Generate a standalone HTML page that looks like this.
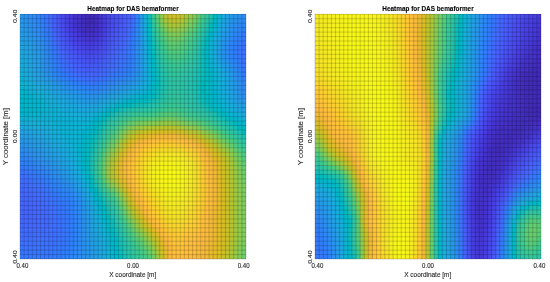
<!DOCTYPE html>
<html><head><meta charset="utf-8"><style>
html,body{margin:0;padding:0;background:#fff;width:550px;height:282px;overflow:hidden}
svg{display:block}
text{font-family:"Liberation Sans",Arial,sans-serif}
</style></head><body>
<svg width="550" height="282" viewBox="0 0 550 282">
<defs><filter id="b" x="-2%" y="-2%" width="104%" height="104%"><feGaussianBlur stdDeviation="0.40"/></filter><filter id="t"><feGaussianBlur stdDeviation="0.30"/></filter></defs>
<rect width="550" height="282" fill="#fff"/>
<g filter="url(#b)"><g shape-rendering="crispEdges">
<path fill="#2895ec" d="M20.00 14.30h4.11v4.45h-4.11zM233.67 14.30h4.11v4.45h-4.11zM24.11 23.20h4.11v4.45h-4.11zM225.45 32.10h4.11v4.45h-4.11zM32.33 36.55h4.11v4.45h-4.11zM36.44 45.44h4.11v4.45h-4.11zM221.35 45.44h4.11v4.45h-4.11zM221.35 54.34h4.11v4.45h-4.11zM40.55 63.24h4.11v4.45h-4.11zM229.56 67.69h4.11v4.45h-4.11zM52.87 81.04h4.11v4.45h-4.11zM69.31 89.93h4.11v4.45h-4.11zM81.64 94.38h4.11v4.45h-4.11zM32.33 147.77h4.11v4.45h-4.11zM48.76 161.12h4.11v4.45h-4.11zM52.87 165.57h4.11v4.45h-4.11zM56.98 170.02h4.11v4.45h-4.11zM61.09 174.47h4.11v4.45h-4.11zM65.20 178.92h4.11v4.45h-4.11zM77.53 192.26h4.11v4.45h-4.11zM81.64 205.61h4.11v4.45h-4.11zM85.75 245.65h4.11v4.45h-4.11zM85.75 250.10h4.11v4.45h-4.11zM85.75 254.55h4.11v4.45h-4.11z"/>
<path fill="#2b91ef" d="M24.11 14.30h4.11v4.45h-4.11zM233.67 18.75h4.11v4.45h-4.11zM28.22 23.20h4.11v4.45h-4.11zM229.56 27.65h4.11v4.45h-4.11zM32.33 32.10h4.11v4.45h-4.11zM225.45 36.55h4.11v4.45h-4.11zM36.44 40.99h4.11v4.45h-4.11zM225.45 58.79h4.11v4.45h-4.11zM135.05 67.69h4.11v4.45h-4.11zM233.67 72.14h4.11v4.45h-4.11zM130.95 76.59h4.11v4.45h-4.11zM20.00 143.32h4.11v4.45h-4.11zM32.33 152.22h4.11v4.45h-4.11zM44.65 161.12h4.11v4.45h-4.11zM48.76 165.57h4.11v4.45h-4.11zM52.87 170.02h4.11v4.45h-4.11zM56.98 174.47h4.11v4.45h-4.11zM81.64 218.96h4.11v4.45h-4.11zM81.64 223.41h4.11v4.45h-4.11zM81.64 227.86h4.11v4.45h-4.11zM81.64 254.55h4.11v4.45h-4.11z"/>
<path fill="#2d8ef2" d="M28.22 14.30h4.11v4.45h-4.11zM32.33 23.20h4.11v4.45h-4.11zM233.67 23.20h4.11v4.45h-4.11zM229.56 32.10h4.11v4.45h-4.11zM225.45 40.99h4.11v4.45h-4.11zM40.55 45.44h4.11v4.45h-4.11zM135.05 45.44h4.11v4.45h-4.11zM135.05 49.89h4.11v4.45h-4.11zM135.05 54.34h4.11v4.45h-4.11zM44.65 63.24h4.11v4.45h-4.11zM48.76 72.14h4.11v4.45h-4.11zM52.87 76.59h4.11v4.45h-4.11zM118.62 81.04h4.11v4.45h-4.11zM237.78 81.04h4.11v4.45h-4.11zM69.31 85.49h4.11v4.45h-4.11zM20.00 147.77h4.11v4.45h-4.11zM28.22 152.22h4.11v4.45h-4.11zM40.55 161.12h4.11v4.45h-4.11zM44.65 165.57h4.11v4.45h-4.11zM69.31 187.81h4.11v4.45h-4.11zM73.42 192.26h4.11v4.45h-4.11zM77.53 201.16h4.11v4.45h-4.11zM77.53 254.55h4.11v4.45h-4.11z"/>
<path fill="#2d8af5" d="M32.33 14.30h4.11v4.45h-4.11zM36.44 27.65h4.11v4.45h-4.11zM135.05 32.10h4.11v4.45h-4.11zM229.56 36.55h4.11v4.45h-4.11zM229.56 58.79h4.11v4.45h-4.11zM48.76 67.69h4.11v4.45h-4.11zM114.51 81.04h4.11v4.45h-4.11zM73.42 85.49h4.11v4.45h-4.11zM89.85 89.93h4.11v4.45h-4.11zM65.20 187.81h4.11v4.45h-4.11zM73.42 196.71h4.11v4.45h-4.11zM77.53 218.96h4.11v4.45h-4.11zM77.53 223.41h4.11v4.45h-4.11zM77.53 227.86h4.11v4.45h-4.11zM77.53 232.31h4.11v4.45h-4.11zM77.53 236.75h4.11v4.45h-4.11zM77.53 241.20h4.11v4.45h-4.11zM73.42 254.55h4.11v4.45h-4.11z"/>
<path fill="#2e83f9" d="M36.44 14.30h4.11v4.45h-4.11zM233.67 36.55h4.11v4.45h-4.11zM44.65 40.99h4.11v4.45h-4.11zM229.56 49.89h4.11v4.45h-4.11zM48.76 54.34h4.11v4.45h-4.11zM52.87 67.69h4.11v4.45h-4.11zM237.78 67.69h4.11v4.45h-4.11zM81.64 85.49h4.11v4.45h-4.11zM98.07 85.49h4.11v4.45h-4.11zM20.00 156.67h4.11v4.45h-4.11zM28.22 161.12h4.11v4.45h-4.11zM44.65 174.47h4.11v4.45h-4.11zM48.76 178.92h4.11v4.45h-4.11zM52.87 183.37h4.11v4.45h-4.11zM73.42 214.51h4.11v4.45h-4.11zM73.42 218.96h4.11v4.45h-4.11zM73.42 223.41h4.11v4.45h-4.11zM73.42 227.86h4.11v4.45h-4.11zM73.42 232.31h4.11v4.45h-4.11zM73.42 236.75h4.11v4.45h-4.11zM65.20 254.55h4.11v4.45h-4.11z"/>
<path fill="#337afd" d="M40.55 14.30h4.11v4.45h-4.11zM130.95 32.10h4.11v4.45h-4.11zM237.78 40.99h4.11v4.45h-4.11zM237.78 58.79h4.11v4.45h-4.11zM241.89 67.69h4.11v4.45h-4.11zM114.51 72.14h4.11v4.45h-4.11zM69.31 76.59h4.11v4.45h-4.11zM98.07 81.04h4.11v4.45h-4.11zM36.44 174.47h4.11v4.45h-4.11zM40.55 178.92h4.11v4.45h-4.11zM44.65 183.37h4.11v4.45h-4.11zM48.76 187.81h4.11v4.45h-4.11zM52.87 192.26h4.11v4.45h-4.11zM56.98 196.71h4.11v4.45h-4.11zM61.09 201.16h4.11v4.45h-4.11zM65.20 210.06h4.11v4.45h-4.11zM65.20 236.75h4.11v4.45h-4.11zM61.09 245.65h4.11v4.45h-4.11zM56.98 250.10h4.11v4.45h-4.11zM48.76 254.55h4.11v4.45h-4.11z"/>
<path fill="#3c71ff" d="M44.65 14.30h4.11v4.45h-4.11zM130.95 18.75h4.11v4.45h-4.11zM48.76 32.10h4.11v4.45h-4.11zM126.84 36.55h4.11v4.45h-4.11zM122.73 49.89h4.11v4.45h-4.11zM241.89 49.89h4.11v4.45h-4.11zM56.98 54.34h4.11v4.45h-4.11zM241.89 54.34h4.11v4.45h-4.11zM118.62 58.79h4.11v4.45h-4.11zM61.09 63.24h4.11v4.45h-4.11zM65.20 67.69h4.11v4.45h-4.11zM110.40 67.69h4.11v4.45h-4.11zM106.29 72.14h4.11v4.45h-4.11zM98.07 76.59h4.11v4.45h-4.11zM24.11 174.47h4.11v4.45h-4.11zM36.44 183.37h4.11v4.45h-4.11zM48.76 201.16h4.11v4.45h-4.11zM52.87 205.61h4.11v4.45h-4.11zM52.87 210.06h4.11v4.45h-4.11zM56.98 227.86h4.11v4.45h-4.11zM52.87 236.75h4.11v4.45h-4.11zM20.00 241.20h4.11v4.45h-4.11zM24.11 241.20h4.11v4.45h-4.11zM28.22 241.20h4.11v4.45h-4.11zM32.33 241.20h4.11v4.45h-4.11zM36.44 241.20h4.11v4.45h-4.11zM40.55 241.20h4.11v4.45h-4.11zM44.65 241.20h4.11v4.45h-4.11zM48.76 241.20h4.11v4.45h-4.11z"/>
<path fill="#4367fd" d="M48.76 14.30h4.11v4.45h-4.11zM126.84 23.20h4.11v4.45h-4.11zM52.87 32.10h4.11v4.45h-4.11zM114.51 49.89h4.11v4.45h-4.11zM65.20 58.79h4.11v4.45h-4.11zM69.31 63.24h4.11v4.45h-4.11zM106.29 63.24h4.11v4.45h-4.11zM73.42 67.69h4.11v4.45h-4.11zM102.18 67.69h4.11v4.45h-4.11zM81.64 72.14h4.11v4.45h-4.11zM20.00 192.26h4.11v4.45h-4.11zM20.00 196.71h4.11v4.45h-4.11zM24.11 196.71h4.11v4.45h-4.11zM28.22 196.71h4.11v4.45h-4.11zM28.22 201.16h4.11v4.45h-4.11zM32.33 201.16h4.11v4.45h-4.11zM32.33 205.61h4.11v4.45h-4.11zM36.44 205.61h4.11v4.45h-4.11zM36.44 210.06h4.11v4.45h-4.11zM20.00 214.51h4.11v4.45h-4.11zM36.44 214.51h4.11v4.45h-4.11zM20.00 218.96h4.11v4.45h-4.11zM24.11 218.96h4.11v4.45h-4.11zM28.22 218.96h4.11v4.45h-4.11zM32.33 218.96h4.11v4.45h-4.11zM36.44 218.96h4.11v4.45h-4.11z"/>
<path fill="#475bfa" d="M52.87 14.30h4.11v4.45h-4.11zM122.73 14.30h4.11v4.45h-4.11zM118.62 27.65h4.11v4.45h-4.11zM56.98 32.10h4.11v4.45h-4.11zM114.51 36.55h4.11v4.45h-4.11zM61.09 40.99h4.11v4.45h-4.11z"/>
<path fill="#4852f4" d="M56.98 14.30h4.11v4.45h-4.11zM114.51 18.75h4.11v4.45h-4.11zM110.40 32.10h4.11v4.45h-4.11zM106.29 40.99h4.11v4.45h-4.11zM69.31 45.44h4.11v4.45h-4.11zM73.42 49.89h4.11v4.45h-4.11z"/>
<path fill="#4849ed" d="M61.09 14.30h4.11v4.45h-4.11zM65.20 32.10h4.11v4.45h-4.11zM106.29 32.10h4.11v4.45h-4.11zM102.18 40.99h4.11v4.45h-4.11zM81.64 49.89h4.11v4.45h-4.11zM93.96 49.89h4.11v4.45h-4.11z"/>
<path fill="#4741e5" d="M65.20 14.30h4.11v4.45h-4.11zM65.20 18.75h4.11v4.45h-4.11zM69.31 32.10h4.11v4.45h-4.11zM102.18 32.10h4.11v4.45h-4.11zM85.75 45.44h4.11v4.45h-4.11zM89.85 45.44h4.11v4.45h-4.11z"/>
<path fill="#4639d9" d="M69.31 14.30h4.11v4.45h-4.11zM98.07 32.10h4.11v4.45h-4.11z"/>
<path fill="#4433cd" d="M73.42 14.30h4.11v4.45h-4.11zM98.07 14.30h4.11v4.45h-4.11zM98.07 18.75h4.11v4.45h-4.11zM93.96 32.10h4.11v4.45h-4.11z"/>
<path fill="#4330c5" d="M77.53 14.30h4.11v4.45h-4.11zM77.53 18.75h4.11v4.45h-4.11zM77.53 23.20h4.11v4.45h-4.11z"/>
<path fill="#412dbd" d="M81.64 14.30h4.11v4.45h-4.11zM81.64 18.75h4.11v4.45h-4.11zM89.85 23.20h4.11v4.45h-4.11z"/>
<path fill="#402bb7" d="M85.75 14.30h4.11v4.45h-4.11zM89.85 14.30h4.11v4.45h-4.11zM85.75 18.75h4.11v4.45h-4.11z"/>
<path fill="#422ebf" d="M93.96 14.30h4.11v4.45h-4.11zM93.96 18.75h4.11v4.45h-4.11zM81.64 23.20h4.11v4.45h-4.11zM85.75 27.65h4.11v4.45h-4.11zM89.85 27.65h4.11v4.45h-4.11z"/>
<path fill="#463bde" d="M102.18 14.30h4.11v4.45h-4.11zM69.31 23.20h4.11v4.45h-4.11zM102.18 23.20h4.11v4.45h-4.11z"/>
<path fill="#4744e8" d="M106.29 14.30h4.11v4.45h-4.11zM106.29 18.75h4.11v4.45h-4.11zM65.20 23.20h4.11v4.45h-4.11zM106.29 23.20h4.11v4.45h-4.11zM93.96 45.44h4.11v4.45h-4.11z"/>
<path fill="#484ef1" d="M110.40 14.30h4.11v4.45h-4.11zM65.20 36.55h4.11v4.45h-4.11zM106.29 36.55h4.11v4.45h-4.11zM77.53 49.89h4.11v4.45h-4.11zM98.07 49.89h4.11v4.45h-4.11zM85.75 54.34h4.11v4.45h-4.11zM89.85 54.34h4.11v4.45h-4.11z"/>
<path fill="#4853f5" d="M114.51 14.30h4.11v4.45h-4.11zM114.51 23.20h4.11v4.45h-4.11zM61.09 32.10h4.11v4.45h-4.11zM65.20 40.99h4.11v4.45h-4.11zM102.18 49.89h4.11v4.45h-4.11zM77.53 54.34h4.11v4.45h-4.11zM98.07 54.34h4.11v4.45h-4.11zM85.75 58.79h4.11v4.45h-4.11zM89.85 58.79h4.11v4.45h-4.11z"/>
<path fill="#4757f7" d="M118.62 14.30h4.11v4.45h-4.11zM118.62 18.75h4.11v4.45h-4.11zM61.09 36.55h4.11v4.45h-4.11zM69.31 49.89h4.11v4.45h-4.11z"/>
<path fill="#4562fc" d="M126.84 14.30h4.11v4.45h-4.11zM52.87 27.65h4.11v4.45h-4.11zM114.51 45.44h4.11v4.45h-4.11zM65.20 54.34h4.11v4.45h-4.11zM106.29 58.79h4.11v4.45h-4.11zM98.07 67.69h4.11v4.45h-4.11z"/>
<path fill="#3f6eff" d="M130.95 14.30h4.11v4.45h-4.11zM48.76 27.65h4.11v4.45h-4.11zM52.87 40.99h4.11v4.45h-4.11zM122.73 45.44h4.11v4.45h-4.11zM118.62 54.34h4.11v4.45h-4.11zM73.42 72.14h4.11v4.45h-4.11zM85.75 76.59h4.11v4.45h-4.11zM93.96 76.59h4.11v4.45h-4.11zM24.11 178.92h4.11v4.45h-4.11zM36.44 187.81h4.11v4.45h-4.11zM40.55 192.26h4.11v4.45h-4.11zM44.65 201.16h4.11v4.45h-4.11zM48.76 205.61h4.11v4.45h-4.11zM48.76 210.06h4.11v4.45h-4.11zM48.76 227.86h4.11v4.45h-4.11zM48.76 232.31h4.11v4.45h-4.11zM20.00 236.75h4.11v4.45h-4.11zM24.11 236.75h4.11v4.45h-4.11zM28.22 236.75h4.11v4.45h-4.11zM32.33 236.75h4.11v4.45h-4.11zM36.44 236.75h4.11v4.45h-4.11zM40.55 236.75h4.11v4.45h-4.11z"/>
<path fill="#2e84f8" d="M135.05 14.30h4.11v4.45h-4.11zM36.44 18.75h4.11v4.45h-4.11zM241.89 23.20h4.11v4.45h-4.11zM40.55 32.10h4.11v4.45h-4.11zM229.56 45.44h4.11v4.45h-4.11zM229.56 54.34h4.11v4.45h-4.11zM48.76 58.79h4.11v4.45h-4.11zM130.95 58.79h4.11v4.45h-4.11zM126.84 72.14h4.11v4.45h-4.11zM61.09 76.59h4.11v4.45h-4.11zM118.62 76.59h4.11v4.45h-4.11zM69.31 81.04h4.11v4.45h-4.11zM241.89 81.04h4.11v4.45h-4.11zM40.55 170.02h4.11v4.45h-4.11zM65.20 192.26h4.11v4.45h-4.11zM69.31 196.71h4.11v4.45h-4.11zM73.42 210.06h4.11v4.45h-4.11zM73.42 241.20h4.11v4.45h-4.11zM69.31 250.10h4.11v4.45h-4.11z"/>
<path fill="#259be8" d="M139.16 14.30h4.11v4.45h-4.11zM229.56 14.30h4.11v4.45h-4.11zM139.16 23.20h4.11v4.45h-4.11zM225.45 23.20h4.11v4.45h-4.11zM20.00 27.65h4.11v4.45h-4.11zM139.16 27.65h4.11v4.45h-4.11zM139.16 32.10h4.11v4.45h-4.11zM139.16 36.55h4.11v4.45h-4.11zM139.16 40.99h4.11v4.45h-4.11zM139.16 45.44h4.11v4.45h-4.11zM139.16 49.89h4.11v4.45h-4.11zM139.16 54.34h4.11v4.45h-4.11zM139.16 58.79h4.11v4.45h-4.11zM36.44 63.24h4.11v4.45h-4.11zM139.16 63.24h4.11v4.45h-4.11zM233.67 89.93h4.11v4.45h-4.11zM73.42 94.38h4.11v4.45h-4.11zM89.85 98.83h4.11v4.45h-4.11zM28.22 138.87h4.11v4.45h-4.11zM40.55 147.77h4.11v4.45h-4.11zM44.65 152.22h4.11v4.45h-4.11zM77.53 187.81h4.11v4.45h-4.11zM85.75 214.51h4.11v4.45h-4.11zM89.85 245.65h4.11v4.45h-4.11z"/>
<path fill="#12b1d6" d="M143.27 14.30h4.11v4.45h-4.11zM209.02 49.89h4.11v4.45h-4.11zM213.13 67.69h4.11v4.45h-4.11zM217.24 76.59h4.11v4.45h-4.11zM24.11 81.04h4.11v4.45h-4.11zM217.24 81.04h4.11v4.45h-4.11zM28.22 85.49h4.11v4.45h-4.11zM217.24 85.49h4.11v4.45h-4.11zM40.55 94.38h4.11v4.45h-4.11zM44.65 98.83h4.11v4.45h-4.11zM221.35 98.83h4.11v4.45h-4.11zM48.76 103.28h4.11v4.45h-4.11zM52.87 107.73h4.11v4.45h-4.11zM56.98 112.18h4.11v4.45h-4.11zM65.20 116.63h4.11v4.45h-4.11zM69.31 116.63h4.11v4.45h-4.11zM73.42 116.63h4.11v4.45h-4.11zM81.64 116.63h4.11v4.45h-4.11zM85.75 116.63h4.11v4.45h-4.11zM44.65 121.08h4.11v4.45h-4.11zM48.76 121.08h4.11v4.45h-4.11zM52.87 125.53h4.11v4.45h-4.11zM56.98 129.98h4.11v4.45h-4.11zM61.09 134.43h4.11v4.45h-4.11zM65.20 138.87h4.11v4.45h-4.11zM69.31 143.32h4.11v4.45h-4.11zM73.42 152.22h4.11v4.45h-4.11zM77.53 165.57h4.11v4.45h-4.11zM85.75 183.37h4.11v4.45h-4.11zM89.85 192.26h4.11v4.45h-4.11zM106.29 245.65h4.11v4.45h-4.11z"/>
<path fill="#14beb8" d="M147.38 14.30h4.11v4.45h-4.11zM209.02 18.75h4.11v4.45h-4.11zM151.49 40.99h4.11v4.45h-4.11zM200.80 40.99h4.11v4.45h-4.11zM196.69 76.59h4.11v4.45h-4.11zM196.69 81.04h4.11v4.45h-4.11zM196.69 89.93h4.11v4.45h-4.11zM196.69 94.38h4.11v4.45h-4.11zM135.05 103.28h4.11v4.45h-4.11zM118.62 107.73h4.11v4.45h-4.11zM110.40 112.18h4.11v4.45h-4.11zM221.35 116.63h4.11v4.45h-4.11zM102.18 121.08h4.11v4.45h-4.11zM233.67 125.53h4.11v4.45h-4.11zM98.07 129.98h4.11v4.45h-4.11zM93.96 138.87h4.11v4.45h-4.11zM93.96 183.37h4.11v4.45h-4.11z"/>
<path fill="#38c896" d="M151.49 14.30h4.11v4.45h-4.11zM155.60 32.10h4.11v4.45h-4.11zM192.58 36.55h4.11v4.45h-4.11zM159.71 45.44h4.11v4.45h-4.11zM167.93 103.28h4.11v4.45h-4.11zM172.04 103.28h4.11v4.45h-4.11zM135.05 112.18h4.11v4.45h-4.11zM114.51 121.08h4.11v4.45h-4.11zM98.07 152.22h4.11v4.45h-4.11zM122.73 227.86h4.11v4.45h-4.11zM126.84 236.75h4.11v4.45h-4.11z"/>
<path fill="#64cd6f" d="M155.60 14.30h4.11v4.45h-4.11zM172.04 40.99h4.11v4.45h-4.11zM155.60 116.63h4.11v4.45h-4.11zM192.58 121.08h4.11v4.45h-4.11zM229.56 143.32h4.11v4.45h-4.11zM106.29 147.77h4.11v4.45h-4.11zM233.67 147.77h4.11v4.45h-4.11zM102.18 161.12h4.11v4.45h-4.11z"/>
<path fill="#8fcb4e" d="M159.71 14.30h4.11v4.45h-4.11zM163.82 23.20h4.11v4.45h-4.11zM167.93 27.65h4.11v4.45h-4.11zM176.15 121.08h4.11v4.45h-4.11zM221.35 143.32h4.11v4.45h-4.11zM229.56 152.22h4.11v4.45h-4.11zM233.67 161.12h4.11v4.45h-4.11zM237.78 192.26h4.11v4.45h-4.11zM237.78 196.71h4.11v4.45h-4.11zM237.78 201.16h4.11v4.45h-4.11zM237.78 205.61h4.11v4.45h-4.11zM237.78 210.06h4.11v4.45h-4.11zM237.78 214.51h4.11v4.45h-4.11zM130.95 218.96h4.11v4.45h-4.11zM237.78 218.96h4.11v4.45h-4.11zM237.78 236.75h4.11v4.45h-4.11z"/>
<path fill="#b5c533" d="M163.82 14.30h4.11v4.45h-4.11zM155.60 125.53h4.11v4.45h-4.11zM176.15 125.53h4.11v4.45h-4.11zM200.80 134.43h4.11v4.45h-4.11zM213.13 143.32h4.11v4.45h-4.11zM225.45 156.67h4.11v4.45h-4.11zM110.40 174.47h4.11v4.45h-4.11zM229.56 187.81h4.11v4.45h-4.11zM229.56 192.26h4.11v4.45h-4.11zM229.56 196.71h4.11v4.45h-4.11zM229.56 201.16h4.11v4.45h-4.11zM229.56 205.61h4.11v4.45h-4.11zM229.56 210.06h4.11v4.45h-4.11zM139.16 223.41h4.11v4.45h-4.11zM143.27 227.86h4.11v4.45h-4.11zM147.38 232.31h4.11v4.45h-4.11zM229.56 241.20h4.11v4.45h-4.11z"/>
<path fill="#c8c129" d="M167.93 14.30h4.11v4.45h-4.11zM143.27 129.98h4.11v4.45h-4.11zM184.36 129.98h4.11v4.45h-4.11zM209.02 143.32h4.11v4.45h-4.11zM114.51 156.67h4.11v4.45h-4.11zM118.62 183.37h4.11v4.45h-4.11zM225.45 192.26h4.11v4.45h-4.11zM225.45 196.71h4.11v4.45h-4.11zM225.45 201.16h4.11v4.45h-4.11zM130.95 205.61h4.11v4.45h-4.11zM225.45 205.61h4.11v4.45h-4.11zM225.45 210.06h4.11v4.45h-4.11zM225.45 214.51h4.11v4.45h-4.11zM139.16 218.96h4.11v4.45h-4.11zM225.45 218.96h4.11v4.45h-4.11zM225.45 223.41h4.11v4.45h-4.11zM225.45 227.86h4.11v4.45h-4.11zM225.45 232.31h4.11v4.45h-4.11zM225.45 236.75h4.11v4.45h-4.11zM221.35 254.55h4.11v4.45h-4.11z"/>
<path fill="#cec027" d="M172.04 14.30h4.11v4.45h-4.11zM147.38 129.98h4.11v4.45h-4.11zM126.84 138.87h4.11v4.45h-4.11zM221.35 161.12h4.11v4.45h-4.11zM126.84 196.71h4.11v4.45h-4.11zM151.49 232.31h4.11v4.45h-4.11zM221.35 250.10h4.11v4.45h-4.11z"/>
<path fill="#cbc128" d="M176.15 14.30h4.11v4.45h-4.11zM130.95 134.43h4.11v4.45h-4.11zM122.73 143.32h4.11v4.45h-4.11zM213.13 147.77h4.11v4.45h-4.11zM217.24 152.22h4.11v4.45h-4.11zM143.27 223.41h4.11v4.45h-4.11zM147.38 227.86h4.11v4.45h-4.11zM159.71 250.10h4.11v4.45h-4.11z"/>
<path fill="#bec32d" d="M180.25 14.30h4.11v4.45h-4.11zM172.04 18.75h4.11v4.45h-4.11zM225.45 165.57h4.11v4.45h-4.11zM225.45 250.10h4.11v4.45h-4.11z"/>
<path fill="#abc739" d="M184.36 14.30h4.11v4.45h-4.11zM172.04 23.20h4.11v4.45h-4.11zM176.15 23.20h4.11v4.45h-4.11zM147.38 125.53h4.11v4.45h-4.11zM180.25 125.53h4.11v4.45h-4.11zM229.56 165.57h4.11v4.45h-4.11zM114.51 183.37h4.11v4.45h-4.11z"/>
<path fill="#93ca4b" d="M188.47 14.30h4.11v4.45h-4.11zM176.15 27.65h4.11v4.45h-4.11zM159.71 121.08h4.11v4.45h-4.11zM172.04 121.08h4.11v4.45h-4.11zM200.80 129.98h4.11v4.45h-4.11zM209.02 134.43h4.11v4.45h-4.11zM114.51 143.32h4.11v4.45h-4.11zM225.45 147.77h4.11v4.45h-4.11zM106.29 165.57h4.11v4.45h-4.11zM106.29 170.02h4.11v4.45h-4.11zM122.73 201.16h4.11v4.45h-4.11zM237.78 223.41h4.11v4.45h-4.11zM237.78 227.86h4.11v4.45h-4.11zM237.78 232.31h4.11v4.45h-4.11z"/>
<path fill="#76cc61" d="M192.58 14.30h4.11v4.45h-4.11zM188.47 23.20h4.11v4.45h-4.11zM180.25 32.10h4.11v4.45h-4.11zM106.29 152.22h4.11v4.45h-4.11zM233.67 152.22h4.11v4.45h-4.11zM237.78 161.12h4.11v4.45h-4.11zM241.89 183.37h4.11v4.45h-4.11zM241.89 245.65h4.11v4.45h-4.11z"/>
<path fill="#5acc77" d="M196.69 14.30h4.11v4.45h-4.11zM192.58 23.20h4.11v4.45h-4.11zM163.82 36.55h4.11v4.45h-4.11zM180.25 40.99h4.11v4.45h-4.11zM172.04 45.44h4.11v4.45h-4.11zM147.38 116.63h4.11v4.45h-4.11zM196.69 121.08h4.11v4.45h-4.11zM118.62 205.61h4.11v4.45h-4.11zM126.84 223.41h4.11v4.45h-4.11zM135.05 236.75h4.11v4.45h-4.11z"/>
<path fill="#42ca8b" d="M200.80 14.30h4.11v4.45h-4.11zM196.69 23.20h4.11v4.45h-4.11zM167.93 54.34h4.11v4.45h-4.11zM180.25 54.34h4.11v4.45h-4.11zM167.93 107.73h4.11v4.45h-4.11zM172.04 107.73h4.11v4.45h-4.11zM126.84 116.63h4.11v4.45h-4.11zM118.62 121.08h4.11v4.45h-4.11zM98.07 161.12h4.11v4.45h-4.11zM98.07 165.57h4.11v4.45h-4.11z"/>
<path fill="#31c5a1" d="M204.91 14.30h4.11v4.45h-4.11zM192.58 45.44h4.11v4.45h-4.11zM159.71 54.34h4.11v4.45h-4.11zM188.47 58.79h4.11v4.45h-4.11zM163.82 63.24h4.11v4.45h-4.11zM172.04 94.38h4.11v4.45h-4.11zM176.15 94.38h4.11v4.45h-4.11zM180.25 98.83h4.11v4.45h-4.11zM159.71 103.28h4.11v4.45h-4.11zM184.36 103.28h4.11v4.45h-4.11zM118.62 223.41h4.11v4.45h-4.11zM130.95 254.55h4.11v4.45h-4.11z"/>
<path fill="#20c1b1" d="M209.02 14.30h4.11v4.45h-4.11zM196.69 54.34h4.11v4.45h-4.11zM159.71 72.14h4.11v4.45h-4.11zM192.58 72.14h4.11v4.45h-4.11zM192.58 94.38h4.11v4.45h-4.11zM147.38 103.28h4.11v4.45h-4.11zM114.51 112.18h4.11v4.45h-4.11zM217.24 116.63h4.11v4.45h-4.11zM114.51 223.41h4.11v4.45h-4.11zM122.73 250.10h4.11v4.45h-4.11z"/>
<path fill="#01bac4" d="M213.13 14.30h4.11v4.45h-4.11zM147.38 27.65h4.11v4.45h-4.11zM204.91 72.14h4.11v4.45h-4.11zM204.91 76.59h4.11v4.45h-4.11zM204.91 81.04h4.11v4.45h-4.11zM204.91 85.49h4.11v4.45h-4.11zM151.49 89.93h4.11v4.45h-4.11zM204.91 89.93h4.11v4.45h-4.11zM204.91 94.38h4.11v4.45h-4.11zM221.35 112.18h4.11v4.45h-4.11z"/>
<path fill="#0bb3d2" d="M217.24 14.30h4.11v4.45h-4.11zM213.13 72.14h4.11v4.45h-4.11zM28.22 89.93h4.11v4.45h-4.11zM143.27 89.93h4.11v4.45h-4.11zM36.44 94.38h4.11v4.45h-4.11zM135.05 94.38h4.11v4.45h-4.11zM40.55 98.83h4.11v4.45h-4.11zM110.40 103.28h4.11v4.45h-4.11zM221.35 103.28h4.11v4.45h-4.11zM44.65 107.73h4.11v4.45h-4.11zM225.45 107.73h4.11v4.45h-4.11zM40.55 112.18h4.11v4.45h-4.11zM44.65 112.18h4.11v4.45h-4.11zM237.78 116.63h4.11v4.45h-4.11zM85.75 121.08h4.11v4.45h-4.11zM77.53 125.53h4.11v4.45h-4.11zM81.64 125.53h4.11v4.45h-4.11zM73.42 129.98h4.11v4.45h-4.11zM73.42 134.43h4.11v4.45h-4.11zM73.42 138.87h4.11v4.45h-4.11zM77.53 156.67h4.11v4.45h-4.11zM98.07 210.06h4.11v4.45h-4.11zM102.18 223.41h4.11v4.45h-4.11z"/>
<path fill="#1caadf" d="M221.35 14.30h4.11v4.45h-4.11zM217.24 27.65h4.11v4.45h-4.11zM213.13 40.99h4.11v4.45h-4.11zM143.27 45.44h4.11v4.45h-4.11zM221.35 72.14h4.11v4.45h-4.11zM143.27 76.59h4.11v4.45h-4.11zM44.65 89.93h4.11v4.45h-4.11zM130.95 89.93h4.11v4.45h-4.11zM225.45 94.38h4.11v4.45h-4.11zM56.98 98.83h4.11v4.45h-4.11zM65.20 103.28h4.11v4.45h-4.11zM77.53 107.73h4.11v4.45h-4.11zM89.85 107.73h4.11v4.45h-4.11zM241.89 112.18h4.11v4.45h-4.11zM28.22 125.53h4.11v4.45h-4.11zM40.55 129.98h4.11v4.45h-4.11zM69.31 161.12h4.11v4.45h-4.11zM89.85 201.16h4.11v4.45h-4.11zM93.96 218.96h4.11v4.45h-4.11zM102.18 250.10h4.11v4.45h-4.11z"/>
<path fill="#22a2e4" d="M225.45 14.30h4.11v4.45h-4.11zM20.00 40.99h4.11v4.45h-4.11zM24.11 45.44h4.11v4.45h-4.11zM32.33 67.69h4.11v4.45h-4.11zM36.44 76.59h4.11v4.45h-4.11zM229.56 89.93h4.11v4.45h-4.11zM110.40 94.38h4.11v4.45h-4.11zM233.67 98.83h4.11v4.45h-4.11zM237.78 103.28h4.11v4.45h-4.11zM20.00 129.98h4.11v4.45h-4.11zM32.33 134.43h4.11v4.45h-4.11zM44.65 143.32h4.11v4.45h-4.11zM48.76 147.77h4.11v4.45h-4.11zM65.20 165.57h4.11v4.45h-4.11zM89.85 218.96h4.11v4.45h-4.11zM93.96 241.20h4.11v4.45h-4.11z"/>
<path fill="#2c90f0" d="M237.78 14.30h4.11v4.45h-4.11zM28.22 18.75h4.11v4.45h-4.11zM40.55 49.89h4.11v4.45h-4.11zM135.05 63.24h4.11v4.45h-4.11zM44.65 67.69h4.11v4.45h-4.11zM56.98 81.04h4.11v4.45h-4.11zM122.73 81.04h4.11v4.45h-4.11zM65.20 85.49h4.11v4.45h-4.11zM237.78 85.49h4.11v4.45h-4.11zM77.53 89.93h4.11v4.45h-4.11zM102.18 89.93h4.11v4.45h-4.11zM241.89 94.38h4.11v4.45h-4.11zM36.44 156.67h4.11v4.45h-4.11zM61.09 178.92h4.11v4.45h-4.11zM77.53 196.71h4.11v4.45h-4.11zM81.64 232.31h4.11v4.45h-4.11zM81.64 236.75h4.11v4.45h-4.11zM81.64 241.20h4.11v4.45h-4.11zM81.64 245.65h4.11v4.45h-4.11zM81.64 250.10h4.11v4.45h-4.11z"/>
<path fill="#2d8cf3" d="M241.89 14.30h4.11v4.45h-4.11zM237.78 18.75h4.11v4.45h-4.11zM36.44 32.10h4.11v4.45h-4.11zM135.05 40.99h4.11v4.45h-4.11zM225.45 54.34h4.11v4.45h-4.11zM44.65 58.79h4.11v4.45h-4.11zM233.67 67.69h4.11v4.45h-4.11zM61.09 81.04h4.11v4.45h-4.11zM81.64 89.93h4.11v4.45h-4.11zM98.07 89.93h4.11v4.45h-4.11zM241.89 89.93h4.11v4.45h-4.11zM32.33 156.67h4.11v4.45h-4.11zM48.76 170.02h4.11v4.45h-4.11zM52.87 174.47h4.11v4.45h-4.11zM56.98 178.92h4.11v4.45h-4.11zM77.53 205.61h4.11v4.45h-4.11zM77.53 250.10h4.11v4.45h-4.11z"/>
<path fill="#2797eb" d="M20.00 18.75h4.11v4.45h-4.11zM28.22 32.10h4.11v4.45h-4.11zM221.35 40.99h4.11v4.45h-4.11zM40.55 67.69h4.11v4.45h-4.11zM233.67 81.04h4.11v4.45h-4.11zM118.62 85.49h4.11v4.45h-4.11zM98.07 94.38h4.11v4.45h-4.11zM241.89 98.83h4.11v4.45h-4.11zM20.00 138.87h4.11v4.45h-4.11zM28.22 143.32h4.11v4.45h-4.11zM44.65 156.67h4.11v4.45h-4.11zM81.64 201.16h4.11v4.45h-4.11zM85.75 236.75h4.11v4.45h-4.11zM85.75 241.20h4.11v4.45h-4.11z"/>
<path fill="#2994ed" d="M24.11 18.75h4.11v4.45h-4.11zM229.56 23.20h4.11v4.45h-4.11zM28.22 27.65h4.11v4.45h-4.11zM221.35 49.89h4.11v4.45h-4.11zM40.55 58.79h4.11v4.45h-4.11zM44.65 72.14h4.11v4.45h-4.11zM135.05 72.14h4.11v4.45h-4.11zM48.76 76.59h4.11v4.45h-4.11zM233.67 76.59h4.11v4.45h-4.11zM126.84 81.04h4.11v4.45h-4.11zM61.09 85.49h4.11v4.45h-4.11zM106.29 89.93h4.11v4.45h-4.11zM237.78 89.93h4.11v4.45h-4.11zM85.75 94.38h4.11v4.45h-4.11zM93.96 94.38h4.11v4.45h-4.11zM24.11 143.32h4.11v4.45h-4.11zM36.44 152.22h4.11v4.45h-4.11zM69.31 183.37h4.11v4.45h-4.11zM73.42 187.81h4.11v4.45h-4.11zM81.64 210.06h4.11v4.45h-4.11z"/>
<path fill="#2d8bf4" d="M32.33 18.75h4.11v4.45h-4.11zM233.67 27.65h4.11v4.45h-4.11zM135.05 36.55h4.11v4.45h-4.11zM40.55 40.99h4.11v4.45h-4.11zM225.45 45.44h4.11v4.45h-4.11zM225.45 49.89h4.11v4.45h-4.11zM44.65 54.34h4.11v4.45h-4.11zM130.95 72.14h4.11v4.45h-4.11zM126.84 76.59h4.11v4.45h-4.11zM237.78 76.59h4.11v4.45h-4.11zM106.29 85.49h4.11v4.45h-4.11zM85.75 89.93h4.11v4.45h-4.11zM93.96 89.93h4.11v4.45h-4.11zM24.11 152.22h4.11v4.45h-4.11zM36.44 161.12h4.11v4.45h-4.11zM61.09 183.37h4.11v4.45h-4.11zM77.53 210.06h4.11v4.45h-4.11zM77.53 214.51h4.11v4.45h-4.11zM77.53 245.65h4.11v4.45h-4.11z"/>
<path fill="#317dfc" d="M40.55 18.75h4.11v4.45h-4.11zM130.95 36.55h4.11v4.45h-4.11zM237.78 36.55h4.11v4.45h-4.11zM233.67 45.44h4.11v4.45h-4.11zM52.87 58.79h4.11v4.45h-4.11zM126.84 63.24h4.11v4.45h-4.11zM56.98 67.69h4.11v4.45h-4.11zM118.62 72.14h4.11v4.45h-4.11zM241.89 72.14h4.11v4.45h-4.11zM110.40 76.59h4.11v4.45h-4.11zM102.18 81.04h4.11v4.45h-4.11zM56.98 192.26h4.11v4.45h-4.11zM61.09 196.71h4.11v4.45h-4.11zM65.20 201.16h4.11v4.45h-4.11zM69.31 214.51h4.11v4.45h-4.11zM69.31 218.96h4.11v4.45h-4.11zM69.31 223.41h4.11v4.45h-4.11zM69.31 227.86h4.11v4.45h-4.11zM69.31 232.31h4.11v4.45h-4.11zM65.20 245.65h4.11v4.45h-4.11zM61.09 250.10h4.11v4.45h-4.11zM56.98 254.55h4.11v4.45h-4.11z"/>
<path fill="#3b73ff" d="M44.65 18.75h4.11v4.45h-4.11zM52.87 45.44h4.11v4.45h-4.11zM241.89 45.44h4.11v4.45h-4.11zM122.73 54.34h4.11v4.45h-4.11zM241.89 58.79h4.11v4.45h-4.11zM69.31 72.14h4.11v4.45h-4.11zM77.53 76.59h4.11v4.45h-4.11zM32.33 178.92h4.11v4.45h-4.11zM40.55 187.81h4.11v4.45h-4.11zM44.65 192.26h4.11v4.45h-4.11zM48.76 196.71h4.11v4.45h-4.11zM56.98 214.51h4.11v4.45h-4.11zM56.98 218.96h4.11v4.45h-4.11zM56.98 223.41h4.11v4.45h-4.11zM56.98 232.31h4.11v4.45h-4.11zM56.98 236.75h4.11v4.45h-4.11zM52.87 241.20h4.11v4.45h-4.11zM24.11 245.65h4.11v4.45h-4.11zM28.22 245.65h4.11v4.45h-4.11zM32.33 245.65h4.11v4.45h-4.11zM36.44 245.65h4.11v4.45h-4.11zM40.55 245.65h4.11v4.45h-4.11z"/>
<path fill="#4368fe" d="M48.76 18.75h4.11v4.45h-4.11zM122.73 36.55h4.11v4.45h-4.11zM56.98 45.44h4.11v4.45h-4.11zM118.62 45.44h4.11v4.45h-4.11zM110.40 58.79h4.11v4.45h-4.11zM98.07 72.14h4.11v4.45h-4.11zM20.00 187.81h4.11v4.45h-4.11zM24.11 192.26h4.11v4.45h-4.11zM28.22 192.26h4.11v4.45h-4.11zM32.33 196.71h4.11v4.45h-4.11zM36.44 201.16h4.11v4.45h-4.11zM40.55 210.06h4.11v4.45h-4.11zM40.55 214.51h4.11v4.45h-4.11zM40.55 218.96h4.11v4.45h-4.11zM20.00 223.41h4.11v4.45h-4.11zM24.11 223.41h4.11v4.45h-4.11zM28.22 223.41h4.11v4.45h-4.11zM32.33 223.41h4.11v4.45h-4.11zM36.44 223.41h4.11v4.45h-4.11z"/>
<path fill="#465efb" d="M52.87 18.75h4.11v4.45h-4.11zM122.73 23.20h4.11v4.45h-4.11zM118.62 32.10h4.11v4.45h-4.11zM114.51 40.99h4.11v4.45h-4.11zM65.20 49.89h4.11v4.45h-4.11zM77.53 63.24h4.11v4.45h-4.11zM85.75 67.69h4.11v4.45h-4.11zM89.85 67.69h4.11v4.45h-4.11z"/>
<path fill="#4854f6" d="M56.98 18.75h4.11v4.45h-4.11zM110.40 36.55h4.11v4.45h-4.11zM81.64 58.79h4.11v4.45h-4.11zM93.96 58.79h4.11v4.45h-4.11z"/>
<path fill="#484bee" d="M61.09 18.75h4.11v4.45h-4.11z"/>
<path fill="#463adc" d="M69.31 18.75h4.11v4.45h-4.11zM102.18 18.75h4.11v4.45h-4.11zM73.42 32.10h4.11v4.45h-4.11zM77.53 36.55h4.11v4.45h-4.11zM85.75 40.99h4.11v4.45h-4.11zM89.85 40.99h4.11v4.45h-4.11z"/>
<path fill="#4434d0" d="M73.42 18.75h4.11v4.45h-4.11zM73.42 23.20h4.11v4.45h-4.11zM98.07 23.20h4.11v4.45h-4.11z"/>
<path fill="#412cba" d="M89.85 18.75h4.11v4.45h-4.11zM85.75 23.20h4.11v4.45h-4.11z"/>
<path fill="#484cf0" d="M110.40 18.75h4.11v4.45h-4.11zM61.09 23.20h4.11v4.45h-4.11zM110.40 23.20h4.11v4.45h-4.11zM69.31 40.99h4.11v4.45h-4.11zM73.42 45.44h4.11v4.45h-4.11z"/>
<path fill="#475dfa" d="M122.73 18.75h4.11v4.45h-4.11zM110.40 45.44h4.11v4.45h-4.11zM69.31 54.34h4.11v4.45h-4.11zM73.42 58.79h4.11v4.45h-4.11zM102.18 58.79h4.11v4.45h-4.11zM98.07 63.24h4.11v4.45h-4.11z"/>
<path fill="#4564fd" d="M126.84 18.75h4.11v4.45h-4.11zM122.73 32.10h4.11v4.45h-4.11zM56.98 40.99h4.11v4.45h-4.11zM118.62 40.99h4.11v4.45h-4.11zM77.53 67.69h4.11v4.45h-4.11z"/>
<path fill="#2e86f8" d="M135.05 18.75h4.11v4.45h-4.11zM237.78 27.65h4.11v4.45h-4.11zM44.65 45.44h4.11v4.45h-4.11zM130.95 63.24h4.11v4.45h-4.11zM110.40 81.04h4.11v4.45h-4.11zM77.53 85.49h4.11v4.45h-4.11zM24.11 156.67h4.11v4.45h-4.11zM36.44 165.57h4.11v4.45h-4.11zM61.09 187.81h4.11v4.45h-4.11zM73.42 205.61h4.11v4.45h-4.11zM73.42 245.65h4.11v4.45h-4.11zM69.31 254.55h4.11v4.45h-4.11z"/>
<path fill="#269ae8" d="M139.16 18.75h4.11v4.45h-4.11zM24.11 32.10h4.11v4.45h-4.11zM221.35 36.55h4.11v4.45h-4.11zM32.33 45.44h4.11v4.45h-4.11zM36.44 54.34h4.11v4.45h-4.11zM36.44 58.79h4.11v4.45h-4.11zM221.35 58.79h4.11v4.45h-4.11zM229.56 72.14h4.11v4.45h-4.11zM48.76 81.04h4.11v4.45h-4.11zM122.73 85.49h4.11v4.45h-4.11zM102.18 94.38h4.11v4.45h-4.11zM48.76 156.67h4.11v4.45h-4.11zM52.87 161.12h4.11v4.45h-4.11zM56.98 165.57h4.11v4.45h-4.11zM61.09 170.02h4.11v4.45h-4.11zM65.20 174.47h4.11v4.45h-4.11zM69.31 178.92h4.11v4.45h-4.11zM73.42 183.37h4.11v4.45h-4.11zM81.64 196.71h4.11v4.45h-4.11zM85.75 218.96h4.11v4.45h-4.11zM89.85 250.10h4.11v4.45h-4.11z"/>
<path fill="#16afd9" d="M143.27 18.75h4.11v4.45h-4.11zM213.13 32.10h4.11v4.45h-4.11zM217.24 72.14h4.11v4.45h-4.11zM24.11 76.59h4.11v4.45h-4.11zM32.33 85.49h4.11v4.45h-4.11zM126.84 94.38h4.11v4.45h-4.11zM221.35 94.38h4.11v4.45h-4.11zM48.76 98.83h4.11v4.45h-4.11zM114.51 98.83h4.11v4.45h-4.11zM52.87 103.28h4.11v4.45h-4.11zM98.07 107.73h4.11v4.45h-4.11zM69.31 112.18h4.11v4.45h-4.11zM89.85 112.18h4.11v4.45h-4.11zM28.22 121.08h4.11v4.45h-4.11zM32.33 121.08h4.11v4.45h-4.11zM44.65 125.53h4.11v4.45h-4.11zM61.09 138.87h4.11v4.45h-4.11zM65.20 143.32h4.11v4.45h-4.11zM93.96 205.61h4.11v4.45h-4.11zM106.29 254.55h4.11v4.45h-4.11z"/>
<path fill="#0dbdbc" d="M147.38 18.75h4.11v4.45h-4.11zM155.60 72.14h4.11v4.45h-4.11zM155.60 89.93h4.11v4.45h-4.11zM147.38 98.83h4.11v4.45h-4.11zM130.95 103.28h4.11v4.45h-4.11zM204.91 103.28h4.11v4.45h-4.11zM229.56 121.08h4.11v4.45h-4.11zM89.85 174.47h4.11v4.45h-4.11zM106.29 210.06h4.11v4.45h-4.11zM114.51 232.31h4.11v4.45h-4.11zM118.62 250.10h4.11v4.45h-4.11z"/>
<path fill="#33c79d" d="M151.49 18.75h4.11v4.45h-4.11zM196.69 32.10h4.11v4.45h-4.11zM159.71 49.89h4.11v4.45h-4.11zM188.47 54.34h4.11v4.45h-4.11zM172.04 98.83h4.11v4.45h-4.11zM176.15 98.83h4.11v4.45h-4.11zM204.91 116.63h4.11v4.45h-4.11zM102.18 138.87h4.11v4.45h-4.11zM237.78 138.87h4.11v4.45h-4.11zM241.89 143.32h4.11v4.45h-4.11zM98.07 147.77h4.11v4.45h-4.11zM102.18 187.81h4.11v4.45h-4.11zM114.51 210.06h4.11v4.45h-4.11zM130.95 250.10h4.11v4.45h-4.11z"/>
<path fill="#57cc7a" d="M155.60 18.75h4.11v4.45h-4.11zM184.36 36.55h4.11v4.45h-4.11zM176.15 45.44h4.11v4.45h-4.11zM167.93 112.18h4.11v4.45h-4.11zM143.27 116.63h4.11v4.45h-4.11zM184.36 116.63h4.11v4.45h-4.11zM118.62 125.53h4.11v4.45h-4.11zM221.35 134.43h4.11v4.45h-4.11zM241.89 156.67h4.11v4.45h-4.11zM114.51 196.71h4.11v4.45h-4.11zM147.38 254.55h4.11v4.45h-4.11z"/>
<path fill="#84cc56" d="M159.71 18.75h4.11v4.45h-4.11zM188.47 18.75h4.11v4.45h-4.11zM180.25 121.08h4.11v4.45h-4.11zM204.91 129.98h4.11v4.45h-4.11zM118.62 134.43h4.11v4.45h-4.11zM106.29 156.67h4.11v4.45h-4.11zM233.67 156.67h4.11v4.45h-4.11zM237.78 174.47h4.11v4.45h-4.11zM139.16 232.31h4.11v4.45h-4.11zM151.49 250.10h4.11v4.45h-4.11zM237.78 250.10h4.11v4.45h-4.11z"/>
<path fill="#a4c83e" d="M163.82 18.75h4.11v4.45h-4.11zM167.93 23.20h4.11v4.45h-4.11zM143.27 125.53h4.11v4.45h-4.11zM196.69 129.98h4.11v4.45h-4.11zM204.91 134.43h4.11v4.45h-4.11zM217.24 143.32h4.11v4.45h-4.11zM233.67 192.26h4.11v4.45h-4.11zM233.67 196.71h4.11v4.45h-4.11zM233.67 201.16h4.11v4.45h-4.11zM233.67 205.61h4.11v4.45h-4.11zM233.67 210.06h4.11v4.45h-4.11zM130.95 214.51h4.11v4.45h-4.11zM233.67 214.51h4.11v4.45h-4.11zM233.67 218.96h4.11v4.45h-4.11zM233.67 223.41h4.11v4.45h-4.11zM233.67 227.86h4.11v4.45h-4.11zM233.67 232.31h4.11v4.45h-4.11zM233.67 236.75h4.11v4.45h-4.11z"/>
<path fill="#b8c431" d="M167.93 18.75h4.11v4.45h-4.11zM159.71 125.53h4.11v4.45h-4.11zM172.04 125.53h4.11v4.45h-4.11zM135.05 129.98h4.11v4.45h-4.11zM126.84 134.43h4.11v4.45h-4.11zM122.73 138.87h4.11v4.45h-4.11zM217.24 147.77h4.11v4.45h-4.11zM114.51 152.22h4.11v4.45h-4.11zM221.35 152.22h4.11v4.45h-4.11zM110.40 165.57h4.11v4.45h-4.11zM110.40 170.02h4.11v4.45h-4.11zM130.95 210.06h4.11v4.45h-4.11zM229.56 214.51h4.11v4.45h-4.11zM229.56 218.96h4.11v4.45h-4.11zM229.56 223.41h4.11v4.45h-4.11zM229.56 227.86h4.11v4.45h-4.11zM229.56 232.31h4.11v4.45h-4.11zM229.56 236.75h4.11v4.45h-4.11zM155.60 245.65h4.11v4.45h-4.11zM225.45 254.55h4.11v4.45h-4.11z"/>
<path fill="#bbc42f" d="M176.15 18.75h4.11v4.45h-4.11zM163.82 125.53h4.11v4.45h-4.11zM167.93 125.53h4.11v4.45h-4.11zM188.47 129.98h4.11v4.45h-4.11zM225.45 161.12h4.11v4.45h-4.11zM122.73 192.26h4.11v4.45h-4.11zM126.84 201.16h4.11v4.45h-4.11zM151.49 236.75h4.11v4.45h-4.11z"/>
<path fill="#b2c635" d="M180.25 18.75h4.11v4.45h-4.11zM192.58 129.98h4.11v4.45h-4.11zM209.02 138.87h4.11v4.45h-4.11zM118.62 143.32h4.11v4.45h-4.11zM110.40 161.12h4.11v4.45h-4.11zM229.56 174.47h4.11v4.45h-4.11zM229.56 178.92h4.11v4.45h-4.11zM229.56 183.37h4.11v4.45h-4.11zM118.62 187.81h4.11v4.45h-4.11zM229.56 245.65h4.11v4.45h-4.11z"/>
<path fill="#9dc943" d="M184.36 18.75h4.11v4.45h-4.11zM180.25 23.20h4.11v4.45h-4.11zM139.16 125.53h4.11v4.45h-4.11zM126.84 129.98h4.11v4.45h-4.11zM118.62 138.87h4.11v4.45h-4.11zM213.13 138.87h4.11v4.45h-4.11zM229.56 156.67h4.11v4.45h-4.11zM233.67 174.47h4.11v4.45h-4.11zM233.67 178.92h4.11v4.45h-4.11zM139.16 227.86h4.11v4.45h-4.11zM143.27 232.31h4.11v4.45h-4.11zM233.67 245.65h4.11v4.45h-4.11z"/>
<path fill="#6bcd69" d="M192.58 18.75h4.11v4.45h-4.11zM159.71 116.63h4.11v4.45h-4.11zM176.15 116.63h4.11v4.45h-4.11zM130.95 121.08h4.11v4.45h-4.11zM122.73 125.53h4.11v4.45h-4.11zM217.24 134.43h4.11v4.45h-4.11zM241.89 170.02h4.11v4.45h-4.11zM118.62 201.16h4.11v4.45h-4.11zM241.89 254.55h4.11v4.45h-4.11z"/>
<path fill="#4ecc81" d="M196.69 18.75h4.11v4.45h-4.11zM163.82 40.99h4.11v4.45h-4.11zM184.36 40.99h4.11v4.45h-4.11zM159.71 112.18h4.11v4.45h-4.11zM188.47 116.63h4.11v4.45h-4.11zM110.40 134.43h4.11v4.45h-4.11zM229.56 138.87h4.11v4.45h-4.11zM110.40 192.26h4.11v4.45h-4.11zM122.73 218.96h4.11v4.45h-4.11z"/>
<path fill="#39c994" d="M200.80 18.75h4.11v4.45h-4.11zM196.69 27.65h4.11v4.45h-4.11zM163.82 54.34h4.11v4.45h-4.11zM172.04 63.24h4.11v4.45h-4.11zM176.15 63.24h4.11v4.45h-4.11zM159.71 107.73h4.11v4.45h-4.11zM139.16 112.18h4.11v4.45h-4.11zM188.47 112.18h4.11v4.45h-4.11zM200.80 116.63h4.11v4.45h-4.11zM217.24 125.53h4.11v4.45h-4.11zM106.29 134.43h4.11v4.45h-4.11zM229.56 134.43h4.11v4.45h-4.11zM110.40 196.71h4.11v4.45h-4.11zM135.05 250.10h4.11v4.45h-4.11z"/>
<path fill="#2bc3a8" d="M204.91 18.75h4.11v4.45h-4.11zM155.60 45.44h4.11v4.45h-4.11zM188.47 67.69h4.11v4.45h-4.11zM163.82 72.14h4.11v4.45h-4.11zM163.82 94.38h4.11v4.45h-4.11zM184.36 94.38h4.11v4.45h-4.11zM159.71 98.83h4.11v4.45h-4.11zM135.05 107.73h4.11v4.45h-4.11zM196.69 107.73h4.11v4.45h-4.11zM241.89 138.87h4.11v4.45h-4.11zM93.96 152.22h4.11v4.45h-4.11zM118.62 227.86h4.11v4.45h-4.11z"/>
<path fill="#00b8c9" d="M213.13 18.75h4.11v4.45h-4.11zM204.91 45.44h4.11v4.45h-4.11zM204.91 49.89h4.11v4.45h-4.11zM204.91 58.79h4.11v4.45h-4.11zM151.49 72.14h4.11v4.45h-4.11zM151.49 76.59h4.11v4.45h-4.11zM151.49 81.04h4.11v4.45h-4.11zM209.02 94.38h4.11v4.45h-4.11zM130.95 98.83h4.11v4.45h-4.11zM102.18 112.18h4.11v4.45h-4.11zM98.07 116.63h4.11v4.45h-4.11zM93.96 121.08h4.11v4.45h-4.11zM237.78 121.08h4.11v4.45h-4.11zM89.85 129.98h4.11v4.45h-4.11zM89.85 183.37h4.11v4.45h-4.11zM93.96 192.26h4.11v4.45h-4.11zM98.07 201.16h4.11v4.45h-4.11zM106.29 223.41h4.11v4.45h-4.11z"/>
<path fill="#14b0d8" d="M217.24 18.75h4.11v4.45h-4.11zM20.00 72.14h4.11v4.45h-4.11zM143.27 85.49h4.11v4.45h-4.11zM36.44 89.93h4.11v4.45h-4.11zM139.16 89.93h4.11v4.45h-4.11zM106.29 103.28h4.11v4.45h-4.11zM225.45 103.28h4.11v4.45h-4.11zM56.98 107.73h4.11v4.45h-4.11zM229.56 107.73h4.11v4.45h-4.11zM61.09 112.18h4.11v4.45h-4.11zM65.20 112.18h4.11v4.45h-4.11zM77.53 116.63h4.11v4.45h-4.11zM241.89 116.63h4.11v4.45h-4.11zM36.44 121.08h4.11v4.45h-4.11zM40.55 121.08h4.11v4.45h-4.11zM48.76 125.53h4.11v4.45h-4.11zM52.87 129.98h4.11v4.45h-4.11zM56.98 134.43h4.11v4.45h-4.11zM69.31 147.77h4.11v4.45h-4.11zM73.42 156.67h4.11v4.45h-4.11zM98.07 218.96h4.11v4.45h-4.11zM102.18 232.31h4.11v4.45h-4.11zM106.29 250.10h4.11v4.45h-4.11z"/>
<path fill="#1ea7e1" d="M221.35 18.75h4.11v4.45h-4.11zM217.24 32.10h4.11v4.45h-4.11zM24.11 54.34h4.11v4.45h-4.11zM28.22 67.69h4.11v4.45h-4.11zM32.33 76.59h4.11v4.45h-4.11zM36.44 81.04h4.11v4.45h-4.11zM225.45 81.04h4.11v4.45h-4.11zM225.45 85.49h4.11v4.45h-4.11zM48.76 89.93h4.11v4.45h-4.11zM126.84 89.93h4.11v4.45h-4.11zM106.29 98.83h4.11v4.45h-4.11zM73.42 103.28h4.11v4.45h-4.11zM233.67 103.28h4.11v4.45h-4.11zM32.33 129.98h4.11v4.45h-4.11zM40.55 134.43h4.11v4.45h-4.11zM69.31 165.57h4.11v4.45h-4.11zM77.53 178.92h4.11v4.45h-4.11zM89.85 205.61h4.11v4.45h-4.11zM93.96 227.86h4.11v4.45h-4.11z"/>
<path fill="#249fe5" d="M225.45 18.75h4.11v4.45h-4.11zM28.22 45.44h4.11v4.45h-4.11zM217.24 45.44h4.11v4.45h-4.11zM32.33 54.34h4.11v4.45h-4.11zM36.44 72.14h4.11v4.45h-4.11zM44.65 81.04h4.11v4.45h-4.11zM135.05 81.04h4.11v4.45h-4.11zM229.56 81.04h4.11v4.45h-4.11zM77.53 98.83h4.11v4.45h-4.11zM44.65 147.77h4.11v4.45h-4.11zM65.20 170.02h4.11v4.45h-4.11zM69.31 174.47h4.11v4.45h-4.11zM81.64 192.26h4.11v4.45h-4.11zM89.85 232.31h4.11v4.45h-4.11zM93.96 250.10h4.11v4.45h-4.11z"/>
<path fill="#2798ea" d="M229.56 18.75h4.11v4.45h-4.11zM24.11 27.65h4.11v4.45h-4.11zM32.33 40.99h4.11v4.45h-4.11zM36.44 49.89h4.11v4.45h-4.11zM225.45 63.24h4.11v4.45h-4.11zM77.53 94.38h4.11v4.45h-4.11zM237.78 94.38h4.11v4.45h-4.11zM40.55 152.22h4.11v4.45h-4.11zM85.75 232.31h4.11v4.45h-4.11z"/>
<path fill="#2d88f6" d="M241.89 18.75h4.11v4.45h-4.11zM237.78 23.20h4.11v4.45h-4.11zM135.05 27.65h4.11v4.45h-4.11zM40.55 36.55h4.11v4.45h-4.11zM44.65 49.89h4.11v4.45h-4.11zM130.95 67.69h4.11v4.45h-4.11zM52.87 72.14h4.11v4.45h-4.11zM56.98 76.59h4.11v4.45h-4.11zM122.73 76.59h4.11v4.45h-4.11zM65.20 81.04h4.11v4.45h-4.11zM241.89 85.49h4.11v4.45h-4.11zM20.00 152.22h4.11v4.45h-4.11zM28.22 156.67h4.11v4.45h-4.11zM40.55 165.57h4.11v4.45h-4.11zM44.65 170.02h4.11v4.45h-4.11zM48.76 174.47h4.11v4.45h-4.11zM69.31 192.26h4.11v4.45h-4.11zM73.42 250.10h4.11v4.45h-4.11z"/>
<path fill="#2699e9" d="M20.00 23.20h4.11v4.45h-4.11zM225.45 27.65h4.11v4.45h-4.11zM28.22 36.55h4.11v4.45h-4.11zM40.55 72.14h4.11v4.45h-4.11zM44.65 76.59h4.11v4.45h-4.11zM135.05 76.59h4.11v4.45h-4.11zM130.95 81.04h4.11v4.45h-4.11zM56.98 85.49h4.11v4.45h-4.11zM233.67 85.49h4.11v4.45h-4.11zM65.20 89.93h4.11v4.45h-4.11zM110.40 89.93h4.11v4.45h-4.11zM24.11 138.87h4.11v4.45h-4.11zM32.33 143.32h4.11v4.45h-4.11zM36.44 147.77h4.11v4.45h-4.11zM85.75 223.41h4.11v4.45h-4.11zM85.75 227.86h4.11v4.45h-4.11zM89.85 254.55h4.11v4.45h-4.11z"/>
<path fill="#2e87f7" d="M36.44 23.20h4.11v4.45h-4.11zM135.05 23.20h4.11v4.45h-4.11zM233.67 32.10h4.11v4.45h-4.11zM229.56 40.99h4.11v4.45h-4.11zM48.76 63.24h4.11v4.45h-4.11zM233.67 63.24h4.11v4.45h-4.11zM237.78 72.14h4.11v4.45h-4.11zM102.18 85.49h4.11v4.45h-4.11zM32.33 161.12h4.11v4.45h-4.11zM52.87 178.92h4.11v4.45h-4.11zM56.98 183.37h4.11v4.45h-4.11zM73.42 201.16h4.11v4.45h-4.11z"/>
<path fill="#307ffb" d="M40.55 23.20h4.11v4.45h-4.11zM44.65 36.55h4.11v4.45h-4.11zM130.95 40.99h4.11v4.45h-4.11zM233.67 54.34h4.11v4.45h-4.11zM237.78 63.24h4.11v4.45h-4.11zM65.20 76.59h4.11v4.45h-4.11zM20.00 161.12h4.11v4.45h-4.11zM28.22 165.57h4.11v4.45h-4.11zM40.55 174.47h4.11v4.45h-4.11zM44.65 178.92h4.11v4.45h-4.11zM48.76 183.37h4.11v4.45h-4.11zM52.87 187.81h4.11v4.45h-4.11zM69.31 210.06h4.11v4.45h-4.11zM69.31 236.75h4.11v4.45h-4.11z"/>
<path fill="#3876fe" d="M44.65 23.20h4.11v4.45h-4.11zM126.84 45.44h4.11v4.45h-4.11zM52.87 49.89h4.11v4.45h-4.11zM122.73 58.79h4.11v4.45h-4.11zM241.89 63.24h4.11v4.45h-4.11zM61.09 67.69h4.11v4.45h-4.11zM73.42 76.59h4.11v4.45h-4.11zM89.85 81.04h4.11v4.45h-4.11zM24.11 170.02h4.11v4.45h-4.11zM36.44 178.92h4.11v4.45h-4.11zM40.55 183.37h4.11v4.45h-4.11zM44.65 187.81h4.11v4.45h-4.11zM48.76 192.26h4.11v4.45h-4.11zM61.09 214.51h4.11v4.45h-4.11zM61.09 218.96h4.11v4.45h-4.11zM61.09 223.41h4.11v4.45h-4.11zM61.09 232.31h4.11v4.45h-4.11zM61.09 236.75h4.11v4.45h-4.11zM56.98 241.20h4.11v4.45h-4.11zM52.87 245.65h4.11v4.45h-4.11zM20.00 250.10h4.11v4.45h-4.11zM24.11 250.10h4.11v4.45h-4.11zM28.22 250.10h4.11v4.45h-4.11zM32.33 250.10h4.11v4.45h-4.11zM36.44 250.10h4.11v4.45h-4.11zM40.55 250.10h4.11v4.45h-4.11zM44.65 250.10h4.11v4.45h-4.11z"/>
<path fill="#416bfe" d="M48.76 23.20h4.11v4.45h-4.11zM122.73 40.99h4.11v4.45h-4.11zM118.62 49.89h4.11v4.45h-4.11zM114.51 54.34h4.11v4.45h-4.11zM65.20 63.24h4.11v4.45h-4.11zM110.40 63.24h4.11v4.45h-4.11zM69.31 67.69h4.11v4.45h-4.11zM106.29 67.69h4.11v4.45h-4.11zM24.11 183.37h4.11v4.45h-4.11zM40.55 201.16h4.11v4.45h-4.11zM44.65 205.61h4.11v4.45h-4.11zM44.65 210.06h4.11v4.45h-4.11zM44.65 214.51h4.11v4.45h-4.11zM44.65 218.96h4.11v4.45h-4.11zM44.65 223.41h4.11v4.45h-4.11zM40.55 227.86h4.11v4.45h-4.11zM24.11 232.31h4.11v4.45h-4.11zM28.22 232.31h4.11v4.45h-4.11z"/>
<path fill="#4660fb" d="M52.87 23.20h4.11v4.45h-4.11zM56.98 36.55h4.11v4.45h-4.11zM61.09 45.44h4.11v4.45h-4.11zM106.29 54.34h4.11v4.45h-4.11zM93.96 67.69h4.11v4.45h-4.11z"/>
<path fill="#4756f7" d="M56.98 23.20h4.11v4.45h-4.11zM114.51 27.65h4.11v4.45h-4.11zM106.29 45.44h4.11v4.45h-4.11z"/>
<path fill="#422fc2" d="M93.96 23.20h4.11v4.45h-4.11zM81.64 27.65h4.11v4.45h-4.11z"/>
<path fill="#4759f8" d="M118.62 23.20h4.11v4.45h-4.11zM56.98 27.65h4.11v4.45h-4.11zM114.51 32.10h4.11v4.45h-4.11zM110.40 40.99h4.11v4.45h-4.11zM65.20 45.44h4.11v4.45h-4.11zM73.42 54.34h4.11v4.45h-4.11zM102.18 54.34h4.11v4.45h-4.11zM77.53 58.79h4.11v4.45h-4.11zM98.07 58.79h4.11v4.45h-4.11zM85.75 63.24h4.11v4.45h-4.11zM89.85 63.24h4.11v4.45h-4.11z"/>
<path fill="#3974ff" d="M130.95 23.20h4.11v4.45h-4.11zM48.76 36.55h4.11v4.45h-4.11zM126.84 40.99h4.11v4.45h-4.11zM241.89 40.99h4.11v4.45h-4.11zM56.98 58.79h4.11v4.45h-4.11zM118.62 63.24h4.11v4.45h-4.11zM114.51 67.69h4.11v4.45h-4.11zM102.18 76.59h4.11v4.45h-4.11zM20.00 170.02h4.11v4.45h-4.11zM28.22 174.47h4.11v4.45h-4.11zM52.87 201.16h4.11v4.45h-4.11zM56.98 205.61h4.11v4.45h-4.11zM56.98 210.06h4.11v4.45h-4.11zM61.09 227.86h4.11v4.45h-4.11zM20.00 245.65h4.11v4.45h-4.11zM44.65 245.65h4.11v4.45h-4.11zM48.76 245.65h4.11v4.45h-4.11z"/>
<path fill="#17aeda" d="M143.27 23.20h4.11v4.45h-4.11zM213.13 63.24h4.11v4.45h-4.11zM20.00 67.69h4.11v4.45h-4.11zM28.22 81.04h4.11v4.45h-4.11zM44.65 94.38h4.11v4.45h-4.11zM56.98 103.28h4.11v4.45h-4.11zM61.09 107.73h4.11v4.45h-4.11zM73.42 112.18h4.11v4.45h-4.11zM77.53 112.18h4.11v4.45h-4.11zM85.75 112.18h4.11v4.45h-4.11zM237.78 112.18h4.11v4.45h-4.11zM24.11 121.08h4.11v4.45h-4.11zM40.55 125.53h4.11v4.45h-4.11zM48.76 129.98h4.11v4.45h-4.11zM52.87 134.43h4.11v4.45h-4.11zM69.31 152.22h4.11v4.45h-4.11zM73.42 161.12h4.11v4.45h-4.11zM77.53 170.02h4.11v4.45h-4.11zM81.64 178.92h4.11v4.45h-4.11zM98.07 223.41h4.11v4.45h-4.11zM102.18 236.75h4.11v4.45h-4.11z"/>
<path fill="#04bbc1" d="M147.38 23.20h4.11v4.45h-4.11zM143.27 98.83h4.11v4.45h-4.11zM204.91 98.83h4.11v4.45h-4.11zM209.02 103.28h4.11v4.45h-4.11zM106.29 112.18h4.11v4.45h-4.11zM102.18 116.63h4.11v4.45h-4.11zM225.45 116.63h4.11v4.45h-4.11zM89.85 138.87h4.11v4.45h-4.11zM85.75 152.22h4.11v4.45h-4.11zM85.75 156.67h4.11v4.45h-4.11zM85.75 161.12h4.11v4.45h-4.11zM93.96 187.81h4.11v4.45h-4.11zM106.29 214.51h4.11v4.45h-4.11z"/>
<path fill="#2fc5a3" d="M151.49 23.20h4.11v4.45h-4.11zM192.58 49.89h4.11v4.45h-4.11zM184.36 67.69h4.11v4.45h-4.11zM167.93 72.14h4.11v4.45h-4.11zM180.25 72.14h4.11v4.45h-4.11zM172.04 76.59h4.11v4.45h-4.11zM176.15 76.59h4.11v4.45h-4.11zM172.04 89.93h4.11v4.45h-4.11zM176.15 89.93h4.11v4.45h-4.11zM167.93 94.38h4.11v4.45h-4.11zM163.82 98.83h4.11v4.45h-4.11zM147.38 107.73h4.11v4.45h-4.11zM114.51 116.63h4.11v4.45h-4.11zM209.02 116.63h4.11v4.45h-4.11zM110.40 121.08h4.11v4.45h-4.11zM229.56 129.98h4.11v4.45h-4.11zM93.96 161.12h4.11v4.45h-4.11zM93.96 165.57h4.11v4.45h-4.11z"/>
<path fill="#4bcb84" d="M155.60 23.20h4.11v4.45h-4.11zM192.58 27.65h4.11v4.45h-4.11zM167.93 49.89h4.11v4.45h-4.11zM180.25 49.89h4.11v4.45h-4.11zM130.95 116.63h4.11v4.45h-4.11zM241.89 152.22h4.11v4.45h-4.11zM118.62 210.06h4.11v4.45h-4.11zM126.84 227.86h4.11v4.45h-4.11zM135.05 241.20h4.11v4.45h-4.11z"/>
<path fill="#72cd64" d="M159.71 23.20h4.11v4.45h-4.11zM163.82 116.63h4.11v4.45h-4.11zM167.93 116.63h4.11v4.45h-4.11zM172.04 116.63h4.11v4.45h-4.11zM135.05 121.08h4.11v4.45h-4.11zM209.02 129.98h4.11v4.45h-4.11zM221.35 138.87h4.11v4.45h-4.11zM110.40 143.32h4.11v4.45h-4.11zM241.89 178.92h4.11v4.45h-4.11zM143.27 241.20h4.11v4.45h-4.11zM151.49 254.55h4.11v4.45h-4.11z"/>
<path fill="#8bcb51" d="M184.36 23.20h4.11v4.45h-4.11zM155.60 121.08h4.11v4.45h-4.11zM130.95 125.53h4.11v4.45h-4.11zM192.58 125.53h4.11v4.45h-4.11zM106.29 161.12h4.11v4.45h-4.11zM106.29 174.47h4.11v4.45h-4.11zM237.78 183.37h4.11v4.45h-4.11zM114.51 187.81h4.11v4.45h-4.11zM237.78 187.81h4.11v4.45h-4.11zM147.38 241.20h4.11v4.45h-4.11zM237.78 241.20h4.11v4.45h-4.11z"/>
<path fill="#32c69f" d="M200.80 23.20h4.11v4.45h-4.11zM155.60 36.55h4.11v4.45h-4.11zM184.36 63.24h4.11v4.45h-4.11zM167.93 67.69h4.11v4.45h-4.11zM180.25 67.69h4.11v4.45h-4.11zM172.04 72.14h4.11v4.45h-4.11zM176.15 72.14h4.11v4.45h-4.11zM167.93 98.83h4.11v4.45h-4.11zM151.49 107.73h4.11v4.45h-4.11zM188.47 107.73h4.11v4.45h-4.11zM126.84 112.18h4.11v4.45h-4.11zM196.69 112.18h4.11v4.45h-4.11zM221.35 125.53h4.11v4.45h-4.11zM106.29 129.98h4.11v4.45h-4.11zM233.67 134.43h4.11v4.45h-4.11zM110.40 201.16h4.11v4.45h-4.11zM122.73 232.31h4.11v4.45h-4.11zM126.84 241.20h4.11v4.45h-4.11z"/>
<path fill="#23c1af" d="M204.91 23.20h4.11v4.45h-4.11zM151.49 32.10h4.11v4.45h-4.11zM196.69 49.89h4.11v4.45h-4.11zM155.60 54.34h4.11v4.45h-4.11zM192.58 67.69h4.11v4.45h-4.11zM188.47 81.04h4.11v4.45h-4.11zM188.47 85.49h4.11v4.45h-4.11zM159.71 94.38h4.11v4.45h-4.11zM155.60 98.83h4.11v4.45h-4.11zM192.58 98.83h4.11v4.45h-4.11zM196.69 103.28h4.11v4.45h-4.11zM126.84 107.73h4.11v4.45h-4.11zM209.02 112.18h4.11v4.45h-4.11zM229.56 125.53h4.11v4.45h-4.11zM93.96 178.92h4.11v4.45h-4.11zM98.07 187.81h4.11v4.45h-4.11zM106.29 201.16h4.11v4.45h-4.11zM122.73 245.65h4.11v4.45h-4.11z"/>
<path fill="#06bcbf" d="M209.02 23.20h4.11v4.45h-4.11zM151.49 54.34h4.11v4.45h-4.11zM155.60 81.04h4.11v4.45h-4.11zM200.80 81.04h4.11v4.45h-4.11zM200.80 85.49h4.11v4.45h-4.11zM200.80 89.93h4.11v4.45h-4.11zM151.49 94.38h4.11v4.45h-4.11zM126.84 103.28h4.11v4.45h-4.11zM114.51 107.73h4.11v4.45h-4.11zM213.13 107.73h4.11v4.45h-4.11zM237.78 125.53h4.11v4.45h-4.11zM241.89 129.98h4.11v4.45h-4.11zM114.51 236.75h4.11v4.45h-4.11zM118.62 254.55h4.11v4.45h-4.11z"/>
<path fill="#06b5cf" d="M213.13 23.20h4.11v4.45h-4.11zM147.38 49.89h4.11v4.45h-4.11zM24.11 89.93h4.11v4.45h-4.11zM213.13 89.93h4.11v4.45h-4.11zM28.22 94.38h4.11v4.45h-4.11zM36.44 98.83h4.11v4.45h-4.11zM36.44 103.28h4.11v4.45h-4.11zM36.44 107.73h4.11v4.45h-4.11zM20.00 112.18h4.11v4.45h-4.11zM24.11 112.18h4.11v4.45h-4.11zM93.96 116.63h4.11v4.45h-4.11zM89.85 121.08h4.11v4.45h-4.11zM85.75 125.53h4.11v4.45h-4.11zM81.64 129.98h4.11v4.45h-4.11zM77.53 143.32h4.11v4.45h-4.11zM77.53 147.77h4.11v4.45h-4.11zM89.85 187.81h4.11v4.45h-4.11zM93.96 196.71h4.11v4.45h-4.11zM98.07 205.61h4.11v4.45h-4.11zM102.18 218.96h4.11v4.45h-4.11zM110.40 245.65h4.11v4.45h-4.11z"/>
<path fill="#19addc" d="M217.24 23.20h4.11v4.45h-4.11zM143.27 27.65h4.11v4.45h-4.11zM20.00 63.24h4.11v4.45h-4.11zM24.11 72.14h4.11v4.45h-4.11zM221.35 85.49h4.11v4.45h-4.11zM40.55 89.93h4.11v4.45h-4.11zM135.05 89.93h4.11v4.45h-4.11zM221.35 89.93h4.11v4.45h-4.11zM52.87 98.83h4.11v4.45h-4.11zM65.20 107.73h4.11v4.45h-4.11zM81.64 112.18h4.11v4.45h-4.11zM20.00 121.08h4.11v4.45h-4.11zM56.98 138.87h4.11v4.45h-4.11zM61.09 143.32h4.11v4.45h-4.11zM65.20 147.77h4.11v4.45h-4.11zM89.85 196.71h4.11v4.45h-4.11zM93.96 210.06h4.11v4.45h-4.11zM102.18 241.20h4.11v4.45h-4.11z"/>
<path fill="#20a5e3" d="M221.35 23.20h4.11v4.45h-4.11zM24.11 49.89h4.11v4.45h-4.11zM28.22 58.79h4.11v4.45h-4.11zM44.65 85.49h4.11v4.45h-4.11zM229.56 94.38h4.11v4.45h-4.11zM77.53 103.28h4.11v4.45h-4.11zM28.22 129.98h4.11v4.45h-4.11zM36.44 134.43h4.11v4.45h-4.11zM52.87 147.77h4.11v4.45h-4.11zM56.98 152.22h4.11v4.45h-4.11zM61.09 156.67h4.11v4.45h-4.11zM73.42 174.47h4.11v4.45h-4.11zM93.96 232.31h4.11v4.45h-4.11zM98.07 250.10h4.11v4.45h-4.11z"/>
<path fill="#2c8ff1" d="M32.33 27.65h4.11v4.45h-4.11zM36.44 36.55h4.11v4.45h-4.11zM135.05 58.79h4.11v4.45h-4.11zM229.56 63.24h4.11v4.45h-4.11zM110.40 85.49h4.11v4.45h-4.11zM24.11 147.77h4.11v4.45h-4.11zM65.20 183.37h4.11v4.45h-4.11z"/>
<path fill="#2f82fa" d="M40.55 27.65h4.11v4.45h-4.11zM237.78 32.10h4.11v4.45h-4.11zM130.95 49.89h4.11v4.45h-4.11zM130.95 54.34h4.11v4.45h-4.11zM233.67 58.79h4.11v4.45h-4.11zM56.98 72.14h4.11v4.45h-4.11zM122.73 72.14h4.11v4.45h-4.11zM114.51 76.59h4.11v4.45h-4.11zM241.89 76.59h4.11v4.45h-4.11zM106.29 81.04h4.11v4.45h-4.11zM85.75 85.49h4.11v4.45h-4.11zM93.96 85.49h4.11v4.45h-4.11zM32.33 165.57h4.11v4.45h-4.11zM56.98 187.81h4.11v4.45h-4.11zM61.09 192.26h4.11v4.45h-4.11zM69.31 201.16h4.11v4.45h-4.11zM69.31 245.65h4.11v4.45h-4.11z"/>
<path fill="#3579fd" d="M44.65 27.65h4.11v4.45h-4.11zM241.89 36.55h4.11v4.45h-4.11zM48.76 40.99h4.11v4.45h-4.11zM52.87 54.34h4.11v4.45h-4.11zM126.84 54.34h4.11v4.45h-4.11zM56.98 63.24h4.11v4.45h-4.11zM122.73 63.24h4.11v4.45h-4.11zM118.62 67.69h4.11v4.45h-4.11zM106.29 76.59h4.11v4.45h-4.11zM81.64 81.04h4.11v4.45h-4.11zM20.00 165.57h4.11v4.45h-4.11zM28.22 170.02h4.11v4.45h-4.11zM65.20 214.51h4.11v4.45h-4.11zM65.20 218.96h4.11v4.45h-4.11zM65.20 223.41h4.11v4.45h-4.11zM65.20 227.86h4.11v4.45h-4.11zM65.20 232.31h4.11v4.45h-4.11zM52.87 250.10h4.11v4.45h-4.11zM20.00 254.55h4.11v4.45h-4.11zM24.11 254.55h4.11v4.45h-4.11zM28.22 254.55h4.11v4.45h-4.11zM32.33 254.55h4.11v4.45h-4.11zM36.44 254.55h4.11v4.45h-4.11zM40.55 254.55h4.11v4.45h-4.11zM44.65 254.55h4.11v4.45h-4.11z"/>
<path fill="#484ff2" d="M61.09 27.65h4.11v4.45h-4.11zM110.40 27.65h4.11v4.45h-4.11zM102.18 45.44h4.11v4.45h-4.11zM93.96 54.34h4.11v4.45h-4.11z"/>
<path fill="#4745e9" d="M65.20 27.65h4.11v4.45h-4.11zM102.18 36.55h4.11v4.45h-4.11zM73.42 40.99h4.11v4.45h-4.11z"/>
<path fill="#463de0" d="M69.31 27.65h4.11v4.45h-4.11zM102.18 27.65h4.11v4.45h-4.11zM98.07 36.55h4.11v4.45h-4.11zM81.64 40.99h4.11v4.45h-4.11zM93.96 40.99h4.11v4.45h-4.11z"/>
<path fill="#4537d5" d="M73.42 27.65h4.11v4.45h-4.11zM81.64 36.55h4.11v4.45h-4.11z"/>
<path fill="#4332ca" d="M77.53 27.65h4.11v4.45h-4.11zM81.64 32.10h4.11v4.45h-4.11z"/>
<path fill="#4331c8" d="M93.96 27.65h4.11v4.45h-4.11zM85.75 32.10h4.11v4.45h-4.11zM89.85 32.10h4.11v4.45h-4.11z"/>
<path fill="#4535d2" d="M98.07 27.65h4.11v4.45h-4.11zM77.53 32.10h4.11v4.45h-4.11zM85.75 36.55h4.11v4.45h-4.11zM89.85 36.55h4.11v4.45h-4.11z"/>
<path fill="#4746eb" d="M106.29 27.65h4.11v4.45h-4.11zM69.31 36.55h4.11v4.45h-4.11zM77.53 45.44h4.11v4.45h-4.11zM85.75 49.89h4.11v4.45h-4.11zM89.85 49.89h4.11v4.45h-4.11z"/>
<path fill="#4661fc" d="M122.73 27.65h4.11v4.45h-4.11zM118.62 36.55h4.11v4.45h-4.11zM110.40 49.89h4.11v4.45h-4.11zM69.31 58.79h4.11v4.45h-4.11zM73.42 63.24h4.11v4.45h-4.11zM102.18 63.24h4.11v4.45h-4.11zM81.64 67.69h4.11v4.45h-4.11z"/>
<path fill="#426afe" d="M126.84 27.65h4.11v4.45h-4.11zM52.87 36.55h4.11v4.45h-4.11zM61.09 54.34h4.11v4.45h-4.11zM77.53 72.14h4.11v4.45h-4.11zM20.00 183.37h4.11v4.45h-4.11zM24.11 187.81h4.11v4.45h-4.11zM28.22 187.81h4.11v4.45h-4.11zM32.33 192.26h4.11v4.45h-4.11zM36.44 196.71h4.11v4.45h-4.11zM40.55 205.61h4.11v4.45h-4.11zM40.55 223.41h4.11v4.45h-4.11zM20.00 227.86h4.11v4.45h-4.11zM24.11 227.86h4.11v4.45h-4.11zM28.22 227.86h4.11v4.45h-4.11zM32.33 227.86h4.11v4.45h-4.11zM36.44 227.86h4.11v4.45h-4.11z"/>
<path fill="#3677fe" d="M130.95 27.65h4.11v4.45h-4.11zM237.78 45.44h4.11v4.45h-4.11zM126.84 49.89h4.11v4.45h-4.11zM237.78 49.89h4.11v4.45h-4.11zM237.78 54.34h4.11v4.45h-4.11zM65.20 72.14h4.11v4.45h-4.11zM110.40 72.14h4.11v4.45h-4.11zM85.75 81.04h4.11v4.45h-4.11zM93.96 81.04h4.11v4.45h-4.11zM32.33 174.47h4.11v4.45h-4.11zM52.87 196.71h4.11v4.45h-4.11zM56.98 201.16h4.11v4.45h-4.11zM61.09 205.61h4.11v4.45h-4.11zM61.09 210.06h4.11v4.45h-4.11zM61.09 241.20h4.11v4.45h-4.11zM56.98 245.65h4.11v4.45h-4.11zM48.76 250.10h4.11v4.45h-4.11z"/>
<path fill="#29c3aa" d="M151.49 27.65h4.11v4.45h-4.11zM196.69 40.99h4.11v4.45h-4.11zM192.58 58.79h4.11v4.45h-4.11zM159.71 63.24h4.11v4.45h-4.11zM184.36 76.59h4.11v4.45h-4.11zM184.36 81.04h4.11v4.45h-4.11zM184.36 85.49h4.11v4.45h-4.11zM163.82 89.93h4.11v4.45h-4.11zM184.36 89.93h4.11v4.45h-4.11zM188.47 98.83h4.11v4.45h-4.11zM118.62 112.18h4.11v4.45h-4.11zM204.91 112.18h4.11v4.45h-4.11zM213.13 116.63h4.11v4.45h-4.11zM237.78 134.43h4.11v4.45h-4.11zM93.96 174.47h4.11v4.45h-4.11zM102.18 192.26h4.11v4.45h-4.11zM114.51 218.96h4.11v4.45h-4.11zM126.84 254.55h4.11v4.45h-4.11z"/>
<path fill="#40ca8d" d="M155.60 27.65h4.11v4.45h-4.11zM192.58 32.10h4.11v4.45h-4.11zM188.47 40.99h4.11v4.45h-4.11zM163.82 49.89h4.11v4.45h-4.11zM184.36 49.89h4.11v4.45h-4.11zM172.04 58.79h4.11v4.45h-4.11zM176.15 58.79h4.11v4.45h-4.11zM163.82 107.73h4.11v4.45h-4.11zM176.15 107.73h4.11v4.45h-4.11zM151.49 112.18h4.11v4.45h-4.11zM184.36 112.18h4.11v4.45h-4.11zM196.69 116.63h4.11v4.45h-4.11zM110.40 129.98h4.11v4.45h-4.11zM221.35 129.98h4.11v4.45h-4.11zM98.07 170.02h4.11v4.45h-4.11zM102.18 183.37h4.11v4.45h-4.11zM122.73 223.41h4.11v4.45h-4.11zM126.84 232.31h4.11v4.45h-4.11zM135.05 245.65h4.11v4.45h-4.11z"/>
<path fill="#5ecd74" d="M159.71 27.65h4.11v4.45h-4.11zM167.93 40.99h4.11v4.45h-4.11zM151.49 116.63h4.11v4.45h-4.11zM126.84 121.08h4.11v4.45h-4.11zM110.40 138.87h4.11v4.45h-4.11zM102.18 156.67h4.11v4.45h-4.11zM102.18 174.47h4.11v4.45h-4.11zM122.73 214.51h4.11v4.45h-4.11zM139.16 241.20h4.11v4.45h-4.11z"/>
<path fill="#79cc5e" d="M163.82 27.65h4.11v4.45h-4.11zM184.36 27.65h4.11v4.45h-4.11zM167.93 32.10h4.11v4.45h-4.11zM139.16 121.08h4.11v4.45h-4.11zM184.36 121.08h4.11v4.45h-4.11zM225.45 143.32h4.11v4.45h-4.11zM106.29 178.92h4.11v4.45h-4.11zM241.89 187.81h4.11v4.45h-4.11zM241.89 192.26h4.11v4.45h-4.11zM130.95 223.41h4.11v4.45h-4.11zM241.89 241.20h4.11v4.45h-4.11zM147.38 245.65h4.11v4.45h-4.11z"/>
<path fill="#96ca48" d="M172.04 27.65h4.11v4.45h-4.11zM163.82 121.08h4.11v4.45h-4.11zM167.93 121.08h4.11v4.45h-4.11zM135.05 125.53h4.11v4.45h-4.11zM188.47 125.53h4.11v4.45h-4.11zM233.67 165.57h4.11v4.45h-4.11zM118.62 192.26h4.11v4.45h-4.11zM126.84 210.06h4.11v4.45h-4.11zM151.49 245.65h4.11v4.45h-4.11zM233.67 254.55h4.11v4.45h-4.11z"/>
<path fill="#88cb53" d="M180.25 27.65h4.11v4.45h-4.11zM151.49 121.08h4.11v4.45h-4.11zM122.73 129.98h4.11v4.45h-4.11zM217.24 138.87h4.11v4.45h-4.11zM110.40 147.77h4.11v4.45h-4.11zM237.78 178.92h4.11v4.45h-4.11zM110.40 183.37h4.11v4.45h-4.11zM143.27 236.75h4.11v4.45h-4.11zM237.78 245.65h4.11v4.45h-4.11z"/>
<path fill="#61cd72" d="M188.47 27.65h4.11v4.45h-4.11zM176.15 40.99h4.11v4.45h-4.11zM180.25 116.63h4.11v4.45h-4.11zM204.91 125.53h4.11v4.45h-4.11zM213.13 129.98h4.11v4.45h-4.11zM225.45 138.87h4.11v4.45h-4.11zM237.78 152.22h4.11v4.45h-4.11zM241.89 161.12h4.11v4.45h-4.11zM106.29 183.37h4.11v4.45h-4.11zM143.27 245.65h4.11v4.45h-4.11z"/>
<path fill="#2cc4a6" d="M200.80 27.65h4.11v4.45h-4.11zM192.58 54.34h4.11v4.45h-4.11zM159.71 58.79h4.11v4.45h-4.11zM184.36 72.14h4.11v4.45h-4.11zM167.93 81.04h4.11v4.45h-4.11zM180.25 81.04h4.11v4.45h-4.11zM167.93 85.49h4.11v4.45h-4.11zM180.25 85.49h4.11v4.45h-4.11zM180.25 89.93h4.11v4.45h-4.11zM155.60 103.28h4.11v4.45h-4.11zM188.47 103.28h4.11v4.45h-4.11zM139.16 107.73h4.11v4.45h-4.11zM106.29 125.53h4.11v4.45h-4.11zM225.45 125.53h4.11v4.45h-4.11zM110.40 205.61h4.11v4.45h-4.11zM122.73 236.75h4.11v4.45h-4.11zM126.84 250.10h4.11v4.45h-4.11z"/>
<path fill="#17bfb6" d="M204.91 27.65h4.11v4.45h-4.11zM155.60 63.24h4.11v4.45h-4.11zM196.69 67.69h4.11v4.45h-4.11zM196.69 72.14h4.11v4.45h-4.11zM155.60 94.38h4.11v4.45h-4.11zM151.49 98.83h4.11v4.45h-4.11zM139.16 103.28h4.11v4.45h-4.11zM200.80 103.28h4.11v4.45h-4.11zM213.13 112.18h4.11v4.45h-4.11zM106.29 116.63h4.11v4.45h-4.11zM89.85 152.22h4.11v4.45h-4.11zM89.85 170.02h4.11v4.45h-4.11zM106.29 205.61h4.11v4.45h-4.11zM114.51 227.86h4.11v4.45h-4.11zM118.62 241.20h4.11v4.45h-4.11z"/>
<path fill="#00bac6" d="M209.02 27.65h4.11v4.45h-4.11zM204.91 40.99h4.11v4.45h-4.11zM151.49 63.24h4.11v4.45h-4.11zM204.91 67.69h4.11v4.45h-4.11zM147.38 94.38h4.11v4.45h-4.11zM135.05 98.83h4.11v4.45h-4.11zM209.02 98.83h4.11v4.45h-4.11zM213.13 103.28h4.11v4.45h-4.11zM110.40 107.73h4.11v4.45h-4.11zM217.24 107.73h4.11v4.45h-4.11zM93.96 125.53h4.11v4.45h-4.11zM89.85 134.43h4.11v4.45h-4.11zM85.75 143.32h4.11v4.45h-4.11zM85.75 170.02h4.11v4.45h-4.11zM106.29 218.96h4.11v4.45h-4.11zM114.51 245.65h4.11v4.45h-4.11z"/>
<path fill="#0eb3d4" d="M213.13 27.65h4.11v4.45h-4.11zM209.02 40.99h4.11v4.45h-4.11zM147.38 58.79h4.11v4.45h-4.11zM209.02 58.79h4.11v4.45h-4.11zM20.00 81.04h4.11v4.45h-4.11zM147.38 81.04h4.11v4.45h-4.11zM24.11 85.49h4.11v4.45h-4.11zM217.24 94.38h4.11v4.45h-4.11zM44.65 103.28h4.11v4.45h-4.11zM48.76 107.73h4.11v4.45h-4.11zM102.18 107.73h4.11v4.45h-4.11zM48.76 112.18h4.11v4.45h-4.11zM28.22 116.63h4.11v4.45h-4.11zM32.33 116.63h4.11v4.45h-4.11zM36.44 116.63h4.11v4.45h-4.11zM40.55 116.63h4.11v4.45h-4.11zM44.65 116.63h4.11v4.45h-4.11zM89.85 116.63h4.11v4.45h-4.11zM81.64 121.08h4.11v4.45h-4.11zM65.20 125.53h4.11v4.45h-4.11zM69.31 125.53h4.11v4.45h-4.11zM73.42 125.53h4.11v4.45h-4.11zM69.31 129.98h4.11v4.45h-4.11zM69.31 134.43h4.11v4.45h-4.11zM73.42 143.32h4.11v4.45h-4.11zM77.53 161.12h4.11v4.45h-4.11zM106.29 236.75h4.11v4.45h-4.11z"/>
<path fill="#23a1e4" d="M221.35 27.65h4.11v4.45h-4.11zM28.22 49.89h4.11v4.45h-4.11zM32.33 63.24h4.11v4.45h-4.11zM139.16 76.59h4.11v4.45h-4.11zM48.76 85.49h4.11v4.45h-4.11zM130.95 85.49h4.11v4.45h-4.11zM73.42 98.83h4.11v4.45h-4.11zM52.87 152.22h4.11v4.45h-4.11zM56.98 156.67h4.11v4.45h-4.11zM61.09 161.12h4.11v4.45h-4.11zM77.53 183.37h4.11v4.45h-4.11zM89.85 223.41h4.11v4.45h-4.11z"/>
<path fill="#2f80fa" d="M241.89 27.65h4.11v4.45h-4.11zM233.67 40.99h4.11v4.45h-4.11zM130.95 45.44h4.11v4.45h-4.11zM48.76 49.89h4.11v4.45h-4.11zM52.87 63.24h4.11v4.45h-4.11zM126.84 67.69h4.11v4.45h-4.11zM73.42 81.04h4.11v4.45h-4.11zM89.85 85.49h4.11v4.45h-4.11zM24.11 161.12h4.11v4.45h-4.11zM36.44 170.02h4.11v4.45h-4.11zM65.20 196.71h4.11v4.45h-4.11zM69.31 205.61h4.11v4.45h-4.11zM69.31 241.20h4.11v4.45h-4.11zM65.20 250.10h4.11v4.45h-4.11zM61.09 254.55h4.11v4.45h-4.11z"/>
<path fill="#249ee6" d="M20.00 32.10h4.11v4.45h-4.11zM221.35 32.10h4.11v4.45h-4.11zM217.24 49.89h4.11v4.45h-4.11zM225.45 67.69h4.11v4.45h-4.11zM139.16 72.14h4.11v4.45h-4.11zM40.55 76.59h4.11v4.45h-4.11zM229.56 76.59h4.11v4.45h-4.11zM126.84 85.49h4.11v4.45h-4.11zM69.31 94.38h4.11v4.45h-4.11zM106.29 94.38h4.11v4.45h-4.11zM233.67 94.38h4.11v4.45h-4.11zM81.64 98.83h4.11v4.45h-4.11zM24.11 134.43h4.11v4.45h-4.11zM32.33 138.87h4.11v4.45h-4.11zM48.76 152.22h4.11v4.45h-4.11zM52.87 156.67h4.11v4.45h-4.11zM56.98 161.12h4.11v4.45h-4.11zM61.09 165.57h4.11v4.45h-4.11zM85.75 205.61h4.11v4.45h-4.11zM89.85 236.75h4.11v4.45h-4.11zM93.96 254.55h4.11v4.45h-4.11z"/>
<path fill="#327cfc" d="M44.65 32.10h4.11v4.45h-4.11zM241.89 32.10h4.11v4.45h-4.11zM48.76 45.44h4.11v4.45h-4.11zM233.67 49.89h4.11v4.45h-4.11zM126.84 58.79h4.11v4.45h-4.11zM122.73 67.69h4.11v4.45h-4.11zM61.09 72.14h4.11v4.45h-4.11zM77.53 81.04h4.11v4.45h-4.11zM24.11 165.57h4.11v4.45h-4.11zM32.33 170.02h4.11v4.45h-4.11zM65.20 205.61h4.11v4.45h-4.11zM65.20 241.20h4.11v4.45h-4.11zM52.87 254.55h4.11v4.45h-4.11z"/>
<path fill="#406dfe" d="M126.84 32.10h4.11v4.45h-4.11zM56.98 49.89h4.11v4.45h-4.11zM61.09 58.79h4.11v4.45h-4.11zM114.51 58.79h4.11v4.45h-4.11zM102.18 72.14h4.11v4.45h-4.11zM89.85 76.59h4.11v4.45h-4.11zM20.00 178.92h4.11v4.45h-4.11zM28.22 183.37h4.11v4.45h-4.11zM32.33 187.81h4.11v4.45h-4.11zM36.44 192.26h4.11v4.45h-4.11zM40.55 196.71h4.11v4.45h-4.11zM48.76 214.51h4.11v4.45h-4.11zM48.76 218.96h4.11v4.45h-4.11zM48.76 223.41h4.11v4.45h-4.11zM44.65 227.86h4.11v4.45h-4.11zM20.00 232.31h4.11v4.45h-4.11zM32.33 232.31h4.11v4.45h-4.11zM36.44 232.31h4.11v4.45h-4.11zM40.55 232.31h4.11v4.45h-4.11zM44.65 232.31h4.11v4.45h-4.11z"/>
<path fill="#1aacdd" d="M143.27 32.10h4.11v4.45h-4.11zM213.13 36.55h4.11v4.45h-4.11zM217.24 67.69h4.11v4.45h-4.11zM221.35 76.59h4.11v4.45h-4.11zM143.27 81.04h4.11v4.45h-4.11zM221.35 81.04h4.11v4.45h-4.11zM36.44 85.49h4.11v4.45h-4.11zM48.76 94.38h4.11v4.45h-4.11zM122.73 94.38h4.11v4.45h-4.11zM225.45 98.83h4.11v4.45h-4.11zM61.09 103.28h4.11v4.45h-4.11zM102.18 103.28h4.11v4.45h-4.11zM229.56 103.28h4.11v4.45h-4.11zM69.31 107.73h4.11v4.45h-4.11zM93.96 107.73h4.11v4.45h-4.11zM233.67 107.73h4.11v4.45h-4.11zM36.44 125.53h4.11v4.45h-4.11zM44.65 129.98h4.11v4.45h-4.11zM48.76 134.43h4.11v4.45h-4.11zM69.31 156.67h4.11v4.45h-4.11zM73.42 165.57h4.11v4.45h-4.11zM85.75 187.81h4.11v4.45h-4.11zM93.96 214.51h4.11v4.45h-4.11zM98.07 227.86h4.11v4.45h-4.11z"/>
<path fill="#00b9c7" d="M147.38 32.10h4.11v4.45h-4.11zM204.91 63.24h4.11v4.45h-4.11zM151.49 67.69h4.11v4.45h-4.11zM151.49 85.49h4.11v4.45h-4.11zM118.62 103.28h4.11v4.45h-4.11zM229.56 116.63h4.11v4.45h-4.11zM241.89 125.53h4.11v4.45h-4.11zM85.75 138.87h4.11v4.45h-4.11zM102.18 210.06h4.11v4.45h-4.11zM110.40 232.31h4.11v4.45h-4.11zM114.51 250.10h4.11v4.45h-4.11zM114.51 254.55h4.11v4.45h-4.11z"/>
<path fill="#51cc7f" d="M159.71 32.10h4.11v4.45h-4.11zM180.25 45.44h4.11v4.45h-4.11zM172.04 49.89h4.11v4.45h-4.11zM176.15 49.89h4.11v4.45h-4.11zM176.15 112.18h4.11v4.45h-4.11zM135.05 116.63h4.11v4.45h-4.11zM122.73 121.08h4.11v4.45h-4.11zM200.80 121.08h4.11v4.45h-4.11zM217.24 129.98h4.11v4.45h-4.11zM233.67 143.32h4.11v4.45h-4.11zM237.78 147.77h4.11v4.45h-4.11zM102.18 152.22h4.11v4.45h-4.11zM102.18 178.92h4.11v4.45h-4.11zM139.16 245.65h4.11v4.45h-4.11zM143.27 250.10h4.11v4.45h-4.11z"/>
<path fill="#67cd6c" d="M163.82 32.10h4.11v4.45h-4.11zM184.36 32.10h4.11v4.45h-4.11zM167.93 36.55h4.11v4.45h-4.11zM180.25 36.55h4.11v4.45h-4.11zM114.51 134.43h4.11v4.45h-4.11zM102.18 165.57h4.11v4.45h-4.11zM241.89 165.57h4.11v4.45h-4.11zM102.18 170.02h4.11v4.45h-4.11zM110.40 187.81h4.11v4.45h-4.11zM130.95 227.86h4.11v4.45h-4.11zM147.38 250.10h4.11v4.45h-4.11z"/>
<path fill="#81cc59" d="M172.04 32.10h4.11v4.45h-4.11zM176.15 32.10h4.11v4.45h-4.11zM147.38 121.08h4.11v4.45h-4.11zM213.13 134.43h4.11v4.45h-4.11zM237.78 170.02h4.11v4.45h-4.11zM122.73 205.61h4.11v4.45h-4.11zM126.84 214.51h4.11v4.45h-4.11zM135.05 227.86h4.11v4.45h-4.11zM237.78 254.55h4.11v4.45h-4.11z"/>
<path fill="#54cc7c" d="M188.47 32.10h4.11v4.45h-4.11zM167.93 45.44h4.11v4.45h-4.11zM163.82 112.18h4.11v4.45h-4.11zM172.04 112.18h4.11v4.45h-4.11zM139.16 116.63h4.11v4.45h-4.11zM209.02 125.53h4.11v4.45h-4.11zM114.51 129.98h4.11v4.45h-4.11zM106.29 143.32h4.11v4.45h-4.11zM130.95 232.31h4.11v4.45h-4.11z"/>
<path fill="#25c2ae" d="M200.80 32.10h4.11v4.45h-4.11zM196.69 45.44h4.11v4.45h-4.11zM159.71 67.69h4.11v4.45h-4.11zM188.47 76.59h4.11v4.45h-4.11zM163.82 81.04h4.11v4.45h-4.11zM163.82 85.49h4.11v4.45h-4.11zM188.47 89.93h4.11v4.45h-4.11zM200.80 107.73h4.11v4.45h-4.11zM110.40 116.63h4.11v4.45h-4.11zM106.29 121.08h4.11v4.45h-4.11zM93.96 147.77h4.11v4.45h-4.11zM110.40 210.06h4.11v4.45h-4.11zM118.62 232.31h4.11v4.45h-4.11z"/>
<path fill="#09bdbd" d="M204.91 32.10h4.11v4.45h-4.11zM151.49 49.89h4.11v4.45h-4.11zM200.80 49.89h4.11v4.45h-4.11zM200.80 54.34h4.11v4.45h-4.11zM200.80 58.79h4.11v4.45h-4.11zM200.80 63.24h4.11v4.45h-4.11zM200.80 67.69h4.11v4.45h-4.11zM200.80 72.14h4.11v4.45h-4.11zM155.60 76.59h4.11v4.45h-4.11zM200.80 76.59h4.11v4.45h-4.11zM155.60 85.49h4.11v4.45h-4.11zM200.80 94.38h4.11v4.45h-4.11zM217.24 112.18h4.11v4.45h-4.11zM98.07 125.53h4.11v4.45h-4.11zM93.96 134.43h4.11v4.45h-4.11zM89.85 143.32h4.11v4.45h-4.11zM102.18 201.16h4.11v4.45h-4.11zM110.40 223.41h4.11v4.45h-4.11z"/>
<path fill="#02b7cc" d="M209.02 32.10h4.11v4.45h-4.11zM147.38 40.99h4.11v4.45h-4.11zM147.38 89.93h4.11v4.45h-4.11zM20.00 94.38h4.11v4.45h-4.11zM24.11 98.83h4.11v4.45h-4.11zM28.22 98.83h4.11v4.45h-4.11zM126.84 98.83h4.11v4.45h-4.11zM213.13 98.83h4.11v4.45h-4.11zM24.11 103.28h4.11v4.45h-4.11zM28.22 103.28h4.11v4.45h-4.11zM217.24 103.28h4.11v4.45h-4.11zM20.00 107.73h4.11v4.45h-4.11zM24.11 107.73h4.11v4.45h-4.11zM221.35 107.73h4.11v4.45h-4.11zM233.67 116.63h4.11v4.45h-4.11zM89.85 125.53h4.11v4.45h-4.11zM81.64 138.87h4.11v4.45h-4.11zM102.18 214.51h4.11v4.45h-4.11zM110.40 241.20h4.11v4.45h-4.11z"/>
<path fill="#23a0e5" d="M20.00 36.55h4.11v4.45h-4.11zM24.11 40.99h4.11v4.45h-4.11zM217.24 40.99h4.11v4.45h-4.11zM217.24 54.34h4.11v4.45h-4.11zM32.33 58.79h4.11v4.45h-4.11zM221.35 63.24h4.11v4.45h-4.11zM229.56 85.49h4.11v4.45h-4.11zM56.98 89.93h4.11v4.45h-4.11zM118.62 89.93h4.11v4.45h-4.11zM65.20 94.38h4.11v4.45h-4.11zM98.07 98.83h4.11v4.45h-4.11zM28.22 134.43h4.11v4.45h-4.11zM36.44 138.87h4.11v4.45h-4.11zM40.55 143.32h4.11v4.45h-4.11zM73.42 178.92h4.11v4.45h-4.11zM85.75 201.16h4.11v4.45h-4.11zM89.85 227.86h4.11v4.45h-4.11zM93.96 245.65h4.11v4.45h-4.11z"/>
<path fill="#259ce7" d="M24.11 36.55h4.11v4.45h-4.11zM28.22 40.99h4.11v4.45h-4.11zM32.33 49.89h4.11v4.45h-4.11zM36.44 67.69h4.11v4.45h-4.11zM139.16 67.69h4.11v4.45h-4.11zM52.87 85.49h4.11v4.45h-4.11zM61.09 89.93h4.11v4.45h-4.11zM114.51 89.93h4.11v4.45h-4.11zM85.75 98.83h4.11v4.45h-4.11zM93.96 98.83h4.11v4.45h-4.11zM237.78 98.83h4.11v4.45h-4.11zM241.89 103.28h4.11v4.45h-4.11zM20.00 134.43h4.11v4.45h-4.11zM36.44 143.32h4.11v4.45h-4.11zM85.75 210.06h4.11v4.45h-4.11zM89.85 241.20h4.11v4.45h-4.11z"/>
<path fill="#473fe3" d="M73.42 36.55h4.11v4.45h-4.11zM77.53 40.99h4.11v4.45h-4.11z"/>
<path fill="#4538d7" d="M93.96 36.55h4.11v4.45h-4.11z"/>
<path fill="#1babde" d="M143.27 36.55h4.11v4.45h-4.11zM143.27 40.99h4.11v4.45h-4.11zM20.00 58.79h4.11v4.45h-4.11zM213.13 58.79h4.11v4.45h-4.11zM24.11 67.69h4.11v4.45h-4.11zM28.22 76.59h4.11v4.45h-4.11zM32.33 81.04h4.11v4.45h-4.11zM139.16 85.49h4.11v4.45h-4.11zM110.40 98.83h4.11v4.45h-4.11zM73.42 107.73h4.11v4.45h-4.11zM32.33 125.53h4.11v4.45h-4.11zM52.87 138.87h4.11v4.45h-4.11zM56.98 143.32h4.11v4.45h-4.11zM61.09 147.77h4.11v4.45h-4.11zM65.20 152.22h4.11v4.45h-4.11zM77.53 174.47h4.11v4.45h-4.11zM98.07 232.31h4.11v4.45h-4.11zM102.18 245.65h4.11v4.45h-4.11z"/>
<path fill="#01b7ca" d="M147.38 36.55h4.11v4.45h-4.11zM204.91 54.34h4.11v4.45h-4.11zM209.02 72.14h4.11v4.45h-4.11zM209.02 76.59h4.11v4.45h-4.11zM209.02 81.04h4.11v4.45h-4.11zM209.02 85.49h4.11v4.45h-4.11zM209.02 89.93h4.11v4.45h-4.11zM143.27 94.38h4.11v4.45h-4.11zM20.00 98.83h4.11v4.45h-4.11zM20.00 103.28h4.11v4.45h-4.11zM225.45 112.18h4.11v4.45h-4.11zM85.75 134.43h4.11v4.45h-4.11zM81.64 143.32h4.11v4.45h-4.11zM81.64 147.77h4.11v4.45h-4.11zM81.64 152.22h4.11v4.45h-4.11zM81.64 156.67h4.11v4.45h-4.11zM81.64 161.12h4.11v4.45h-4.11zM85.75 174.47h4.11v4.45h-4.11zM110.40 236.75h4.11v4.45h-4.11z"/>
<path fill="#1dc0b3" d="M151.49 36.55h4.11v4.45h-4.11zM200.80 36.55h4.11v4.45h-4.11zM155.60 58.79h4.11v4.45h-4.11zM196.69 58.79h4.11v4.45h-4.11zM159.71 76.59h4.11v4.45h-4.11zM192.58 76.59h4.11v4.45h-4.11zM192.58 81.04h4.11v4.45h-4.11zM159.71 89.93h4.11v4.45h-4.11zM192.58 89.93h4.11v4.45h-4.11zM143.27 103.28h4.11v4.45h-4.11zM122.73 107.73h4.11v4.45h-4.11zM204.91 107.73h4.11v4.45h-4.11zM102.18 125.53h4.11v4.45h-4.11zM98.07 134.43h4.11v4.45h-4.11zM241.89 134.43h4.11v4.45h-4.11zM93.96 143.32h4.11v4.45h-4.11zM89.85 161.12h4.11v4.45h-4.11zM89.85 165.57h4.11v4.45h-4.11zM118.62 236.75h4.11v4.45h-4.11z"/>
<path fill="#45cb89" d="M159.71 36.55h4.11v4.45h-4.11zM163.82 45.44h4.11v4.45h-4.11zM192.58 116.63h4.11v4.45h-4.11zM204.91 121.08h4.11v4.45h-4.11zM114.51 125.53h4.11v4.45h-4.11zM213.13 125.53h4.11v4.45h-4.11zM106.29 138.87h4.11v4.45h-4.11zM102.18 147.77h4.11v4.45h-4.11zM114.51 201.16h4.11v4.45h-4.11zM139.16 250.10h4.11v4.45h-4.11z"/>
<path fill="#6ecd66" d="M172.04 36.55h4.11v4.45h-4.11zM176.15 36.55h4.11v4.45h-4.11zM188.47 121.08h4.11v4.45h-4.11zM200.80 125.53h4.11v4.45h-4.11zM118.62 129.98h4.11v4.45h-4.11zM237.78 156.67h4.11v4.45h-4.11zM241.89 174.47h4.11v4.45h-4.11zM114.51 192.26h4.11v4.45h-4.11zM122.73 210.06h4.11v4.45h-4.11zM126.84 218.96h4.11v4.45h-4.11zM135.05 232.31h4.11v4.45h-4.11zM139.16 236.75h4.11v4.45h-4.11zM241.89 250.10h4.11v4.45h-4.11z"/>
<path fill="#48cb86" d="M188.47 36.55h4.11v4.45h-4.11zM184.36 45.44h4.11v4.45h-4.11zM172.04 54.34h4.11v4.45h-4.11zM176.15 54.34h4.11v4.45h-4.11zM155.60 112.18h4.11v4.45h-4.11zM180.25 112.18h4.11v4.45h-4.11zM225.45 134.43h4.11v4.45h-4.11zM106.29 187.81h4.11v4.45h-4.11zM130.95 236.75h4.11v4.45h-4.11zM143.27 254.55h4.11v4.45h-4.11z"/>
<path fill="#2ec4a5" d="M196.69 36.55h4.11v4.45h-4.11zM155.60 40.99h4.11v4.45h-4.11zM188.47 63.24h4.11v4.45h-4.11zM163.82 67.69h4.11v4.45h-4.11zM167.93 76.59h4.11v4.45h-4.11zM180.25 76.59h4.11v4.45h-4.11zM172.04 81.04h4.11v4.45h-4.11zM176.15 81.04h4.11v4.45h-4.11zM172.04 85.49h4.11v4.45h-4.11zM176.15 85.49h4.11v4.45h-4.11zM167.93 89.93h4.11v4.45h-4.11zM180.25 94.38h4.11v4.45h-4.11zM184.36 98.83h4.11v4.45h-4.11zM143.27 107.73h4.11v4.45h-4.11zM192.58 107.73h4.11v4.45h-4.11zM122.73 112.18h4.11v4.45h-4.11zM200.80 112.18h4.11v4.45h-4.11zM217.24 121.08h4.11v4.45h-4.11zM102.18 134.43h4.11v4.45h-4.11zM98.07 143.32h4.11v4.45h-4.11zM93.96 156.67h4.11v4.45h-4.11zM93.96 170.02h4.11v4.45h-4.11zM98.07 183.37h4.11v4.45h-4.11zM106.29 196.71h4.11v4.45h-4.11zM114.51 214.51h4.11v4.45h-4.11zM126.84 245.65h4.11v4.45h-4.11z"/>
<path fill="#02bbc2" d="M204.91 36.55h4.11v4.45h-4.11zM151.49 58.79h4.11v4.45h-4.11zM139.16 98.83h4.11v4.45h-4.11zM122.73 103.28h4.11v4.45h-4.11zM98.07 121.08h4.11v4.45h-4.11zM233.67 121.08h4.11v4.45h-4.11zM93.96 129.98h4.11v4.45h-4.11zM85.75 147.77h4.11v4.45h-4.11zM85.75 165.57h4.11v4.45h-4.11zM89.85 178.92h4.11v4.45h-4.11zM98.07 196.71h4.11v4.45h-4.11zM102.18 205.61h4.11v4.45h-4.11zM110.40 227.86h4.11v4.45h-4.11zM114.51 241.20h4.11v4.45h-4.11z"/>
<path fill="#08b4d1" d="M209.02 36.55h4.11v4.45h-4.11zM147.38 54.34h4.11v4.45h-4.11zM209.02 63.24h4.11v4.45h-4.11zM213.13 76.59h4.11v4.45h-4.11zM213.13 81.04h4.11v4.45h-4.11zM20.00 85.49h4.11v4.45h-4.11zM147.38 85.49h4.11v4.45h-4.11zM213.13 85.49h4.11v4.45h-4.11zM32.33 94.38h4.11v4.45h-4.11zM122.73 98.83h4.11v4.45h-4.11zM217.24 98.83h4.11v4.45h-4.11zM40.55 103.28h4.11v4.45h-4.11zM40.55 107.73h4.11v4.45h-4.11zM28.22 112.18h4.11v4.45h-4.11zM32.33 112.18h4.11v4.45h-4.11zM36.44 112.18h4.11v4.45h-4.11zM98.07 112.18h4.11v4.45h-4.11zM229.56 112.18h4.11v4.45h-4.11zM241.89 121.08h4.11v4.45h-4.11zM77.53 129.98h4.11v4.45h-4.11zM77.53 134.43h4.11v4.45h-4.11zM77.53 138.87h4.11v4.45h-4.11zM77.53 152.22h4.11v4.45h-4.11zM81.64 170.02h4.11v4.45h-4.11zM85.75 178.92h4.11v4.45h-4.11zM106.29 232.31h4.11v4.45h-4.11zM110.40 250.10h4.11v4.45h-4.11zM110.40 254.55h4.11v4.45h-4.11z"/>
<path fill="#21a3e3" d="M217.24 36.55h4.11v4.45h-4.11zM28.22 54.34h4.11v4.45h-4.11zM217.24 58.79h4.11v4.45h-4.11zM32.33 72.14h4.11v4.45h-4.11zM225.45 72.14h4.11v4.45h-4.11zM40.55 81.04h4.11v4.45h-4.11zM52.87 89.93h4.11v4.45h-4.11zM122.73 89.93h4.11v4.45h-4.11zM61.09 94.38h4.11v4.45h-4.11zM69.31 98.83h4.11v4.45h-4.11zM102.18 98.83h4.11v4.45h-4.11zM81.64 103.28h4.11v4.45h-4.11zM85.75 103.28h4.11v4.45h-4.11zM89.85 103.28h4.11v4.45h-4.11zM241.89 107.73h4.11v4.45h-4.11zM24.11 129.98h4.11v4.45h-4.11zM40.55 138.87h4.11v4.45h-4.11zM69.31 170.02h4.11v4.45h-4.11zM81.64 187.81h4.11v4.45h-4.11zM85.75 196.71h4.11v4.45h-4.11zM89.85 214.51h4.11v4.45h-4.11zM93.96 236.75h4.11v4.45h-4.11zM98.07 254.55h4.11v4.45h-4.11z"/>
<path fill="#4742e6" d="M98.07 40.99h4.11v4.45h-4.11zM81.64 45.44h4.11v4.45h-4.11z"/>
<path fill="#3bc992" d="M159.71 40.99h4.11v4.45h-4.11zM188.47 45.44h4.11v4.45h-4.11zM184.36 54.34h4.11v4.45h-4.11zM167.93 58.79h4.11v4.45h-4.11zM180.25 58.79h4.11v4.45h-4.11zM180.25 107.73h4.11v4.45h-4.11zM143.27 112.18h4.11v4.45h-4.11zM122.73 116.63h4.11v4.45h-4.11zM209.02 121.08h4.11v4.45h-4.11zM102.18 143.32h4.11v4.45h-4.11zM98.07 174.47h4.11v4.45h-4.11zM114.51 205.61h4.11v4.45h-4.11zM130.95 241.20h4.11v4.45h-4.11z"/>
<path fill="#35c79b" d="M192.58 40.99h4.11v4.45h-4.11zM163.82 58.79h4.11v4.45h-4.11zM172.04 67.69h4.11v4.45h-4.11zM176.15 67.69h4.11v4.45h-4.11zM163.82 103.28h4.11v4.45h-4.11zM180.25 103.28h4.11v4.45h-4.11zM130.95 112.18h4.11v4.45h-4.11zM118.62 116.63h4.11v4.45h-4.11zM213.13 121.08h4.11v4.45h-4.11zM98.07 178.92h4.11v4.45h-4.11z"/>
<path fill="#1fa6e2" d="M20.00 45.44h4.11v4.45h-4.11zM28.22 63.24h4.11v4.45h-4.11zM221.35 67.69h4.11v4.45h-4.11zM225.45 76.59h4.11v4.45h-4.11zM139.16 81.04h4.11v4.45h-4.11zM135.05 85.49h4.11v4.45h-4.11zM56.98 94.38h4.11v4.45h-4.11zM114.51 94.38h4.11v4.45h-4.11zM65.20 98.83h4.11v4.45h-4.11zM93.96 103.28h4.11v4.45h-4.11zM44.65 138.87h4.11v4.45h-4.11zM48.76 143.32h4.11v4.45h-4.11zM65.20 161.12h4.11v4.45h-4.11zM89.85 210.06h4.11v4.45h-4.11zM98.07 245.65h4.11v4.45h-4.11z"/>
<path fill="#4848ec" d="M98.07 45.44h4.11v4.45h-4.11z"/>
<path fill="#04b6ce" d="M147.38 45.44h4.11v4.45h-4.11zM209.02 67.69h4.11v4.45h-4.11zM20.00 89.93h4.11v4.45h-4.11zM24.11 94.38h4.11v4.45h-4.11zM139.16 94.38h4.11v4.45h-4.11zM213.13 94.38h4.11v4.45h-4.11zM32.33 98.83h4.11v4.45h-4.11zM32.33 103.28h4.11v4.45h-4.11zM114.51 103.28h4.11v4.45h-4.11zM28.22 107.73h4.11v4.45h-4.11zM32.33 107.73h4.11v4.45h-4.11zM106.29 107.73h4.11v4.45h-4.11zM85.75 129.98h4.11v4.45h-4.11zM81.64 134.43h4.11v4.45h-4.11zM81.64 165.57h4.11v4.45h-4.11zM106.29 227.86h4.11v4.45h-4.11z"/>
<path fill="#10beba" d="M151.49 45.44h4.11v4.45h-4.11zM200.80 45.44h4.11v4.45h-4.11zM155.60 67.69h4.11v4.45h-4.11zM196.69 85.49h4.11v4.45h-4.11zM200.80 98.83h4.11v4.45h-4.11zM209.02 107.73h4.11v4.45h-4.11zM89.85 147.77h4.11v4.45h-4.11zM98.07 192.26h4.11v4.45h-4.11zM110.40 218.96h4.11v4.45h-4.11zM118.62 245.65h4.11v4.45h-4.11z"/>
<path fill="#10b2d5" d="M209.02 45.44h4.11v4.45h-4.11zM209.02 54.34h4.11v4.45h-4.11zM147.38 63.24h4.11v4.45h-4.11zM147.38 67.69h4.11v4.45h-4.11zM147.38 72.14h4.11v4.45h-4.11zM20.00 76.59h4.11v4.45h-4.11zM147.38 76.59h4.11v4.45h-4.11zM32.33 89.93h4.11v4.45h-4.11zM217.24 89.93h4.11v4.45h-4.11zM130.95 94.38h4.11v4.45h-4.11zM118.62 98.83h4.11v4.45h-4.11zM52.87 112.18h4.11v4.45h-4.11zM93.96 112.18h4.11v4.45h-4.11zM233.67 112.18h4.11v4.45h-4.11zM20.00 116.63h4.11v4.45h-4.11zM24.11 116.63h4.11v4.45h-4.11zM48.76 116.63h4.11v4.45h-4.11zM52.87 116.63h4.11v4.45h-4.11zM56.98 116.63h4.11v4.45h-4.11zM61.09 116.63h4.11v4.45h-4.11zM52.87 121.08h4.11v4.45h-4.11zM56.98 121.08h4.11v4.45h-4.11zM61.09 121.08h4.11v4.45h-4.11zM65.20 121.08h4.11v4.45h-4.11zM69.31 121.08h4.11v4.45h-4.11zM73.42 121.08h4.11v4.45h-4.11zM77.53 121.08h4.11v4.45h-4.11zM56.98 125.53h4.11v4.45h-4.11zM61.09 125.53h4.11v4.45h-4.11zM61.09 129.98h4.11v4.45h-4.11zM65.20 129.98h4.11v4.45h-4.11zM65.20 134.43h4.11v4.45h-4.11zM69.31 138.87h4.11v4.45h-4.11zM73.42 147.77h4.11v4.45h-4.11zM81.64 174.47h4.11v4.45h-4.11zM93.96 201.16h4.11v4.45h-4.11zM98.07 214.51h4.11v4.45h-4.11zM102.18 227.86h4.11v4.45h-4.11zM106.29 241.20h4.11v4.45h-4.11z"/>
<path fill="#1da9e0" d="M213.13 45.44h4.11v4.45h-4.11zM143.27 49.89h4.11v4.45h-4.11zM20.00 54.34h4.11v4.45h-4.11zM143.27 54.34h4.11v4.45h-4.11zM213.13 54.34h4.11v4.45h-4.11zM24.11 63.24h4.11v4.45h-4.11zM28.22 72.14h4.11v4.45h-4.11zM40.55 85.49h4.11v4.45h-4.11zM52.87 94.38h4.11v4.45h-4.11zM118.62 94.38h4.11v4.45h-4.11zM81.64 107.73h4.11v4.45h-4.11zM85.75 107.73h4.11v4.45h-4.11zM24.11 125.53h4.11v4.45h-4.11zM44.65 134.43h4.11v4.45h-4.11zM48.76 138.87h4.11v4.45h-4.11zM65.20 156.67h4.11v4.45h-4.11zM73.42 170.02h4.11v4.45h-4.11zM81.64 183.37h4.11v4.45h-4.11zM98.07 236.75h4.11v4.45h-4.11zM102.18 254.55h4.11v4.45h-4.11z"/>
<path fill="#1da8e1" d="M20.00 49.89h4.11v4.45h-4.11zM213.13 49.89h4.11v4.45h-4.11zM24.11 58.79h4.11v4.45h-4.11zM143.27 58.79h4.11v4.45h-4.11zM143.27 63.24h4.11v4.45h-4.11zM217.24 63.24h4.11v4.45h-4.11zM143.27 67.69h4.11v4.45h-4.11zM143.27 72.14h4.11v4.45h-4.11zM225.45 89.93h4.11v4.45h-4.11zM61.09 98.83h4.11v4.45h-4.11zM229.56 98.83h4.11v4.45h-4.11zM69.31 103.28h4.11v4.45h-4.11zM98.07 103.28h4.11v4.45h-4.11zM237.78 107.73h4.11v4.45h-4.11zM20.00 125.53h4.11v4.45h-4.11zM36.44 129.98h4.11v4.45h-4.11zM52.87 143.32h4.11v4.45h-4.11zM56.98 147.77h4.11v4.45h-4.11zM61.09 152.22h4.11v4.45h-4.11zM85.75 192.26h4.11v4.45h-4.11zM93.96 223.41h4.11v4.45h-4.11zM98.07 241.20h4.11v4.45h-4.11z"/>
<path fill="#4465fd" d="M61.09 49.89h4.11v4.45h-4.11zM110.40 54.34h4.11v4.45h-4.11zM85.75 72.14h4.11v4.45h-4.11zM89.85 72.14h4.11v4.45h-4.11zM93.96 72.14h4.11v4.45h-4.11zM20.00 201.16h4.11v4.45h-4.11zM24.11 201.16h4.11v4.45h-4.11zM20.00 205.61h4.11v4.45h-4.11zM24.11 205.61h4.11v4.45h-4.11zM28.22 205.61h4.11v4.45h-4.11zM20.00 210.06h4.11v4.45h-4.11zM24.11 210.06h4.11v4.45h-4.11zM28.22 210.06h4.11v4.45h-4.11zM32.33 210.06h4.11v4.45h-4.11zM24.11 214.51h4.11v4.45h-4.11zM28.22 214.51h4.11v4.45h-4.11zM32.33 214.51h4.11v4.45h-4.11z"/>
<path fill="#475af9" d="M106.29 49.89h4.11v4.45h-4.11zM81.64 63.24h4.11v4.45h-4.11zM93.96 63.24h4.11v4.45h-4.11z"/>
<path fill="#27c2ac" d="M155.60 49.89h4.11v4.45h-4.11zM192.58 63.24h4.11v4.45h-4.11zM188.47 72.14h4.11v4.45h-4.11zM163.82 76.59h4.11v4.45h-4.11zM188.47 94.38h4.11v4.45h-4.11zM151.49 103.28h4.11v4.45h-4.11zM192.58 103.28h4.11v4.45h-4.11zM130.95 107.73h4.11v4.45h-4.11zM221.35 121.08h4.11v4.45h-4.11zM102.18 129.98h4.11v4.45h-4.11zM233.67 129.98h4.11v4.45h-4.11zM98.07 138.87h4.11v4.45h-4.11zM122.73 241.20h4.11v4.45h-4.11z"/>
<path fill="#36c899" d="M188.47 49.89h4.11v4.45h-4.11zM184.36 58.79h4.11v4.45h-4.11zM167.93 63.24h4.11v4.45h-4.11zM180.25 63.24h4.11v4.45h-4.11zM176.15 103.28h4.11v4.45h-4.11zM155.60 107.73h4.11v4.45h-4.11zM184.36 107.73h4.11v4.45h-4.11zM192.58 112.18h4.11v4.45h-4.11zM110.40 125.53h4.11v4.45h-4.11zM225.45 129.98h4.11v4.45h-4.11zM106.29 192.26h4.11v4.45h-4.11zM118.62 218.96h4.11v4.45h-4.11zM130.95 245.65h4.11v4.45h-4.11zM135.05 254.55h4.11v4.45h-4.11z"/>
<path fill="#2a93ee" d="M40.55 54.34h4.11v4.45h-4.11zM114.51 85.49h4.11v4.45h-4.11zM73.42 89.93h4.11v4.45h-4.11zM89.85 94.38h4.11v4.45h-4.11zM28.22 147.77h4.11v4.45h-4.11zM40.55 156.67h4.11v4.45h-4.11zM81.64 214.51h4.11v4.45h-4.11z"/>
<path fill="#4850f3" d="M81.64 54.34h4.11v4.45h-4.11z"/>
<path fill="#3e70ff" d="M114.51 63.24h4.11v4.45h-4.11zM81.64 76.59h4.11v4.45h-4.11zM20.00 174.47h4.11v4.45h-4.11zM28.22 178.92h4.11v4.45h-4.11zM32.33 183.37h4.11v4.45h-4.11zM44.65 196.71h4.11v4.45h-4.11zM52.87 214.51h4.11v4.45h-4.11zM52.87 218.96h4.11v4.45h-4.11zM52.87 223.41h4.11v4.45h-4.11zM52.87 227.86h4.11v4.45h-4.11zM52.87 232.31h4.11v4.45h-4.11zM44.65 236.75h4.11v4.45h-4.11zM48.76 236.75h4.11v4.45h-4.11z"/>
<path fill="#1ac0b5" d="M196.69 63.24h4.11v4.45h-4.11zM159.71 81.04h4.11v4.45h-4.11zM159.71 85.49h4.11v4.45h-4.11zM192.58 85.49h4.11v4.45h-4.11zM196.69 98.83h4.11v4.45h-4.11zM225.45 121.08h4.11v4.45h-4.11zM237.78 129.98h4.11v4.45h-4.11zM89.85 156.67h4.11v4.45h-4.11zM102.18 196.71h4.11v4.45h-4.11zM110.40 214.51h4.11v4.45h-4.11zM122.73 254.55h4.11v4.45h-4.11z"/>
<path fill="#3dca90" d="M147.38 112.18h4.11v4.45h-4.11zM233.67 138.87h4.11v4.45h-4.11zM237.78 143.32h4.11v4.45h-4.11zM241.89 147.77h4.11v4.45h-4.11zM98.07 156.67h4.11v4.45h-4.11zM118.62 214.51h4.11v4.45h-4.11zM139.16 254.55h4.11v4.45h-4.11z"/>
<path fill="#7dcc5b" d="M143.27 121.08h4.11v4.45h-4.11zM126.84 125.53h4.11v4.45h-4.11zM196.69 125.53h4.11v4.45h-4.11zM114.51 138.87h4.11v4.45h-4.11zM229.56 147.77h4.11v4.45h-4.11zM237.78 165.57h4.11v4.45h-4.11zM118.62 196.71h4.11v4.45h-4.11zM241.89 196.71h4.11v4.45h-4.11zM241.89 201.16h4.11v4.45h-4.11zM241.89 205.61h4.11v4.45h-4.11zM241.89 210.06h4.11v4.45h-4.11zM241.89 214.51h4.11v4.45h-4.11zM241.89 218.96h4.11v4.45h-4.11zM241.89 223.41h4.11v4.45h-4.11zM241.89 227.86h4.11v4.45h-4.11zM241.89 232.31h4.11v4.45h-4.11zM241.89 236.75h4.11v4.45h-4.11z"/>
<path fill="#aec637" d="M151.49 125.53h4.11v4.45h-4.11zM130.95 129.98h4.11v4.45h-4.11zM229.56 170.02h4.11v4.45h-4.11zM135.05 218.96h4.11v4.45h-4.11zM229.56 250.10h4.11v4.45h-4.11z"/>
<path fill="#a1c840" d="M184.36 125.53h4.11v4.45h-4.11zM122.73 134.43h4.11v4.45h-4.11zM110.40 178.92h4.11v4.45h-4.11zM233.67 183.37h4.11v4.45h-4.11zM233.67 187.81h4.11v4.45h-4.11zM147.38 236.75h4.11v4.45h-4.11zM233.67 241.20h4.11v4.45h-4.11z"/>
<path fill="#c2c32c" d="M139.16 129.98h4.11v4.45h-4.11zM204.91 138.87h4.11v4.45h-4.11zM225.45 170.02h4.11v4.45h-4.11zM225.45 174.47h4.11v4.45h-4.11zM114.51 178.92h4.11v4.45h-4.11zM135.05 214.51h4.11v4.45h-4.11zM225.45 245.65h4.11v4.45h-4.11zM159.71 254.55h4.11v4.45h-4.11z"/>
<path fill="#d0bf27" d="M151.49 129.98h4.11v4.45h-4.11zM180.25 129.98h4.11v4.45h-4.11zM192.58 134.43h4.11v4.45h-4.11zM200.80 138.87h4.11v4.45h-4.11zM114.51 161.12h4.11v4.45h-4.11zM221.35 165.57h4.11v4.45h-4.11zM114.51 174.47h4.11v4.45h-4.11zM122.73 187.81h4.11v4.45h-4.11zM221.35 245.65h4.11v4.45h-4.11z"/>
<path fill="#d6be27" d="M155.60 129.98h4.11v4.45h-4.11zM176.15 129.98h4.11v4.45h-4.11zM135.05 134.43h4.11v4.45h-4.11zM217.24 156.67h4.11v4.45h-4.11zM114.51 170.02h4.11v4.45h-4.11zM221.35 183.37h4.11v4.45h-4.11zM221.35 187.81h4.11v4.45h-4.11zM221.35 192.26h4.11v4.45h-4.11zM221.35 196.71h4.11v4.45h-4.11zM221.35 201.16h4.11v4.45h-4.11zM221.35 205.61h4.11v4.45h-4.11zM221.35 210.06h4.11v4.45h-4.11zM221.35 214.51h4.11v4.45h-4.11zM221.35 218.96h4.11v4.45h-4.11zM221.35 223.41h4.11v4.45h-4.11zM221.35 227.86h4.11v4.45h-4.11zM221.35 232.31h4.11v4.45h-4.11zM155.60 236.75h4.11v4.45h-4.11zM221.35 236.75h4.11v4.45h-4.11zM159.71 245.65h4.11v4.45h-4.11zM217.24 254.55h4.11v4.45h-4.11z"/>
<path fill="#d9be28" d="M159.71 129.98h4.11v4.45h-4.11zM204.91 143.32h4.11v4.45h-4.11zM122.73 147.77h4.11v4.45h-4.11zM213.13 152.22h4.11v4.45h-4.11zM118.62 178.92h4.11v4.45h-4.11zM130.95 201.16h4.11v4.45h-4.11zM139.16 214.51h4.11v4.45h-4.11zM217.24 250.10h4.11v4.45h-4.11z"/>
<path fill="#dbbd28" d="M163.82 129.98h4.11v4.45h-4.11zM167.93 129.98h4.11v4.45h-4.11zM172.04 129.98h4.11v4.45h-4.11zM188.47 134.43h4.11v4.45h-4.11zM209.02 147.77h4.11v4.45h-4.11zM217.24 161.12h4.11v4.45h-4.11zM126.84 192.26h4.11v4.45h-4.11zM217.24 245.65h4.11v4.45h-4.11z"/>
<path fill="#debc29" d="M139.16 134.43h4.11v4.45h-4.11zM130.95 138.87h4.11v4.45h-4.11zM126.84 143.32h4.11v4.45h-4.11zM118.62 156.67h4.11v4.45h-4.11zM217.24 165.57h4.11v4.45h-4.11zM143.27 218.96h4.11v4.45h-4.11zM217.24 241.20h4.11v4.45h-4.11z"/>
<path fill="#e3bc2b" d="M143.27 134.43h4.11v4.45h-4.11zM213.13 156.67h4.11v4.45h-4.11zM217.24 174.47h4.11v4.45h-4.11zM217.24 178.92h4.11v4.45h-4.11zM217.24 183.37h4.11v4.45h-4.11zM217.24 205.61h4.11v4.45h-4.11zM217.24 210.06h4.11v4.45h-4.11zM155.60 232.31h4.11v4.45h-4.11zM213.13 250.10h4.11v4.45h-4.11z"/>
<path fill="#e8bb2e" d="M147.38 134.43h4.11v4.45h-4.11zM135.05 138.87h4.11v4.45h-4.11zM200.80 143.32h4.11v4.45h-4.11zM209.02 152.22h4.11v4.45h-4.11zM118.62 165.57h4.11v4.45h-4.11zM126.84 187.81h4.11v4.45h-4.11zM130.95 196.71h4.11v4.45h-4.11zM139.16 210.06h4.11v4.45h-4.11zM213.13 241.20h4.11v4.45h-4.11zM163.82 250.10h4.11v4.45h-4.11zM209.02 254.55h4.11v4.45h-4.11z"/>
<path fill="#ecba32" d="M151.49 134.43h4.11v4.45h-4.11zM180.25 134.43h4.11v4.45h-4.11zM130.95 143.32h4.11v4.45h-4.11zM213.13 165.57h4.11v4.45h-4.11zM213.13 210.06h4.11v4.45h-4.11zM143.27 214.51h4.11v4.45h-4.11zM213.13 214.51h4.11v4.45h-4.11zM163.82 245.65h4.11v4.45h-4.11zM209.02 245.65h4.11v4.45h-4.11z"/>
<path fill="#f1ba37" d="M155.60 134.43h4.11v4.45h-4.11zM176.15 134.43h4.11v4.45h-4.11zM139.16 138.87h4.11v4.45h-4.11zM209.02 156.67h4.11v4.45h-4.11zM126.84 183.37h4.11v4.45h-4.11zM213.13 183.37h4.11v4.45h-4.11zM213.13 187.81h4.11v4.45h-4.11zM130.95 192.26h4.11v4.45h-4.11zM213.13 192.26h4.11v4.45h-4.11zM213.13 196.71h4.11v4.45h-4.11zM213.13 201.16h4.11v4.45h-4.11zM151.49 223.41h4.11v4.45h-4.11zM209.02 236.75h4.11v4.45h-4.11zM204.91 250.10h4.11v4.45h-4.11z"/>
<path fill="#f3ba39" d="M159.71 134.43h4.11v4.45h-4.11zM196.69 143.32h4.11v4.45h-4.11zM122.73 174.47h4.11v4.45h-4.11zM139.16 205.61h4.11v4.45h-4.11zM209.02 218.96h4.11v4.45h-4.11zM209.02 223.41h4.11v4.45h-4.11zM155.60 227.86h4.11v4.45h-4.11zM209.02 227.86h4.11v4.45h-4.11zM209.02 232.31h4.11v4.45h-4.11zM163.82 241.20h4.11v4.45h-4.11zM204.91 245.65h4.11v4.45h-4.11zM200.80 254.55h4.11v4.45h-4.11z"/>
<path fill="#f5ba3b" d="M163.82 134.43h4.11v4.45h-4.11zM167.93 134.43h4.11v4.45h-4.11zM172.04 134.43h4.11v4.45h-4.11zM188.47 138.87h4.11v4.45h-4.11zM126.84 152.22h4.11v4.45h-4.11zM204.91 152.22h4.11v4.45h-4.11zM122.73 161.12h4.11v4.45h-4.11zM209.02 161.12h4.11v4.45h-4.11zM209.02 214.51h4.11v4.45h-4.11zM204.91 241.20h4.11v4.45h-4.11zM200.80 250.10h4.11v4.45h-4.11zM167.93 254.55h4.11v4.45h-4.11zM196.69 254.55h4.11v4.45h-4.11z"/>
<path fill="#e6bb2d" d="M184.36 134.43h4.11v4.45h-4.11zM122.73 152.22h4.11v4.45h-4.11zM118.62 161.12h4.11v4.45h-4.11zM118.62 174.47h4.11v4.45h-4.11zM217.24 187.81h4.11v4.45h-4.11zM217.24 192.26h4.11v4.45h-4.11zM217.24 196.71h4.11v4.45h-4.11zM217.24 201.16h4.11v4.45h-4.11zM213.13 245.65h4.11v4.45h-4.11z"/>
<path fill="#c5c22a" d="M196.69 134.43h4.11v4.45h-4.11zM118.62 147.77h4.11v4.45h-4.11zM221.35 156.67h4.11v4.45h-4.11zM225.45 178.92h4.11v4.45h-4.11zM225.45 183.37h4.11v4.45h-4.11zM225.45 187.81h4.11v4.45h-4.11zM155.60 241.20h4.11v4.45h-4.11zM225.45 241.20h4.11v4.45h-4.11z"/>
<path fill="#f7ba3d" d="M143.27 138.87h4.11v4.45h-4.11zM135.05 143.32h4.11v4.45h-4.11zM130.95 147.77h4.11v4.45h-4.11zM200.80 147.77h4.11v4.45h-4.11zM122.73 165.57h4.11v4.45h-4.11zM122.73 170.02h4.11v4.45h-4.11zM143.27 210.06h4.11v4.45h-4.11zM209.02 210.06h4.11v4.45h-4.11zM159.71 232.31h4.11v4.45h-4.11zM204.91 236.75h4.11v4.45h-4.11zM200.80 245.65h4.11v4.45h-4.11zM196.69 250.10h4.11v4.45h-4.11z"/>
<path fill="#fbbb3e" d="M147.38 138.87h4.11v4.45h-4.11zM184.36 138.87h4.11v4.45h-4.11zM126.84 156.67h4.11v4.45h-4.11zM209.02 178.92h4.11v4.45h-4.11zM209.02 201.16h4.11v4.45h-4.11zM147.38 214.51h4.11v4.45h-4.11zM204.91 223.41h4.11v4.45h-4.11zM163.82 236.75h4.11v4.45h-4.11zM200.80 236.75h4.11v4.45h-4.11zM196.69 241.20h4.11v4.45h-4.11zM167.93 245.65h4.11v4.45h-4.11zM192.58 250.10h4.11v4.45h-4.11zM188.47 254.55h4.11v4.45h-4.11z"/>
<path fill="#febe3c" d="M151.49 138.87h4.11v4.45h-4.11zM180.25 138.87h4.11v4.45h-4.11zM130.95 152.22h4.11v4.45h-4.11zM200.80 152.22h4.11v4.45h-4.11zM126.84 161.12h4.11v4.45h-4.11zM130.95 183.37h4.11v4.45h-4.11zM135.05 192.26h4.11v4.45h-4.11zM143.27 205.61h4.11v4.45h-4.11zM204.91 210.06h4.11v4.45h-4.11zM159.71 227.86h4.11v4.45h-4.11zM196.69 232.31h4.11v4.45h-4.11zM192.58 236.75h4.11v4.45h-4.11zM167.93 241.20h4.11v4.45h-4.11zM188.47 241.20h4.11v4.45h-4.11zM172.04 250.10h4.11v4.45h-4.11zM184.36 250.10h4.11v4.45h-4.11zM176.15 254.55h4.11v4.45h-4.11zM180.25 254.55h4.11v4.45h-4.11z"/>
<path fill="#fec03b" d="M155.60 138.87h4.11v4.45h-4.11zM135.05 147.77h4.11v4.45h-4.11zM196.69 147.77h4.11v4.45h-4.11zM204.91 161.12h4.11v4.45h-4.11zM126.84 165.57h4.11v4.45h-4.11zM126.84 170.02h4.11v4.45h-4.11zM204.91 205.61h4.11v4.45h-4.11zM200.80 223.41h4.11v4.45h-4.11zM188.47 236.75h4.11v4.45h-4.11zM184.36 245.65h4.11v4.45h-4.11z"/>
<path fill="#fec239" d="M159.71 138.87h4.11v4.45h-4.11zM143.27 143.32h4.11v4.45h-4.11zM188.47 143.32h4.11v4.45h-4.11zM130.95 156.67h4.11v4.45h-4.11zM204.91 170.02h4.11v4.45h-4.11zM204.91 174.47h4.11v4.45h-4.11zM130.95 178.92h4.11v4.45h-4.11zM204.91 178.92h4.11v4.45h-4.11zM204.91 196.71h4.11v4.45h-4.11zM204.91 201.16h4.11v4.45h-4.11zM200.80 214.51h4.11v4.45h-4.11zM167.93 236.75h4.11v4.45h-4.11zM184.36 236.75h4.11v4.45h-4.11zM176.15 245.65h4.11v4.45h-4.11zM180.25 245.65h4.11v4.45h-4.11z"/>
<path fill="#fec438" d="M163.82 138.87h4.11v4.45h-4.11zM167.93 138.87h4.11v4.45h-4.11zM172.04 138.87h4.11v4.45h-4.11zM200.80 156.67h4.11v4.45h-4.11zM204.91 183.37h4.11v4.45h-4.11zM135.05 187.81h4.11v4.45h-4.11zM204.91 187.81h4.11v4.45h-4.11zM204.91 192.26h4.11v4.45h-4.11zM143.27 201.16h4.11v4.45h-4.11zM151.49 214.51h4.11v4.45h-4.11zM196.69 223.41h4.11v4.45h-4.11zM188.47 232.31h4.11v4.45h-4.11zM172.04 241.20h4.11v4.45h-4.11zM180.25 241.20h4.11v4.45h-4.11z"/>
<path fill="#fec13a" d="M176.15 138.87h4.11v4.45h-4.11zM204.91 165.57h4.11v4.45h-4.11zM139.16 196.71h4.11v4.45h-4.11zM147.38 210.06h4.11v4.45h-4.11zM200.80 218.96h4.11v4.45h-4.11zM196.69 227.86h4.11v4.45h-4.11zM163.82 232.31h4.11v4.45h-4.11zM192.58 232.31h4.11v4.45h-4.11zM184.36 241.20h4.11v4.45h-4.11zM172.04 245.65h4.11v4.45h-4.11zM176.15 250.10h4.11v4.45h-4.11zM180.25 250.10h4.11v4.45h-4.11z"/>
<path fill="#eaba30" d="M192.58 138.87h4.11v4.45h-4.11zM126.84 147.77h4.11v4.45h-4.11zM204.91 147.77h4.11v4.45h-4.11zM213.13 161.12h4.11v4.45h-4.11zM118.62 170.02h4.11v4.45h-4.11zM122.73 178.92h4.11v4.45h-4.11zM213.13 218.96h4.11v4.45h-4.11zM213.13 223.41h4.11v4.45h-4.11zM213.13 227.86h4.11v4.45h-4.11zM213.13 232.31h4.11v4.45h-4.11zM159.71 236.75h4.11v4.45h-4.11zM213.13 236.75h4.11v4.45h-4.11zM209.02 250.10h4.11v4.45h-4.11z"/>
<path fill="#e1bc2a" d="M196.69 138.87h4.11v4.45h-4.11zM217.24 170.02h4.11v4.45h-4.11zM122.73 183.37h4.11v4.45h-4.11zM135.05 205.61h4.11v4.45h-4.11zM217.24 214.51h4.11v4.45h-4.11zM217.24 218.96h4.11v4.45h-4.11zM147.38 223.41h4.11v4.45h-4.11zM217.24 223.41h4.11v4.45h-4.11zM151.49 227.86h4.11v4.45h-4.11zM217.24 227.86h4.11v4.45h-4.11zM217.24 232.31h4.11v4.45h-4.11zM217.24 236.75h4.11v4.45h-4.11zM159.71 241.20h4.11v4.45h-4.11zM163.82 254.55h4.11v4.45h-4.11zM213.13 254.55h4.11v4.45h-4.11z"/>
<path fill="#febd3d" d="M139.16 143.32h4.11v4.45h-4.11zM126.84 174.47h4.11v4.45h-4.11zM204.91 214.51h4.11v4.45h-4.11zM155.60 223.41h4.11v4.45h-4.11zM200.80 227.86h4.11v4.45h-4.11zM192.58 241.20h4.11v4.45h-4.11zM188.47 245.65h4.11v4.45h-4.11zM188.47 250.10h4.11v4.45h-4.11zM172.04 254.55h4.11v4.45h-4.11zM184.36 254.55h4.11v4.45h-4.11z"/>
<path fill="#fec537" d="M147.38 143.32h4.11v4.45h-4.11zM139.16 147.77h4.11v4.45h-4.11zM135.05 152.22h4.11v4.45h-4.11zM130.95 174.47h4.11v4.45h-4.11zM200.80 210.06h4.11v4.45h-4.11zM155.60 218.96h4.11v4.45h-4.11zM159.71 223.41h4.11v4.45h-4.11zM192.58 227.86h4.11v4.45h-4.11zM176.15 241.20h4.11v4.45h-4.11z"/>
<path fill="#feca33" d="M151.49 143.32h4.11v4.45h-4.11zM143.27 196.71h4.11v4.45h-4.11zM200.80 201.16h4.11v4.45h-4.11zM151.49 210.06h4.11v4.45h-4.11zM196.69 214.51h4.11v4.45h-4.11zM192.58 223.41h4.11v4.45h-4.11z"/>
<path fill="#fdcd31" d="M155.60 143.32h4.11v4.45h-4.11zM139.16 152.22h4.11v4.45h-4.11zM200.80 174.47h4.11v4.45h-4.11zM200.80 178.92h4.11v4.45h-4.11zM200.80 183.37h4.11v4.45h-4.11zM139.16 187.81h4.11v4.45h-4.11zM200.80 187.81h4.11v4.45h-4.11zM200.80 192.26h4.11v4.45h-4.11zM147.38 201.16h4.11v4.45h-4.11zM196.69 210.06h4.11v4.45h-4.11zM155.60 214.51h4.11v4.45h-4.11zM192.58 218.96h4.11v4.45h-4.11zM184.36 227.86h4.11v4.45h-4.11zM176.15 232.31h4.11v4.45h-4.11z"/>
<path fill="#fcd030" d="M159.71 143.32h4.11v4.45h-4.11zM147.38 147.77h4.11v4.45h-4.11zM135.05 165.57h4.11v4.45h-4.11zM135.05 170.02h4.11v4.45h-4.11zM143.27 192.26h4.11v4.45h-4.11zM151.49 205.61h4.11v4.45h-4.11zM196.69 205.61h4.11v4.45h-4.11zM180.25 227.86h4.11v4.45h-4.11z"/>
<path fill="#fbd22f" d="M163.82 143.32h4.11v4.45h-4.11zM167.93 143.32h4.11v4.45h-4.11zM172.04 143.32h4.11v4.45h-4.11zM192.58 152.22h4.11v4.45h-4.11zM139.16 183.37h4.11v4.45h-4.11zM147.38 196.71h4.11v4.45h-4.11zM196.69 201.16h4.11v4.45h-4.11zM192.58 214.51h4.11v4.45h-4.11zM172.04 227.86h4.11v4.45h-4.11zM176.15 227.86h4.11v4.45h-4.11z"/>
<path fill="#fdce31" d="M176.15 143.32h4.11v4.45h-4.11zM188.47 147.77h4.11v4.45h-4.11zM196.69 156.67h4.11v4.45h-4.11zM135.05 161.12h4.11v4.45h-4.11zM135.05 174.47h4.11v4.45h-4.11zM159.71 218.96h4.11v4.45h-4.11zM163.82 223.41h4.11v4.45h-4.11zM188.47 223.41h4.11v4.45h-4.11zM167.93 227.86h4.11v4.45h-4.11z"/>
<path fill="#fdcb32" d="M180.25 143.32h4.11v4.45h-4.11zM143.27 147.77h4.11v4.45h-4.11zM135.05 156.67h4.11v4.45h-4.11zM200.80 165.57h4.11v4.45h-4.11zM200.80 170.02h4.11v4.45h-4.11zM135.05 178.92h4.11v4.45h-4.11zM200.80 196.71h4.11v4.45h-4.11zM172.04 232.31h4.11v4.45h-4.11zM180.25 232.31h4.11v4.45h-4.11z"/>
<path fill="#fec834" d="M184.36 143.32h4.11v4.45h-4.11zM196.69 152.22h4.11v4.45h-4.11zM200.80 161.12h4.11v4.45h-4.11zM130.95 165.57h4.11v4.45h-4.11zM135.05 183.37h4.11v4.45h-4.11zM200.80 205.61h4.11v4.45h-4.11zM188.47 227.86h4.11v4.45h-4.11zM167.93 232.31h4.11v4.45h-4.11zM176.15 236.75h4.11v4.45h-4.11z"/>
<path fill="#fcbc3e" d="M192.58 143.32h4.11v4.45h-4.11zM204.91 156.67h4.11v4.45h-4.11zM209.02 183.37h4.11v4.45h-4.11zM209.02 187.81h4.11v4.45h-4.11zM209.02 192.26h4.11v4.45h-4.11zM209.02 196.71h4.11v4.45h-4.11zM139.16 201.16h4.11v4.45h-4.11zM151.49 218.96h4.11v4.45h-4.11zM204.91 218.96h4.11v4.45h-4.11zM200.80 232.31h4.11v4.45h-4.11zM196.69 236.75h4.11v4.45h-4.11zM192.58 245.65h4.11v4.45h-4.11z"/>
<path fill="#a7c73b" d="M114.51 147.77h4.11v4.45h-4.11zM221.35 147.77h4.11v4.45h-4.11zM225.45 152.22h4.11v4.45h-4.11zM110.40 156.67h4.11v4.45h-4.11zM229.56 161.12h4.11v4.45h-4.11zM122.73 196.71h4.11v4.45h-4.11zM126.84 205.61h4.11v4.45h-4.11zM151.49 241.20h4.11v4.45h-4.11zM155.60 250.10h4.11v4.45h-4.11zM229.56 254.55h4.11v4.45h-4.11z"/>
<path fill="#fad52e" d="M151.49 147.77h4.11v4.45h-4.11zM184.36 147.77h4.11v4.45h-4.11zM139.16 178.92h4.11v4.45h-4.11zM196.69 192.26h4.11v4.45h-4.11zM151.49 201.16h4.11v4.45h-4.11zM192.58 210.06h4.11v4.45h-4.11zM159.71 214.51h4.11v4.45h-4.11zM167.93 223.41h4.11v4.45h-4.11z"/>
<path fill="#f9d82c" d="M155.60 147.77h4.11v4.45h-4.11zM192.58 156.67h4.11v4.45h-4.11zM139.16 165.57h4.11v4.45h-4.11zM139.16 174.47h4.11v4.45h-4.11zM147.38 192.26h4.11v4.45h-4.11zM155.60 205.61h4.11v4.45h-4.11zM188.47 214.51h4.11v4.45h-4.11zM184.36 218.96h4.11v4.45h-4.11zM172.04 223.41h4.11v4.45h-4.11zM176.15 223.41h4.11v4.45h-4.11z"/>
<path fill="#f7db2a" d="M159.71 147.77h4.11v4.45h-4.11zM176.15 147.77h4.11v4.45h-4.11zM192.58 196.71h4.11v4.45h-4.11zM159.71 210.06h4.11v4.45h-4.11zM188.47 210.06h4.11v4.45h-4.11zM167.93 218.96h4.11v4.45h-4.11zM180.25 218.96h4.11v4.45h-4.11z"/>
<path fill="#f7dd2a" d="M163.82 147.77h4.11v4.45h-4.11zM172.04 147.77h4.11v4.45h-4.11zM192.58 161.12h4.11v4.45h-4.11zM147.38 187.81h4.11v4.45h-4.11zM192.58 192.26h4.11v4.45h-4.11zM155.60 201.16h4.11v4.45h-4.11zM163.82 214.51h4.11v4.45h-4.11zM184.36 214.51h4.11v4.45h-4.11z"/>
<path fill="#f6de29" d="M167.93 147.77h4.11v4.45h-4.11zM151.49 152.22h4.11v4.45h-4.11zM143.27 161.12h4.11v4.45h-4.11zM143.27 178.92h4.11v4.45h-4.11zM192.58 187.81h4.11v4.45h-4.11zM188.47 205.61h4.11v4.45h-4.11zM172.04 218.96h4.11v4.45h-4.11zM176.15 218.96h4.11v4.45h-4.11z"/>
<path fill="#f8d92b" d="M180.25 147.77h4.11v4.45h-4.11zM147.38 152.22h4.11v4.45h-4.11zM188.47 152.22h4.11v4.45h-4.11zM143.27 156.67h4.11v4.45h-4.11zM139.16 170.02h4.11v4.45h-4.11zM143.27 183.37h4.11v4.45h-4.11zM151.49 196.71h4.11v4.45h-4.11zM192.58 201.16h4.11v4.45h-4.11z"/>
<path fill="#fec735" d="M192.58 147.77h4.11v4.45h-4.11zM130.95 161.12h4.11v4.45h-4.11zM130.95 170.02h4.11v4.45h-4.11zM139.16 192.26h4.11v4.45h-4.11zM147.38 205.61h4.11v4.45h-4.11zM196.69 218.96h4.11v4.45h-4.11zM163.82 227.86h4.11v4.45h-4.11zM184.36 232.31h4.11v4.45h-4.11zM172.04 236.75h4.11v4.45h-4.11zM180.25 236.75h4.11v4.45h-4.11z"/>
<path fill="#9ac946" d="M110.40 152.22h4.11v4.45h-4.11zM233.67 170.02h4.11v4.45h-4.11zM135.05 223.41h4.11v4.45h-4.11zM233.67 250.10h4.11v4.45h-4.11zM155.60 254.55h4.11v4.45h-4.11z"/>
<path fill="#d3bf27" d="M118.62 152.22h4.11v4.45h-4.11zM114.51 165.57h4.11v4.45h-4.11zM221.35 170.02h4.11v4.45h-4.11zM221.35 174.47h4.11v4.45h-4.11zM221.35 178.92h4.11v4.45h-4.11zM135.05 210.06h4.11v4.45h-4.11zM221.35 241.20h4.11v4.45h-4.11z"/>
<path fill="#fbd32e" d="M143.27 152.22h4.11v4.45h-4.11zM139.16 156.67h4.11v4.45h-4.11zM196.69 161.12h4.11v4.45h-4.11zM196.69 196.71h4.11v4.45h-4.11zM155.60 210.06h4.11v4.45h-4.11zM188.47 218.96h4.11v4.45h-4.11zM184.36 223.41h4.11v4.45h-4.11z"/>
<path fill="#f5e128" d="M155.60 152.22h4.11v4.45h-4.11zM188.47 156.67h4.11v4.45h-4.11zM143.27 170.02h4.11v4.45h-4.11zM192.58 170.02h4.11v4.45h-4.11zM192.58 174.47h4.11v4.45h-4.11zM192.58 178.92h4.11v4.45h-4.11zM155.60 196.71h4.11v4.45h-4.11zM188.47 196.71h4.11v4.45h-4.11zM163.82 210.06h4.11v4.45h-4.11zM167.93 214.51h4.11v4.45h-4.11zM180.25 214.51h4.11v4.45h-4.11z"/>
<path fill="#f5e526" d="M159.71 152.22h4.11v4.45h-4.11zM151.49 156.67h4.11v4.45h-4.11zM147.38 161.12h4.11v4.45h-4.11zM151.49 187.81h4.11v4.45h-4.11zM188.47 192.26h4.11v4.45h-4.11zM163.82 205.61h4.11v4.45h-4.11zM167.93 210.06h4.11v4.45h-4.11zM180.25 210.06h4.11v4.45h-4.11z"/>
<path fill="#f5e626" d="M163.82 152.22h4.11v4.45h-4.11zM176.15 152.22h4.11v4.45h-4.11zM188.47 161.12h4.11v4.45h-4.11zM147.38 178.92h4.11v4.45h-4.11zM188.47 187.81h4.11v4.45h-4.11zM155.60 192.26h4.11v4.45h-4.11zM184.36 201.16h4.11v4.45h-4.11zM176.15 210.06h4.11v4.45h-4.11z"/>
<path fill="#f5e825" d="M167.93 152.22h4.11v4.45h-4.11zM172.04 152.22h4.11v4.45h-4.11zM184.36 156.67h4.11v4.45h-4.11zM147.38 165.57h4.11v4.45h-4.11zM147.38 174.47h4.11v4.45h-4.11zM188.47 183.37h4.11v4.45h-4.11zM159.71 196.71h4.11v4.45h-4.11zM184.36 196.71h4.11v4.45h-4.11zM180.25 205.61h4.11v4.45h-4.11zM172.04 210.06h4.11v4.45h-4.11z"/>
<path fill="#f5e327" d="M180.25 152.22h4.11v4.45h-4.11zM147.38 183.37h4.11v4.45h-4.11zM159.71 201.16h4.11v4.45h-4.11zM184.36 205.61h4.11v4.45h-4.11zM172.04 214.51h4.11v4.45h-4.11zM176.15 214.51h4.11v4.45h-4.11z"/>
<path fill="#f6e028" d="M184.36 152.22h4.11v4.45h-4.11zM147.38 156.67h4.11v4.45h-4.11zM143.27 165.57h4.11v4.45h-4.11zM192.58 165.57h4.11v4.45h-4.11zM143.27 174.47h4.11v4.45h-4.11zM192.58 183.37h4.11v4.45h-4.11zM151.49 192.26h4.11v4.45h-4.11zM188.47 201.16h4.11v4.45h-4.11zM159.71 205.61h4.11v4.45h-4.11zM184.36 210.06h4.11v4.45h-4.11z"/>
<path fill="#efba35" d="M122.73 156.67h4.11v4.45h-4.11zM213.13 170.02h4.11v4.45h-4.11zM213.13 174.47h4.11v4.45h-4.11zM213.13 178.92h4.11v4.45h-4.11zM135.05 201.16h4.11v4.45h-4.11zM213.13 205.61h4.11v4.45h-4.11zM147.38 218.96h4.11v4.45h-4.11zM209.02 241.20h4.11v4.45h-4.11zM204.91 254.55h4.11v4.45h-4.11z"/>
<path fill="#f5e924" d="M155.60 156.67h4.11v4.45h-4.11zM188.47 165.57h4.11v4.45h-4.11zM147.38 170.02h4.11v4.45h-4.11zM188.47 170.02h4.11v4.45h-4.11zM188.47 178.92h4.11v4.45h-4.11zM151.49 183.37h4.11v4.45h-4.11zM163.82 201.16h4.11v4.45h-4.11zM180.25 201.16h4.11v4.45h-4.11zM167.93 205.61h4.11v4.45h-4.11zM176.15 205.61h4.11v4.45h-4.11z"/>
<path fill="#f5ec22" d="M159.71 156.67h4.11v4.45h-4.11zM184.36 161.12h4.11v4.45h-4.11zM151.49 178.92h4.11v4.45h-4.11zM184.36 187.81h4.11v4.45h-4.11zM163.82 196.71h4.11v4.45h-4.11zM180.25 196.71h4.11v4.45h-4.11zM167.93 201.16h4.11v4.45h-4.11zM172.04 201.16h4.11v4.45h-4.11zM176.15 201.16h4.11v4.45h-4.11z"/>
<path fill="#f5ee21" d="M163.82 156.67h4.11v4.45h-4.11zM176.15 156.67h4.11v4.45h-4.11zM155.60 161.12h4.11v4.45h-4.11zM151.49 165.57h4.11v4.45h-4.11zM184.36 183.37h4.11v4.45h-4.11z"/>
<path fill="#f6ef20" d="M167.93 156.67h4.11v4.45h-4.11zM172.04 156.67h4.11v4.45h-4.11zM184.36 165.57h4.11v4.45h-4.11zM151.49 170.02h4.11v4.45h-4.11zM151.49 174.47h4.11v4.45h-4.11zM184.36 178.92h4.11v4.45h-4.11zM155.60 183.37h4.11v4.45h-4.11zM159.71 187.81h4.11v4.45h-4.11zM163.82 192.26h4.11v4.45h-4.11zM180.25 192.26h4.11v4.45h-4.11zM167.93 196.71h4.11v4.45h-4.11zM172.04 196.71h4.11v4.45h-4.11zM176.15 196.71h4.11v4.45h-4.11z"/>
<path fill="#f5eb23" d="M180.25 156.67h4.11v4.45h-4.11zM151.49 161.12h4.11v4.45h-4.11zM188.47 174.47h4.11v4.45h-4.11zM155.60 187.81h4.11v4.45h-4.11zM159.71 192.26h4.11v4.45h-4.11zM184.36 192.26h4.11v4.45h-4.11zM172.04 205.61h4.11v4.45h-4.11z"/>
<path fill="#f9d62d" d="M139.16 161.12h4.11v4.45h-4.11zM196.69 165.57h4.11v4.45h-4.11zM196.69 170.02h4.11v4.45h-4.11zM196.69 174.47h4.11v4.45h-4.11zM196.69 178.92h4.11v4.45h-4.11zM196.69 183.37h4.11v4.45h-4.11zM143.27 187.81h4.11v4.45h-4.11zM196.69 187.81h4.11v4.45h-4.11zM192.58 205.61h4.11v4.45h-4.11zM163.82 218.96h4.11v4.45h-4.11zM180.25 223.41h4.11v4.45h-4.11z"/>
<path fill="#f6f21e" d="M159.71 161.12h4.11v4.45h-4.11zM155.60 165.57h4.11v4.45h-4.11zM155.60 178.92h4.11v4.45h-4.11zM167.93 192.26h4.11v4.45h-4.11zM172.04 192.26h4.11v4.45h-4.11z"/>
<path fill="#f7f41c" d="M163.82 161.12h4.11v4.45h-4.11zM176.15 161.12h4.11v4.45h-4.11zM180.25 165.57h4.11v4.45h-4.11zM155.60 170.02h4.11v4.45h-4.11zM155.60 174.47h4.11v4.45h-4.11zM159.71 183.37h4.11v4.45h-4.11zM180.25 183.37h4.11v4.45h-4.11zM163.82 187.81h4.11v4.45h-4.11zM176.15 187.81h4.11v4.45h-4.11z"/>
<path fill="#f7f51b" d="M167.93 161.12h4.11v4.45h-4.11zM172.04 161.12h4.11v4.45h-4.11zM159.71 165.57h4.11v4.45h-4.11zM180.25 170.02h4.11v4.45h-4.11zM180.25 174.47h4.11v4.45h-4.11zM159.71 178.92h4.11v4.45h-4.11zM180.25 178.92h4.11v4.45h-4.11zM167.93 187.81h4.11v4.45h-4.11zM172.04 187.81h4.11v4.45h-4.11z"/>
<path fill="#f6f11f" d="M180.25 161.12h4.11v4.45h-4.11zM184.36 170.02h4.11v4.45h-4.11zM184.36 174.47h4.11v4.45h-4.11zM180.25 187.81h4.11v4.45h-4.11zM176.15 192.26h4.11v4.45h-4.11z"/>
<path fill="#f8f818" d="M163.82 165.57h4.11v4.45h-4.11zM167.93 165.57h4.11v4.45h-4.11zM172.04 165.57h4.11v4.45h-4.11zM176.15 170.02h4.11v4.45h-4.11zM163.82 178.92h4.11v4.45h-4.11zM176.15 178.92h4.11v4.45h-4.11zM167.93 183.37h4.11v4.45h-4.11zM172.04 183.37h4.11v4.45h-4.11z"/>
<path fill="#f8f71a" d="M176.15 165.57h4.11v4.45h-4.11zM159.71 170.02h4.11v4.45h-4.11zM159.71 174.47h4.11v4.45h-4.11zM163.82 183.37h4.11v4.45h-4.11zM176.15 183.37h4.11v4.45h-4.11z"/>
<path fill="#f9ba3e" d="M209.02 165.57h4.11v4.45h-4.11zM209.02 170.02h4.11v4.45h-4.11zM209.02 174.47h4.11v4.45h-4.11zM126.84 178.92h4.11v4.45h-4.11zM130.95 187.81h4.11v4.45h-4.11zM135.05 196.71h4.11v4.45h-4.11zM209.02 205.61h4.11v4.45h-4.11zM204.91 227.86h4.11v4.45h-4.11zM204.91 232.31h4.11v4.45h-4.11zM200.80 241.20h4.11v4.45h-4.11zM196.69 245.65h4.11v4.45h-4.11zM167.93 250.10h4.11v4.45h-4.11zM192.58 254.55h4.11v4.45h-4.11z"/>
<path fill="#f9f916" d="M163.82 170.02h4.11v4.45h-4.11zM163.82 174.47h4.11v4.45h-4.11zM176.15 174.47h4.11v4.45h-4.11zM167.93 178.92h4.11v4.45h-4.11zM172.04 178.92h4.11v4.45h-4.11z"/>
<path fill="#f9fb15" d="M167.93 170.02h4.11v4.45h-4.11zM172.04 170.02h4.11v4.45h-4.11zM167.93 174.47h4.11v4.45h-4.11zM172.04 174.47h4.11v4.45h-4.11z"/>
</g>
<path d="M20.00 14.30V259.00M24.11 14.30V259.00M28.22 14.30V259.00M32.33 14.30V259.00M36.44 14.30V259.00M40.55 14.30V259.00M44.65 14.30V259.00M48.76 14.30V259.00M52.87 14.30V259.00M56.98 14.30V259.00M61.09 14.30V259.00M65.20 14.30V259.00M69.31 14.30V259.00M73.42 14.30V259.00M77.53 14.30V259.00M81.64 14.30V259.00M85.75 14.30V259.00M89.85 14.30V259.00M93.96 14.30V259.00M98.07 14.30V259.00M102.18 14.30V259.00M106.29 14.30V259.00M110.40 14.30V259.00M114.51 14.30V259.00M118.62 14.30V259.00M122.73 14.30V259.00M126.84 14.30V259.00M130.95 14.30V259.00M135.05 14.30V259.00M139.16 14.30V259.00M143.27 14.30V259.00M147.38 14.30V259.00M151.49 14.30V259.00M155.60 14.30V259.00M159.71 14.30V259.00M163.82 14.30V259.00M167.93 14.30V259.00M172.04 14.30V259.00M176.15 14.30V259.00M180.25 14.30V259.00M184.36 14.30V259.00M188.47 14.30V259.00M192.58 14.30V259.00M196.69 14.30V259.00M200.80 14.30V259.00M204.91 14.30V259.00M209.02 14.30V259.00M213.13 14.30V259.00M217.24 14.30V259.00M221.35 14.30V259.00M225.45 14.30V259.00M229.56 14.30V259.00M233.67 14.30V259.00M237.78 14.30V259.00M241.89 14.30V259.00M246.00 14.30V259.00M20.00 14.30H246.00M20.00 18.75H246.00M20.00 23.20H246.00M20.00 27.65H246.00M20.00 32.10H246.00M20.00 36.55H246.00M20.00 40.99H246.00M20.00 45.44H246.00M20.00 49.89H246.00M20.00 54.34H246.00M20.00 58.79H246.00M20.00 63.24H246.00M20.00 67.69H246.00M20.00 72.14H246.00M20.00 76.59H246.00M20.00 81.04H246.00M20.00 85.49H246.00M20.00 89.93H246.00M20.00 94.38H246.00M20.00 98.83H246.00M20.00 103.28H246.00M20.00 107.73H246.00M20.00 112.18H246.00M20.00 116.63H246.00M20.00 121.08H246.00M20.00 125.53H246.00M20.00 129.98H246.00M20.00 134.43H246.00M20.00 138.87H246.00M20.00 143.32H246.00M20.00 147.77H246.00M20.00 152.22H246.00M20.00 156.67H246.00M20.00 161.12H246.00M20.00 165.57H246.00M20.00 170.02H246.00M20.00 174.47H246.00M20.00 178.92H246.00M20.00 183.37H246.00M20.00 187.81H246.00M20.00 192.26H246.00M20.00 196.71H246.00M20.00 201.16H246.00M20.00 205.61H246.00M20.00 210.06H246.00M20.00 214.51H246.00M20.00 218.96H246.00M20.00 223.41H246.00M20.00 227.86H246.00M20.00 232.31H246.00M20.00 236.75H246.00M20.00 241.20H246.00M20.00 245.65H246.00M20.00 250.10H246.00M20.00 254.55H246.00M20.00 259.00H246.00" stroke="#000" stroke-opacity="0.180" stroke-width="1.00" fill="none"/>
<g shape-rendering="crispEdges">
<path fill="#f5e924" d="M315.00 14.30h4.11v4.45h-4.11zM315.00 18.75h4.11v4.45h-4.11zM315.00 23.20h4.11v4.45h-4.11zM315.00 27.65h4.11v4.45h-4.11zM315.00 32.10h4.11v4.45h-4.11zM388.96 32.10h4.11v4.45h-4.11zM319.11 40.99h4.11v4.45h-4.11zM323.22 45.44h4.11v4.45h-4.11zM323.22 49.89h4.11v4.45h-4.11zM327.33 54.34h4.11v4.45h-4.11zM393.07 54.34h4.11v4.45h-4.11zM327.33 58.79h4.11v4.45h-4.11zM393.07 58.79h4.11v4.45h-4.11zM327.33 63.24h4.11v4.45h-4.11zM393.07 63.24h4.11v4.45h-4.11zM331.44 67.69h4.11v4.45h-4.11zM393.07 67.69h4.11v4.45h-4.11zM335.55 76.59h4.11v4.45h-4.11zM339.65 81.04h4.11v4.45h-4.11zM397.18 89.93h4.11v4.45h-4.11zM347.87 94.38h4.11v4.45h-4.11zM397.18 94.38h4.11v4.45h-4.11zM351.98 103.28h4.11v4.45h-4.11zM360.20 116.63h4.11v4.45h-4.11zM401.29 121.08h4.11v4.45h-4.11zM364.31 125.53h4.11v4.45h-4.11zM405.40 129.98h4.11v4.45h-4.11zM405.40 134.43h4.11v4.45h-4.11zM409.51 143.32h4.11v4.45h-4.11zM409.51 147.77h4.11v4.45h-4.11zM405.40 152.22h4.11v4.45h-4.11zM409.51 156.67h4.11v4.45h-4.11zM413.62 161.12h4.11v4.45h-4.11zM380.75 183.37h4.11v4.45h-4.11zM413.62 192.26h4.11v4.45h-4.11zM384.85 205.61h4.11v4.45h-4.11zM409.51 250.10h4.11v4.45h-4.11z"/>
<path fill="#f5eb23" d="M319.11 14.30h4.11v4.45h-4.11zM384.85 14.30h4.11v4.45h-4.11zM319.11 18.75h4.11v4.45h-4.11zM319.11 23.20h4.11v4.45h-4.11zM319.11 27.65h4.11v4.45h-4.11zM319.11 32.10h4.11v4.45h-4.11zM319.11 36.55h4.11v4.45h-4.11zM388.96 36.55h4.11v4.45h-4.11zM323.22 40.99h4.11v4.45h-4.11zM388.96 40.99h4.11v4.45h-4.11zM327.33 49.89h4.11v4.45h-4.11zM331.44 58.79h4.11v4.45h-4.11zM331.44 63.24h4.11v4.45h-4.11zM335.55 72.14h4.11v4.45h-4.11zM393.07 72.14h4.11v4.45h-4.11zM343.76 85.49h4.11v4.45h-4.11zM347.87 89.93h4.11v4.45h-4.11zM351.98 98.83h4.11v4.45h-4.11zM397.18 98.83h4.11v4.45h-4.11zM397.18 103.28h4.11v4.45h-4.11zM356.09 107.73h4.11v4.45h-4.11zM364.31 121.08h4.11v4.45h-4.11zM401.29 125.53h4.11v4.45h-4.11zM405.40 138.87h4.11v4.45h-4.11zM405.40 143.32h4.11v4.45h-4.11zM405.40 147.77h4.11v4.45h-4.11zM368.42 152.22h4.11v4.45h-4.11zM405.40 156.67h4.11v4.45h-4.11zM413.62 165.57h4.11v4.45h-4.11zM376.64 170.02h4.11v4.45h-4.11zM413.62 183.37h4.11v4.45h-4.11zM413.62 187.81h4.11v4.45h-4.11zM384.85 201.16h4.11v4.45h-4.11zM388.96 214.51h4.11v4.45h-4.11zM388.96 218.96h4.11v4.45h-4.11zM409.51 218.96h4.11v4.45h-4.11zM409.51 223.41h4.11v4.45h-4.11zM409.51 227.86h4.11v4.45h-4.11zM409.51 232.31h4.11v4.45h-4.11zM409.51 245.65h4.11v4.45h-4.11z"/>
<path fill="#f5ec22" d="M323.22 14.30h4.11v4.45h-4.11zM323.22 18.75h4.11v4.45h-4.11zM384.85 18.75h4.11v4.45h-4.11zM323.22 23.20h4.11v4.45h-4.11zM384.85 23.20h4.11v4.45h-4.11zM323.22 27.65h4.11v4.45h-4.11zM323.22 32.10h4.11v4.45h-4.11zM323.22 36.55h4.11v4.45h-4.11zM327.33 40.99h4.11v4.45h-4.11zM327.33 45.44h4.11v4.45h-4.11zM388.96 45.44h4.11v4.45h-4.11zM331.44 49.89h4.11v4.45h-4.11zM331.44 54.34h4.11v4.45h-4.11zM335.55 67.69h4.11v4.45h-4.11zM339.65 76.59h4.11v4.45h-4.11zM393.07 76.59h4.11v4.45h-4.11zM343.76 81.04h4.11v4.45h-4.11zM393.07 81.04h4.11v4.45h-4.11zM351.98 94.38h4.11v4.45h-4.11zM356.09 103.28h4.11v4.45h-4.11zM397.18 107.73h4.11v4.45h-4.11zM360.20 112.18h4.11v4.45h-4.11zM397.18 112.18h4.11v4.45h-4.11zM401.29 129.98h4.11v4.45h-4.11zM368.42 143.32h4.11v4.45h-4.11zM368.42 147.77h4.11v4.45h-4.11zM401.29 152.22h4.11v4.45h-4.11zM372.53 161.12h4.11v4.45h-4.11zM409.51 161.12h4.11v4.45h-4.11zM413.62 170.02h4.11v4.45h-4.11zM413.62 174.47h4.11v4.45h-4.11zM380.75 178.92h4.11v4.45h-4.11zM413.62 178.92h4.11v4.45h-4.11zM384.85 196.71h4.11v4.45h-4.11zM409.51 214.51h4.11v4.45h-4.11zM388.96 223.41h4.11v4.45h-4.11zM409.51 236.75h4.11v4.45h-4.11zM409.51 241.20h4.11v4.45h-4.11zM388.96 250.10h4.11v4.45h-4.11z"/>
<path fill="#f5ee21" d="M327.33 14.30h4.11v4.45h-4.11zM380.75 14.30h4.11v4.45h-4.11zM327.33 18.75h4.11v4.45h-4.11zM327.33 23.20h4.11v4.45h-4.11zM327.33 27.65h4.11v4.45h-4.11zM384.85 27.65h4.11v4.45h-4.11zM327.33 32.10h4.11v4.45h-4.11zM384.85 32.10h4.11v4.45h-4.11zM327.33 36.55h4.11v4.45h-4.11zM331.44 40.99h4.11v4.45h-4.11zM331.44 45.44h4.11v4.45h-4.11zM388.96 49.89h4.11v4.45h-4.11zM335.55 54.34h4.11v4.45h-4.11zM335.55 58.79h4.11v4.45h-4.11zM335.55 63.24h4.11v4.45h-4.11zM339.65 72.14h4.11v4.45h-4.11zM343.76 76.59h4.11v4.45h-4.11zM347.87 85.49h4.11v4.45h-4.11zM393.07 85.49h4.11v4.45h-4.11zM351.98 89.93h4.11v4.45h-4.11zM356.09 98.83h4.11v4.45h-4.11zM360.20 107.73h4.11v4.45h-4.11zM364.31 116.63h4.11v4.45h-4.11zM397.18 116.63h4.11v4.45h-4.11zM368.42 134.43h4.11v4.45h-4.11zM401.29 134.43h4.11v4.45h-4.11zM368.42 138.87h4.11v4.45h-4.11zM401.29 138.87h4.11v4.45h-4.11zM401.29 143.32h4.11v4.45h-4.11zM401.29 147.77h4.11v4.45h-4.11zM401.29 156.67h4.11v4.45h-4.11zM405.40 161.12h4.11v4.45h-4.11zM380.75 174.47h4.11v4.45h-4.11zM384.85 192.26h4.11v4.45h-4.11zM388.96 210.06h4.11v4.45h-4.11zM409.51 210.06h4.11v4.45h-4.11zM388.96 227.86h4.11v4.45h-4.11z"/>
<path fill="#f6ef20" d="M331.44 14.30h4.11v4.45h-4.11zM380.75 18.75h4.11v4.45h-4.11zM331.44 27.65h4.11v4.45h-4.11zM331.44 32.10h4.11v4.45h-4.11zM331.44 36.55h4.11v4.45h-4.11zM384.85 36.55h4.11v4.45h-4.11zM335.55 45.44h4.11v4.45h-4.11zM335.55 49.89h4.11v4.45h-4.11zM388.96 54.34h4.11v4.45h-4.11zM388.96 58.79h4.11v4.45h-4.11zM339.65 63.24h4.11v4.45h-4.11zM388.96 63.24h4.11v4.45h-4.11zM339.65 67.69h4.11v4.45h-4.11zM388.96 67.69h4.11v4.45h-4.11zM347.87 81.04h4.11v4.45h-4.11zM393.07 89.93h4.11v4.45h-4.11zM356.09 94.38h4.11v4.45h-4.11zM364.31 112.18h4.11v4.45h-4.11zM397.18 121.08h4.11v4.45h-4.11zM368.42 125.53h4.11v4.45h-4.11zM397.18 125.53h4.11v4.45h-4.11zM368.42 129.98h4.11v4.45h-4.11zM372.53 156.67h4.11v4.45h-4.11zM376.64 165.57h4.11v4.45h-4.11zM409.51 165.57h4.11v4.45h-4.11zM384.85 187.81h4.11v4.45h-4.11zM388.96 205.61h4.11v4.45h-4.11zM409.51 205.61h4.11v4.45h-4.11zM393.07 218.96h4.11v4.45h-4.11zM388.96 232.31h4.11v4.45h-4.11zM388.96 245.65h4.11v4.45h-4.11zM393.07 254.55h4.11v4.45h-4.11zM405.40 254.55h4.11v4.45h-4.11z"/>
<path fill="#f6f11f" d="M335.55 14.30h4.11v4.45h-4.11zM376.64 14.30h4.11v4.45h-4.11zM331.44 18.75h4.11v4.45h-4.11zM335.55 18.75h4.11v4.45h-4.11zM331.44 23.20h4.11v4.45h-4.11zM380.75 23.20h4.11v4.45h-4.11zM380.75 27.65h4.11v4.45h-4.11zM335.55 32.10h4.11v4.45h-4.11zM335.55 36.55h4.11v4.45h-4.11zM335.55 40.99h4.11v4.45h-4.11zM384.85 40.99h4.11v4.45h-4.11zM384.85 45.44h4.11v4.45h-4.11zM339.65 49.89h4.11v4.45h-4.11zM339.65 54.34h4.11v4.45h-4.11zM339.65 58.79h4.11v4.45h-4.11zM343.76 67.69h4.11v4.45h-4.11zM343.76 72.14h4.11v4.45h-4.11zM388.96 72.14h4.11v4.45h-4.11zM347.87 76.59h4.11v4.45h-4.11zM351.98 85.49h4.11v4.45h-4.11zM356.09 89.93h4.11v4.45h-4.11zM393.07 94.38h4.11v4.45h-4.11zM360.20 98.83h4.11v4.45h-4.11zM393.07 98.83h4.11v4.45h-4.11zM360.20 103.28h4.11v4.45h-4.11zM368.42 121.08h4.11v4.45h-4.11zM397.18 129.98h4.11v4.45h-4.11zM397.18 134.43h4.11v4.45h-4.11zM397.18 138.87h4.11v4.45h-4.11zM397.18 143.32h4.11v4.45h-4.11zM397.18 147.77h4.11v4.45h-4.11zM397.18 152.22h4.11v4.45h-4.11zM401.29 161.12h4.11v4.45h-4.11zM380.75 170.02h4.11v4.45h-4.11zM384.85 183.37h4.11v4.45h-4.11zM388.96 201.16h4.11v4.45h-4.11zM409.51 201.16h4.11v4.45h-4.11zM393.07 214.51h4.11v4.45h-4.11zM393.07 223.41h4.11v4.45h-4.11zM388.96 236.75h4.11v4.45h-4.11zM388.96 241.20h4.11v4.45h-4.11z"/>
<path fill="#f6f21e" d="M339.65 14.30h4.11v4.45h-4.11zM339.65 18.75h4.11v4.45h-4.11zM376.64 18.75h4.11v4.45h-4.11zM335.55 23.20h4.11v4.45h-4.11zM335.55 27.65h4.11v4.45h-4.11zM380.75 32.10h4.11v4.45h-4.11zM380.75 36.55h4.11v4.45h-4.11zM339.65 40.99h4.11v4.45h-4.11zM339.65 45.44h4.11v4.45h-4.11zM384.85 49.89h4.11v4.45h-4.11zM343.76 63.24h4.11v4.45h-4.11zM347.87 72.14h4.11v4.45h-4.11zM388.96 76.59h4.11v4.45h-4.11zM351.98 81.04h4.11v4.45h-4.11zM388.96 81.04h4.11v4.45h-4.11zM356.09 85.49h4.11v4.45h-4.11zM360.20 94.38h4.11v4.45h-4.11zM393.07 103.28h4.11v4.45h-4.11zM364.31 107.73h4.11v4.45h-4.11zM393.07 107.73h4.11v4.45h-4.11zM393.07 112.18h4.11v4.45h-4.11zM368.42 116.63h4.11v4.45h-4.11zM393.07 116.63h4.11v4.45h-4.11zM372.53 143.32h4.11v4.45h-4.11zM372.53 147.77h4.11v4.45h-4.11zM372.53 152.22h4.11v4.45h-4.11zM397.18 156.67h4.11v4.45h-4.11zM376.64 161.12h4.11v4.45h-4.11zM405.40 165.57h4.11v4.45h-4.11zM409.51 170.02h4.11v4.45h-4.11zM409.51 174.47h4.11v4.45h-4.11zM384.85 178.92h4.11v4.45h-4.11zM388.96 196.71h4.11v4.45h-4.11zM409.51 196.71h4.11v4.45h-4.11zM393.07 210.06h4.11v4.45h-4.11zM405.40 214.51h4.11v4.45h-4.11zM405.40 218.96h4.11v4.45h-4.11zM405.40 223.41h4.11v4.45h-4.11zM393.07 227.86h4.11v4.45h-4.11zM405.40 227.86h4.11v4.45h-4.11zM393.07 250.10h4.11v4.45h-4.11zM405.40 250.10h4.11v4.45h-4.11zM397.18 254.55h4.11v4.45h-4.11z"/>
<path fill="#f7f41c" d="M343.76 14.30h4.11v4.45h-4.11zM347.87 14.30h4.11v4.45h-4.11zM351.98 14.30h4.11v4.45h-4.11zM372.53 14.30h4.11v4.45h-4.11zM343.76 18.75h4.11v4.45h-4.11zM372.53 18.75h4.11v4.45h-4.11zM339.65 23.20h4.11v4.45h-4.11zM343.76 23.20h4.11v4.45h-4.11zM376.64 23.20h4.11v4.45h-4.11zM339.65 27.65h4.11v4.45h-4.11zM376.64 27.65h4.11v4.45h-4.11zM339.65 32.10h4.11v4.45h-4.11zM339.65 36.55h4.11v4.45h-4.11zM380.75 40.99h4.11v4.45h-4.11zM380.75 45.44h4.11v4.45h-4.11zM343.76 49.89h4.11v4.45h-4.11zM343.76 54.34h4.11v4.45h-4.11zM384.85 54.34h4.11v4.45h-4.11zM343.76 58.79h4.11v4.45h-4.11zM384.85 58.79h4.11v4.45h-4.11zM347.87 63.24h4.11v4.45h-4.11zM384.85 63.24h4.11v4.45h-4.11zM347.87 67.69h4.11v4.45h-4.11zM384.85 67.69h4.11v4.45h-4.11zM351.98 72.14h4.11v4.45h-4.11zM351.98 76.59h4.11v4.45h-4.11zM356.09 81.04h4.11v4.45h-4.11zM360.20 85.49h4.11v4.45h-4.11zM388.96 85.49h4.11v4.45h-4.11zM360.20 89.93h4.11v4.45h-4.11zM364.31 98.83h4.11v4.45h-4.11zM364.31 103.28h4.11v4.45h-4.11zM368.42 112.18h4.11v4.45h-4.11zM393.07 121.08h4.11v4.45h-4.11zM372.53 125.53h4.11v4.45h-4.11zM393.07 125.53h4.11v4.45h-4.11zM372.53 129.98h4.11v4.45h-4.11zM393.07 129.98h4.11v4.45h-4.11zM372.53 134.43h4.11v4.45h-4.11zM393.07 134.43h4.11v4.45h-4.11zM372.53 138.87h4.11v4.45h-4.11zM393.07 138.87h4.11v4.45h-4.11zM393.07 147.77h4.11v4.45h-4.11zM393.07 152.22h4.11v4.45h-4.11zM397.18 161.12h4.11v4.45h-4.11zM380.75 165.57h4.11v4.45h-4.11zM401.29 165.57h4.11v4.45h-4.11zM384.85 170.02h4.11v4.45h-4.11zM405.40 170.02h4.11v4.45h-4.11zM384.85 174.47h4.11v4.45h-4.11zM409.51 178.92h4.11v4.45h-4.11zM409.51 183.37h4.11v4.45h-4.11zM409.51 187.81h4.11v4.45h-4.11zM388.96 192.26h4.11v4.45h-4.11zM409.51 192.26h4.11v4.45h-4.11zM393.07 205.61h4.11v4.45h-4.11zM405.40 210.06h4.11v4.45h-4.11zM397.18 214.51h4.11v4.45h-4.11zM397.18 218.96h4.11v4.45h-4.11zM401.29 218.96h4.11v4.45h-4.11zM397.18 223.41h4.11v4.45h-4.11zM393.07 232.31h4.11v4.45h-4.11zM405.40 232.31h4.11v4.45h-4.11zM405.40 236.75h4.11v4.45h-4.11zM405.40 241.20h4.11v4.45h-4.11zM405.40 245.65h4.11v4.45h-4.11zM401.29 254.55h4.11v4.45h-4.11z"/>
<path fill="#f7f51b" d="M356.09 14.30h4.11v4.45h-4.11zM360.20 14.30h4.11v4.45h-4.11zM364.31 14.30h4.11v4.45h-4.11zM368.42 14.30h4.11v4.45h-4.11zM347.87 18.75h4.11v4.45h-4.11zM351.98 18.75h4.11v4.45h-4.11zM368.42 18.75h4.11v4.45h-4.11zM347.87 23.20h4.11v4.45h-4.11zM372.53 23.20h4.11v4.45h-4.11zM343.76 27.65h4.11v4.45h-4.11zM372.53 27.65h4.11v4.45h-4.11zM343.76 32.10h4.11v4.45h-4.11zM376.64 32.10h4.11v4.45h-4.11zM343.76 36.55h4.11v4.45h-4.11zM376.64 36.55h4.11v4.45h-4.11zM343.76 40.99h4.11v4.45h-4.11zM376.64 40.99h4.11v4.45h-4.11zM343.76 45.44h4.11v4.45h-4.11zM380.75 49.89h4.11v4.45h-4.11zM380.75 54.34h4.11v4.45h-4.11zM347.87 58.79h4.11v4.45h-4.11zM380.75 58.79h4.11v4.45h-4.11zM351.98 67.69h4.11v4.45h-4.11zM356.09 72.14h4.11v4.45h-4.11zM384.85 72.14h4.11v4.45h-4.11zM356.09 76.59h4.11v4.45h-4.11zM360.20 76.59h4.11v4.45h-4.11zM384.85 76.59h4.11v4.45h-4.11zM360.20 81.04h4.11v4.45h-4.11zM364.31 89.93h4.11v4.45h-4.11zM388.96 89.93h4.11v4.45h-4.11zM364.31 94.38h4.11v4.45h-4.11zM368.42 103.28h4.11v4.45h-4.11zM368.42 107.73h4.11v4.45h-4.11zM372.53 116.63h4.11v4.45h-4.11zM372.53 121.08h4.11v4.45h-4.11zM393.07 143.32h4.11v4.45h-4.11zM376.64 156.67h4.11v4.45h-4.11zM393.07 156.67h4.11v4.45h-4.11zM380.75 161.12h4.11v4.45h-4.11zM393.07 161.12h4.11v4.45h-4.11zM384.85 165.57h4.11v4.45h-4.11zM397.18 165.57h4.11v4.45h-4.11zM401.29 170.02h4.11v4.45h-4.11zM388.96 174.47h4.11v4.45h-4.11zM405.40 174.47h4.11v4.45h-4.11zM388.96 178.92h4.11v4.45h-4.11zM388.96 183.37h4.11v4.45h-4.11zM388.96 187.81h4.11v4.45h-4.11zM405.40 205.61h4.11v4.45h-4.11zM397.18 210.06h4.11v4.45h-4.11zM401.29 214.51h4.11v4.45h-4.11zM401.29 223.41h4.11v4.45h-4.11zM397.18 227.86h4.11v4.45h-4.11zM401.29 227.86h4.11v4.45h-4.11zM393.07 236.75h4.11v4.45h-4.11zM393.07 241.20h4.11v4.45h-4.11zM393.07 245.65h4.11v4.45h-4.11z"/>
<path fill="#f5e626" d="M388.96 14.30h4.11v4.45h-4.11zM388.96 18.75h4.11v4.45h-4.11zM315.00 45.44h4.11v4.45h-4.11zM393.07 45.44h4.11v4.45h-4.11zM315.00 49.89h4.11v4.45h-4.11zM319.11 54.34h4.11v4.45h-4.11zM319.11 58.79h4.11v4.45h-4.11zM323.22 63.24h4.11v4.45h-4.11zM323.22 67.69h4.11v4.45h-4.11zM327.33 72.14h4.11v4.45h-4.11zM331.44 76.59h4.11v4.45h-4.11zM335.55 81.04h4.11v4.45h-4.11zM397.18 81.04h4.11v4.45h-4.11zM339.65 85.49h4.11v4.45h-4.11zM347.87 98.83h4.11v4.45h-4.11zM351.98 107.73h4.11v4.45h-4.11zM401.29 112.18h4.11v4.45h-4.11zM364.31 129.98h4.11v4.45h-4.11zM409.51 134.43h4.11v4.45h-4.11zM413.62 143.32h4.11v4.45h-4.11zM413.62 147.77h4.11v4.45h-4.11zM413.62 152.22h4.11v4.45h-4.11zM380.75 192.26h4.11v4.45h-4.11zM413.62 201.16h4.11v4.45h-4.11zM384.85 210.06h4.11v4.45h-4.11zM384.85 227.86h4.11v4.45h-4.11zM409.51 254.55h4.11v4.45h-4.11z"/>
<path fill="#f6e028" d="M393.07 14.30h4.11v4.45h-4.11zM393.07 18.75h4.11v4.45h-4.11zM397.18 49.89h4.11v4.45h-4.11zM397.18 54.34h4.11v4.45h-4.11zM323.22 76.59h4.11v4.45h-4.11zM327.33 81.04h4.11v4.45h-4.11zM335.55 89.93h4.11v4.45h-4.11zM401.29 89.93h4.11v4.45h-4.11zM339.65 94.38h4.11v4.45h-4.11zM409.51 121.08h4.11v4.45h-4.11zM364.31 152.22h4.11v4.45h-4.11zM417.73 152.22h4.11v4.45h-4.11zM417.73 161.12h4.11v4.45h-4.11zM368.42 165.57h4.11v4.45h-4.11zM417.73 165.57h4.11v4.45h-4.11zM417.73 170.02h4.11v4.45h-4.11zM417.73 174.47h4.11v4.45h-4.11zM380.75 205.61h4.11v4.45h-4.11zM413.62 218.96h4.11v4.45h-4.11zM384.85 254.55h4.11v4.45h-4.11z"/>
<path fill="#f9d82c" d="M397.18 14.30h4.11v4.45h-4.11zM401.29 58.79h4.11v4.45h-4.11zM401.29 63.24h4.11v4.45h-4.11zM401.29 67.69h4.11v4.45h-4.11zM323.22 85.49h4.11v4.45h-4.11zM405.40 94.38h4.11v4.45h-4.11zM335.55 98.83h4.11v4.45h-4.11zM343.76 112.18h4.11v4.45h-4.11zM409.51 112.18h4.11v4.45h-4.11zM360.20 143.32h4.11v4.45h-4.11zM364.31 161.12h4.11v4.45h-4.11zM417.73 196.71h4.11v4.45h-4.11zM376.64 201.16h4.11v4.45h-4.11zM413.62 254.55h4.11v4.45h-4.11z"/>
<path fill="#fcd030" d="M401.29 14.30h4.11v4.45h-4.11zM401.29 18.75h4.11v4.45h-4.11zM405.40 72.14h4.11v4.45h-4.11zM315.00 85.49h4.11v4.45h-4.11zM409.51 94.38h4.11v4.45h-4.11zM335.55 107.73h4.11v4.45h-4.11zM417.73 121.08h4.11v4.45h-4.11zM356.09 134.43h4.11v4.45h-4.11zM360.20 156.67h4.11v4.45h-4.11zM368.42 178.92h4.11v4.45h-4.11zM417.73 210.06h4.11v4.45h-4.11zM376.64 245.65h4.11v4.45h-4.11zM376.64 250.10h4.11v4.45h-4.11z"/>
<path fill="#fec834" d="M405.40 14.30h4.11v4.45h-4.11zM405.40 18.75h4.11v4.45h-4.11zM405.40 23.20h4.11v4.45h-4.11zM405.40 27.65h4.11v4.45h-4.11zM405.40 32.10h4.11v4.45h-4.11zM405.40 36.55h4.11v4.45h-4.11zM409.51 76.59h4.11v4.45h-4.11zM339.65 121.08h4.11v4.45h-4.11zM343.76 125.53h4.11v4.45h-4.11zM356.09 152.22h4.11v4.45h-4.11zM421.84 178.92h4.11v4.45h-4.11zM372.53 210.06h4.11v4.45h-4.11zM372.53 214.51h4.11v4.45h-4.11zM417.73 250.10h4.11v4.45h-4.11z"/>
<path fill="#fec03b" d="M409.51 14.30h4.11v4.45h-4.11zM409.51 18.75h4.11v4.45h-4.11zM409.51 23.20h4.11v4.45h-4.11zM409.51 27.65h4.11v4.45h-4.11zM409.51 32.10h4.11v4.45h-4.11zM409.51 36.55h4.11v4.45h-4.11zM413.62 76.59h4.11v4.45h-4.11zM360.20 170.02h4.11v4.45h-4.11zM421.84 196.71h4.11v4.45h-4.11z"/>
<path fill="#f7ba3d" d="M413.62 14.30h4.11v4.45h-4.11zM413.62 18.75h4.11v4.45h-4.11zM413.62 23.20h4.11v4.45h-4.11zM413.62 27.65h4.11v4.45h-4.11zM413.62 32.10h4.11v4.45h-4.11zM413.62 36.55h4.11v4.45h-4.11zM413.62 40.99h4.11v4.45h-4.11zM417.73 81.04h4.11v4.45h-4.11zM421.84 103.28h4.11v4.45h-4.11zM343.76 143.32h4.11v4.45h-4.11zM425.95 152.22h4.11v4.45h-4.11zM351.98 156.67h4.11v4.45h-4.11zM425.95 156.67h4.11v4.45h-4.11zM421.84 218.96h4.11v4.45h-4.11z"/>
<path fill="#eaba30" d="M417.73 14.30h4.11v4.45h-4.11zM417.73 18.75h4.11v4.45h-4.11zM417.73 23.20h4.11v4.45h-4.11zM417.73 45.44h4.11v4.45h-4.11zM417.73 49.89h4.11v4.45h-4.11zM425.95 116.63h4.11v4.45h-4.11zM425.95 121.08h4.11v4.45h-4.11zM323.22 125.53h4.11v4.45h-4.11zM331.44 138.87h4.11v4.45h-4.11zM335.55 143.32h4.11v4.45h-4.11zM351.98 161.12h4.11v4.45h-4.11zM356.09 170.02h4.11v4.45h-4.11zM425.95 174.47h4.11v4.45h-4.11zM368.42 241.20h4.11v4.45h-4.11z"/>
<path fill="#dbbd28" d="M421.84 14.30h4.11v4.45h-4.11zM421.84 18.75h4.11v4.45h-4.11zM421.84 58.79h4.11v4.45h-4.11zM421.84 63.24h4.11v4.45h-4.11zM425.95 98.83h4.11v4.45h-4.11zM315.00 121.08h4.11v4.45h-4.11zM327.33 138.87h4.11v4.45h-4.11zM351.98 165.57h4.11v4.45h-4.11z"/>
<path fill="#c8c129" d="M425.95 14.30h4.11v4.45h-4.11zM425.95 72.14h4.11v4.45h-4.11zM425.95 76.59h4.11v4.45h-4.11zM323.22 138.87h4.11v4.45h-4.11zM351.98 170.02h4.11v4.45h-4.11zM425.95 205.61h4.11v4.45h-4.11zM425.95 214.51h4.11v4.45h-4.11z"/>
<path fill="#aec637" d="M430.05 14.30h4.11v4.45h-4.11zM430.05 18.75h4.11v4.45h-4.11zM430.05 129.98h4.11v4.45h-4.11zM319.11 138.87h4.11v4.45h-4.11zM356.09 187.81h4.11v4.45h-4.11zM360.20 218.96h4.11v4.45h-4.11z"/>
<path fill="#93ca4b" d="M434.16 14.30h4.11v4.45h-4.11zM430.05 174.47h4.11v4.45h-4.11zM360.20 232.31h4.11v4.45h-4.11z"/>
<path fill="#76cc61" d="M438.27 14.30h4.11v4.45h-4.11zM434.16 67.69h4.11v4.45h-4.11zM343.76 170.02h4.11v4.45h-4.11zM430.05 201.16h4.11v4.45h-4.11zM356.09 205.61h4.11v4.45h-4.11z"/>
<path fill="#57cc7a" d="M442.38 14.30h4.11v4.45h-4.11zM356.09 218.96h4.11v4.45h-4.11zM356.09 223.41h4.11v4.45h-4.11zM356.09 227.86h4.11v4.45h-4.11z"/>
<path fill="#3dca90" d="M446.49 14.30h4.11v4.45h-4.11zM438.27 116.63h4.11v4.45h-4.11zM434.16 152.22h4.11v4.45h-4.11zM434.16 156.67h4.11v4.45h-4.11zM343.76 178.92h4.11v4.45h-4.11zM347.87 192.26h4.11v4.45h-4.11zM536.89 214.51h4.11v4.45h-4.11zM520.45 241.20h4.11v4.45h-4.11zM528.67 250.10h4.11v4.45h-4.11z"/>
<path fill="#2ec4a5" d="M450.60 14.30h4.11v4.45h-4.11zM319.11 165.57h4.11v4.45h-4.11zM327.33 170.02h4.11v4.45h-4.11zM343.76 187.81h4.11v4.45h-4.11zM434.16 205.61h4.11v4.45h-4.11zM434.16 210.06h4.11v4.45h-4.11zM434.16 214.51h4.11v4.45h-4.11zM516.35 232.31h4.11v4.45h-4.11zM351.98 236.75h4.11v4.45h-4.11zM434.16 241.20h4.11v4.45h-4.11zM434.16 245.65h4.11v4.45h-4.11zM434.16 250.10h4.11v4.45h-4.11zM434.16 254.55h4.11v4.45h-4.11zM536.89 254.55h4.11v4.45h-4.11z"/>
<path fill="#1ac0b5" d="M454.71 14.30h4.11v4.45h-4.11z"/>
<path fill="#01bac4" d="M458.82 14.30h4.11v4.45h-4.11zM450.60 72.14h4.11v4.45h-4.11zM446.49 116.63h4.11v4.45h-4.11zM438.27 147.77h4.11v4.45h-4.11zM315.00 174.47h4.11v4.45h-4.11zM343.76 210.06h4.11v4.45h-4.11zM512.24 232.31h4.11v4.45h-4.11zM512.24 236.75h4.11v4.45h-4.11zM347.87 245.65h4.11v4.45h-4.11z"/>
<path fill="#0bb3d2" d="M462.93 14.30h4.11v4.45h-4.11zM458.82 58.79h4.11v4.45h-4.11zM454.71 81.04h4.11v4.45h-4.11zM454.71 103.28h4.11v4.45h-4.11zM454.71 107.73h4.11v4.45h-4.11zM339.65 210.06h4.11v4.45h-4.11zM343.76 236.75h4.11v4.45h-4.11z"/>
<path fill="#1babde" d="M467.04 14.30h4.11v4.45h-4.11zM462.93 63.24h4.11v4.45h-4.11zM462.93 67.69h4.11v4.45h-4.11zM319.11 187.81h4.11v4.45h-4.11zM528.67 196.71h4.11v4.45h-4.11zM331.44 201.16h4.11v4.45h-4.11zM520.45 201.16h4.11v4.45h-4.11zM516.35 205.61h4.11v4.45h-4.11zM335.55 214.51h4.11v4.45h-4.11zM442.38 218.96h4.11v4.45h-4.11zM339.65 232.31h4.11v4.45h-4.11z"/>
<path fill="#22a2e4" d="M471.15 14.30h4.11v4.45h-4.11zM467.04 67.69h4.11v4.45h-4.11zM446.49 147.77h4.11v4.45h-4.11zM532.78 192.26h4.11v4.45h-4.11zM446.49 232.31h4.11v4.45h-4.11zM446.49 236.75h4.11v4.45h-4.11z"/>
<path fill="#269ae8" d="M475.25 14.30h4.11v4.45h-4.11zM471.15 49.89h4.11v4.45h-4.11zM471.15 54.34h4.11v4.45h-4.11zM471.15 58.79h4.11v4.45h-4.11zM471.15 63.24h4.11v4.45h-4.11zM467.04 89.93h4.11v4.45h-4.11zM467.04 94.38h4.11v4.45h-4.11zM454.71 129.98h4.11v4.45h-4.11zM450.60 147.77h4.11v4.45h-4.11zM319.11 201.16h4.11v4.45h-4.11zM450.60 250.10h4.11v4.45h-4.11z"/>
<path fill="#2b91ef" d="M479.36 14.30h4.11v4.45h-4.11zM475.25 45.44h4.11v4.45h-4.11zM471.15 81.04h4.11v4.45h-4.11zM454.71 138.87h4.11v4.45h-4.11zM450.60 170.02h4.11v4.45h-4.11zM450.60 174.47h4.11v4.45h-4.11zM450.60 183.37h4.11v4.45h-4.11zM536.89 183.37h4.11v4.45h-4.11zM450.60 187.81h4.11v4.45h-4.11zM450.60 192.26h4.11v4.45h-4.11zM450.60 201.16h4.11v4.45h-4.11zM450.60 205.61h4.11v4.45h-4.11zM319.11 210.06h4.11v4.45h-4.11zM323.22 218.96h4.11v4.45h-4.11zM504.02 241.20h4.11v4.45h-4.11zM331.44 245.65h4.11v4.45h-4.11z"/>
<path fill="#2d88f6" d="M483.47 14.30h4.11v4.45h-4.11zM479.36 40.99h4.11v4.45h-4.11zM475.25 76.59h4.11v4.45h-4.11zM471.15 103.28h4.11v4.45h-4.11zM462.93 125.53h4.11v4.45h-4.11zM536.89 178.92h4.11v4.45h-4.11zM454.71 227.86h4.11v4.45h-4.11zM323.22 232.31h4.11v4.45h-4.11zM454.71 232.31h4.11v4.45h-4.11z"/>
<path fill="#2f80fa" d="M487.58 14.30h4.11v4.45h-4.11zM483.47 40.99h4.11v4.45h-4.11zM479.36 72.14h4.11v4.45h-4.11zM458.82 147.77h4.11v4.45h-4.11zM524.56 183.37h4.11v4.45h-4.11zM315.00 223.41h4.11v4.45h-4.11zM323.22 245.65h4.11v4.45h-4.11z"/>
<path fill="#3677fe" d="M491.69 14.30h4.11v4.45h-4.11zM483.47 67.69h4.11v4.45h-4.11zM475.25 94.38h4.11v4.45h-4.11zM467.04 125.53h4.11v4.45h-4.11zM458.82 161.12h4.11v4.45h-4.11zM536.89 170.02h4.11v4.45h-4.11zM520.45 183.37h4.11v4.45h-4.11zM499.91 236.75h4.11v4.45h-4.11zM315.00 245.65h4.11v4.45h-4.11zM458.82 245.65h4.11v4.45h-4.11zM458.82 250.10h4.11v4.45h-4.11z"/>
<path fill="#3e70ff" d="M495.80 14.30h4.11v4.45h-4.11zM491.69 36.55h4.11v4.45h-4.11zM487.58 54.34h4.11v4.45h-4.11zM462.93 138.87h4.11v4.45h-4.11zM536.89 165.57h4.11v4.45h-4.11zM458.82 183.37h4.11v4.45h-4.11zM458.82 218.96h4.11v4.45h-4.11z"/>
<path fill="#4368fe" d="M499.91 14.30h4.11v4.45h-4.11zM491.69 49.89h4.11v4.45h-4.11zM479.36 89.93h4.11v4.45h-4.11zM475.25 116.63h4.11v4.45h-4.11zM508.13 192.26h4.11v4.45h-4.11zM495.80 250.10h4.11v4.45h-4.11z"/>
<path fill="#4661fc" d="M504.02 14.30h4.11v4.45h-4.11zM495.80 49.89h4.11v4.45h-4.11zM491.69 63.24h4.11v4.45h-4.11zM487.58 76.59h4.11v4.45h-4.11zM479.36 103.28h4.11v4.45h-4.11zM475.25 121.08h4.11v4.45h-4.11zM462.93 165.57h4.11v4.45h-4.11zM504.02 196.71h4.11v4.45h-4.11zM462.93 250.10h4.11v4.45h-4.11z"/>
<path fill="#475af9" d="M508.13 14.30h4.11v4.45h-4.11zM491.69 72.14h4.11v4.45h-4.11zM483.47 89.93h4.11v4.45h-4.11zM512.24 178.92h4.11v4.45h-4.11zM462.93 187.81h4.11v4.45h-4.11zM504.02 192.26h4.11v4.45h-4.11zM462.93 218.96h4.11v4.45h-4.11zM495.80 223.41h4.11v4.45h-4.11zM491.69 254.55h4.11v4.45h-4.11z"/>
<path fill="#4854f6" d="M512.24 14.30h4.11v4.45h-4.11zM508.13 32.10h4.11v4.45h-4.11zM504.02 45.44h4.11v4.45h-4.11zM495.80 67.69h4.11v4.45h-4.11zM487.58 85.49h4.11v4.45h-4.11zM483.47 94.38h4.11v4.45h-4.11zM471.15 134.43h4.11v4.45h-4.11zM516.35 170.02h4.11v4.45h-4.11zM495.80 214.51h4.11v4.45h-4.11z"/>
<path fill="#484ef1" d="M516.35 14.30h4.11v4.45h-4.11zM512.24 32.10h4.11v4.45h-4.11zM508.13 45.44h4.11v4.45h-4.11zM536.89 143.32h4.11v4.45h-4.11zM471.15 147.77h4.11v4.45h-4.11zM467.04 170.02h4.11v4.45h-4.11zM495.80 205.61h4.11v4.45h-4.11zM491.69 227.86h4.11v4.45h-4.11zM467.04 245.65h4.11v4.45h-4.11zM467.04 250.10h4.11v4.45h-4.11z"/>
<path fill="#4849ed" d="M520.45 14.30h4.11v4.45h-4.11zM516.35 27.65h4.11v4.45h-4.11zM512.24 40.99h4.11v4.45h-4.11zM475.25 134.43h4.11v4.45h-4.11zM532.78 143.32h4.11v4.45h-4.11zM516.35 161.12h4.11v4.45h-4.11zM467.04 178.92h4.11v4.45h-4.11zM467.04 183.37h4.11v4.45h-4.11zM504.02 183.37h4.11v4.45h-4.11zM467.04 227.86h4.11v4.45h-4.11z"/>
<path fill="#4744e8" d="M524.56 14.30h4.11v4.45h-4.11zM520.45 27.65h4.11v4.45h-4.11zM516.35 40.99h4.11v4.45h-4.11zM512.24 49.89h4.11v4.45h-4.11zM508.13 58.79h4.11v4.45h-4.11zM499.91 76.59h4.11v4.45h-4.11zM495.80 85.49h4.11v4.45h-4.11zM487.58 107.73h4.11v4.45h-4.11zM483.47 121.08h4.11v4.45h-4.11zM479.36 129.98h4.11v4.45h-4.11zM475.25 143.32h4.11v4.45h-4.11zM528.67 143.32h4.11v4.45h-4.11zM524.56 147.77h4.11v4.45h-4.11zM520.45 152.22h4.11v4.45h-4.11zM516.35 156.67h4.11v4.45h-4.11zM471.15 161.12h4.11v4.45h-4.11zM504.02 178.92h4.11v4.45h-4.11zM491.69 210.06h4.11v4.45h-4.11zM487.58 236.75h4.11v4.45h-4.11z"/>
<path fill="#473fe3" d="M528.67 14.30h4.11v4.45h-4.11zM524.56 27.65h4.11v4.45h-4.11zM508.13 63.24h4.11v4.45h-4.11zM499.91 81.04h4.11v4.45h-4.11zM483.47 125.53h4.11v4.45h-4.11zM479.36 134.43h4.11v4.45h-4.11zM475.25 152.22h4.11v4.45h-4.11zM499.91 183.37h4.11v4.45h-4.11zM491.69 201.16h4.11v4.45h-4.11zM487.58 227.86h4.11v4.45h-4.11zM471.15 250.10h4.11v4.45h-4.11z"/>
<path fill="#463de0" d="M532.78 14.30h4.11v4.45h-4.11zM528.67 23.20h4.11v4.45h-4.11zM524.56 36.55h4.11v4.45h-4.11zM520.45 45.44h4.11v4.45h-4.11zM512.24 58.79h4.11v4.45h-4.11zM491.69 107.73h4.11v4.45h-4.11zM516.35 152.22h4.11v4.45h-4.11zM512.24 156.67h4.11v4.45h-4.11zM471.15 174.47h4.11v4.45h-4.11zM495.80 187.81h4.11v4.45h-4.11zM491.69 196.71h4.11v4.45h-4.11zM471.15 232.31h4.11v4.45h-4.11zM483.47 250.10h4.11v4.45h-4.11z"/>
<path fill="#4639d9" d="M536.89 14.30h4.11v4.45h-4.11zM532.78 23.20h4.11v4.45h-4.11zM528.67 36.55h4.11v4.45h-4.11zM524.56 45.44h4.11v4.45h-4.11zM508.13 72.14h4.11v4.45h-4.11zM504.02 85.49h4.11v4.45h-4.11zM499.91 94.38h4.11v4.45h-4.11zM495.80 103.28h4.11v4.45h-4.11zM520.45 143.32h4.11v4.45h-4.11zM479.36 147.77h4.11v4.45h-4.11zM516.35 147.77h4.11v4.45h-4.11zM471.15 192.26h4.11v4.45h-4.11zM491.69 192.26h4.11v4.45h-4.11zM471.15 196.71h4.11v4.45h-4.11zM471.15 201.16h4.11v4.45h-4.11zM471.15 205.61h4.11v4.45h-4.11zM471.15 210.06h4.11v4.45h-4.11zM487.58 210.06h4.11v4.45h-4.11zM471.15 214.51h4.11v4.45h-4.11zM483.47 232.31h4.11v4.45h-4.11zM475.25 254.55h4.11v4.45h-4.11z"/>
<path fill="#f8f71a" d="M356.09 18.75h4.11v4.45h-4.11zM360.20 18.75h4.11v4.45h-4.11zM364.31 18.75h4.11v4.45h-4.11zM351.98 23.20h4.11v4.45h-4.11zM356.09 23.20h4.11v4.45h-4.11zM360.20 23.20h4.11v4.45h-4.11zM364.31 23.20h4.11v4.45h-4.11zM368.42 23.20h4.11v4.45h-4.11zM347.87 27.65h4.11v4.45h-4.11zM351.98 27.65h4.11v4.45h-4.11zM368.42 27.65h4.11v4.45h-4.11zM347.87 32.10h4.11v4.45h-4.11zM372.53 32.10h4.11v4.45h-4.11zM347.87 36.55h4.11v4.45h-4.11zM372.53 36.55h4.11v4.45h-4.11zM347.87 40.99h4.11v4.45h-4.11zM372.53 40.99h4.11v4.45h-4.11zM347.87 45.44h4.11v4.45h-4.11zM372.53 45.44h4.11v4.45h-4.11zM376.64 45.44h4.11v4.45h-4.11zM347.87 49.89h4.11v4.45h-4.11zM372.53 49.89h4.11v4.45h-4.11zM376.64 49.89h4.11v4.45h-4.11zM347.87 54.34h4.11v4.45h-4.11zM372.53 54.34h4.11v4.45h-4.11zM376.64 54.34h4.11v4.45h-4.11zM351.98 58.79h4.11v4.45h-4.11zM376.64 58.79h4.11v4.45h-4.11zM351.98 63.24h4.11v4.45h-4.11zM356.09 63.24h4.11v4.45h-4.11zM376.64 63.24h4.11v4.45h-4.11zM380.75 63.24h4.11v4.45h-4.11zM356.09 67.69h4.11v4.45h-4.11zM360.20 67.69h4.11v4.45h-4.11zM364.31 67.69h4.11v4.45h-4.11zM376.64 67.69h4.11v4.45h-4.11zM380.75 67.69h4.11v4.45h-4.11zM360.20 72.14h4.11v4.45h-4.11zM364.31 72.14h4.11v4.45h-4.11zM368.42 72.14h4.11v4.45h-4.11zM380.75 72.14h4.11v4.45h-4.11zM364.31 76.59h4.11v4.45h-4.11zM368.42 76.59h4.11v4.45h-4.11zM364.31 81.04h4.11v4.45h-4.11zM384.85 81.04h4.11v4.45h-4.11zM364.31 85.49h4.11v4.45h-4.11zM368.42 89.93h4.11v4.45h-4.11zM368.42 94.38h4.11v4.45h-4.11zM388.96 94.38h4.11v4.45h-4.11zM368.42 98.83h4.11v4.45h-4.11zM388.96 98.83h4.11v4.45h-4.11zM388.96 103.28h4.11v4.45h-4.11zM372.53 107.73h4.11v4.45h-4.11zM388.96 107.73h4.11v4.45h-4.11zM372.53 112.18h4.11v4.45h-4.11zM388.96 112.18h4.11v4.45h-4.11zM388.96 116.63h4.11v4.45h-4.11zM388.96 121.08h4.11v4.45h-4.11zM376.64 125.53h4.11v4.45h-4.11zM388.96 125.53h4.11v4.45h-4.11zM376.64 129.98h4.11v4.45h-4.11zM388.96 129.98h4.11v4.45h-4.11zM376.64 134.43h4.11v4.45h-4.11zM388.96 134.43h4.11v4.45h-4.11zM376.64 138.87h4.11v4.45h-4.11zM388.96 138.87h4.11v4.45h-4.11zM376.64 143.32h4.11v4.45h-4.11zM388.96 143.32h4.11v4.45h-4.11zM376.64 147.77h4.11v4.45h-4.11zM388.96 147.77h4.11v4.45h-4.11zM376.64 152.22h4.11v4.45h-4.11zM388.96 152.22h4.11v4.45h-4.11zM380.75 156.67h4.11v4.45h-4.11zM388.96 156.67h4.11v4.45h-4.11zM384.85 161.12h4.11v4.45h-4.11zM388.96 161.12h4.11v4.45h-4.11zM388.96 165.57h4.11v4.45h-4.11zM393.07 165.57h4.11v4.45h-4.11zM388.96 170.02h4.11v4.45h-4.11zM393.07 170.02h4.11v4.45h-4.11zM397.18 170.02h4.11v4.45h-4.11zM393.07 174.47h4.11v4.45h-4.11zM401.29 174.47h4.11v4.45h-4.11zM405.40 178.92h4.11v4.45h-4.11zM393.07 201.16h4.11v4.45h-4.11zM397.18 205.61h4.11v4.45h-4.11zM401.29 210.06h4.11v4.45h-4.11zM397.18 232.31h4.11v4.45h-4.11zM401.29 232.31h4.11v4.45h-4.11zM397.18 250.10h4.11v4.45h-4.11zM401.29 250.10h4.11v4.45h-4.11z"/>
<path fill="#f8d92b" d="M397.18 18.75h4.11v4.45h-4.11zM397.18 23.20h4.11v4.45h-4.11zM397.18 27.65h4.11v4.45h-4.11zM401.29 72.14h4.11v4.45h-4.11zM319.11 81.04h4.11v4.45h-4.11zM405.40 98.83h4.11v4.45h-4.11zM339.65 103.28h4.11v4.45h-4.11zM347.87 116.63h4.11v4.45h-4.11zM351.98 121.08h4.11v4.45h-4.11zM413.62 121.08h4.11v4.45h-4.11zM356.09 125.53h4.11v4.45h-4.11zM417.73 129.98h4.11v4.45h-4.11zM360.20 138.87h4.11v4.45h-4.11zM372.53 178.92h4.11v4.45h-4.11zM417.73 187.81h4.11v4.45h-4.11zM417.73 192.26h4.11v4.45h-4.11zM376.64 196.71h4.11v4.45h-4.11z"/>
<path fill="#c5c22a" d="M425.95 18.75h4.11v4.45h-4.11zM425.95 23.20h4.11v4.45h-4.11zM425.95 67.69h4.11v4.45h-4.11zM339.65 156.67h4.11v4.45h-4.11zM425.95 210.06h4.11v4.45h-4.11zM425.95 218.96h4.11v4.45h-4.11zM364.31 236.75h4.11v4.45h-4.11zM364.31 254.55h4.11v4.45h-4.11z"/>
<path fill="#8fcb4e" d="M434.16 18.75h4.11v4.45h-4.11zM335.55 161.12h4.11v4.45h-4.11zM356.09 196.71h4.11v4.45h-4.11z"/>
<path fill="#72cd64" d="M438.27 18.75h4.11v4.45h-4.11zM434.16 72.14h4.11v4.45h-4.11zM434.16 94.38h4.11v4.45h-4.11zM430.05 214.51h4.11v4.45h-4.11z"/>
<path fill="#54cc7c" d="M442.38 18.75h4.11v4.45h-4.11zM339.65 170.02h4.11v4.45h-4.11zM343.76 174.47h4.11v4.45h-4.11zM347.87 183.37h4.11v4.45h-4.11zM528.67 218.96h4.11v4.45h-4.11zM532.78 218.96h4.11v4.45h-4.11zM524.56 223.41h4.11v4.45h-4.11zM356.09 232.31h4.11v4.45h-4.11zM524.56 241.20h4.11v4.45h-4.11z"/>
<path fill="#39c994" d="M446.49 18.75h4.11v4.45h-4.11zM536.89 245.65h4.11v4.45h-4.11zM532.78 250.10h4.11v4.45h-4.11z"/>
<path fill="#2cc4a6" d="M450.60 18.75h4.11v4.45h-4.11zM446.49 58.79h4.11v4.45h-4.11zM442.38 76.59h4.11v4.45h-4.11zM442.38 103.28h4.11v4.45h-4.11zM442.38 107.73h4.11v4.45h-4.11zM335.55 174.47h4.11v4.45h-4.11zM339.65 178.92h4.11v4.45h-4.11zM351.98 223.41h4.11v4.45h-4.11zM516.35 227.86h4.11v4.45h-4.11zM516.35 236.75h4.11v4.45h-4.11zM351.98 241.20h4.11v4.45h-4.11z"/>
<path fill="#17bfb6" d="M454.71 18.75h4.11v4.45h-4.11zM450.60 58.79h4.11v4.45h-4.11zM446.49 72.14h4.11v4.45h-4.11zM442.38 121.08h4.11v4.45h-4.11zM327.33 174.47h4.11v4.45h-4.11zM335.55 178.92h4.11v4.45h-4.11zM343.76 201.16h4.11v4.45h-4.11zM528.67 205.61h4.11v4.45h-4.11zM516.35 218.96h4.11v4.45h-4.11z"/>
<path fill="#00b9c7" d="M458.82 18.75h4.11v4.45h-4.11zM454.71 63.24h4.11v4.45h-4.11zM450.60 103.28h4.11v4.45h-4.11zM438.27 161.12h4.11v4.45h-4.11zM438.27 165.57h4.11v4.45h-4.11zM438.27 174.47h4.11v4.45h-4.11zM335.55 187.81h4.11v4.45h-4.11zM532.78 201.16h4.11v4.45h-4.11zM438.27 218.96h4.11v4.45h-4.11zM438.27 223.41h4.11v4.45h-4.11zM438.27 227.86h4.11v4.45h-4.11zM438.27 241.20h4.11v4.45h-4.11zM438.27 245.65h4.11v4.45h-4.11zM512.24 245.65h4.11v4.45h-4.11zM347.87 250.10h4.11v4.45h-4.11zM438.27 250.10h4.11v4.45h-4.11zM438.27 254.55h4.11v4.45h-4.11z"/>
<path fill="#10b2d5" d="M462.93 18.75h4.11v4.45h-4.11zM458.82 67.69h4.11v4.45h-4.11zM454.71 112.18h4.11v4.45h-4.11zM442.38 134.43h4.11v4.45h-4.11zM335.55 201.16h4.11v4.45h-4.11zM524.56 201.16h4.11v4.45h-4.11zM339.65 214.51h4.11v4.45h-4.11zM343.76 245.65h4.11v4.45h-4.11zM343.76 250.10h4.11v4.45h-4.11z"/>
<path fill="#1caadf" d="M467.04 18.75h4.11v4.45h-4.11zM462.93 72.14h4.11v4.45h-4.11zM450.60 125.53h4.11v4.45h-4.11zM442.38 161.12h4.11v4.45h-4.11zM442.38 165.57h4.11v4.45h-4.11zM442.38 170.02h4.11v4.45h-4.11zM442.38 205.61h4.11v4.45h-4.11zM442.38 214.51h4.11v4.45h-4.11z"/>
<path fill="#23a1e4" d="M471.15 18.75h4.11v4.45h-4.11zM467.04 72.14h4.11v4.45h-4.11zM454.71 125.53h4.11v4.45h-4.11zM446.49 152.22h4.11v4.45h-4.11zM315.00 192.26h4.11v4.45h-4.11zM327.33 205.61h4.11v4.45h-4.11zM331.44 218.96h4.11v4.45h-4.11zM446.49 227.86h4.11v4.45h-4.11zM335.55 232.31h4.11v4.45h-4.11z"/>
<path fill="#2699e9" d="M475.25 18.75h4.11v4.45h-4.11zM471.15 67.69h4.11v4.45h-4.11zM467.04 98.83h4.11v4.45h-4.11zM467.04 103.28h4.11v4.45h-4.11zM467.04 107.73h4.11v4.45h-4.11zM450.60 152.22h4.11v4.45h-4.11zM327.33 218.96h4.11v4.45h-4.11zM450.60 241.20h4.11v4.45h-4.11zM450.60 245.65h4.11v4.45h-4.11z"/>
<path fill="#2c8ff1" d="M479.36 18.75h4.11v4.45h-4.11zM475.25 58.79h4.11v4.45h-4.11zM475.25 63.24h4.11v4.45h-4.11zM475.25 67.69h4.11v4.45h-4.11zM471.15 85.49h4.11v4.45h-4.11zM323.22 223.41h4.11v4.45h-4.11zM504.02 232.31h4.11v4.45h-4.11zM331.44 250.10h4.11v4.45h-4.11z"/>
<path fill="#2e87f7" d="M483.47 18.75h4.11v4.45h-4.11zM479.36 45.44h4.11v4.45h-4.11zM471.15 107.73h4.11v4.45h-4.11zM458.82 134.43h4.11v4.45h-4.11zM454.71 165.57h4.11v4.45h-4.11zM528.67 183.37h4.11v4.45h-4.11zM508.13 205.61h4.11v4.45h-4.11zM315.00 214.51h4.11v4.45h-4.11zM319.11 223.41h4.11v4.45h-4.11zM327.33 245.65h4.11v4.45h-4.11z"/>
<path fill="#307ffb" d="M487.58 18.75h4.11v4.45h-4.11zM475.25 85.49h4.11v4.45h-4.11zM536.89 174.47h4.11v4.45h-4.11zM504.02 214.51h4.11v4.45h-4.11zM315.00 227.86h4.11v4.45h-4.11zM319.11 236.75h4.11v4.45h-4.11zM499.91 250.10h4.11v4.45h-4.11z"/>
<path fill="#3876fe" d="M491.69 18.75h4.11v4.45h-4.11zM487.58 40.99h4.11v4.45h-4.11zM479.36 81.04h4.11v4.45h-4.11zM475.25 98.83h4.11v4.45h-4.11zM524.56 178.92h4.11v4.45h-4.11zM499.91 232.31h4.11v4.45h-4.11zM458.82 241.20h4.11v4.45h-4.11z"/>
<path fill="#3f6eff" d="M495.80 18.75h4.11v4.45h-4.11zM487.58 58.79h4.11v4.45h-4.11zM483.47 76.59h4.11v4.45h-4.11zM479.36 85.49h4.11v4.45h-4.11zM475.25 112.18h4.11v4.45h-4.11zM462.93 143.32h4.11v4.45h-4.11zM458.82 187.81h4.11v4.45h-4.11zM458.82 192.26h4.11v4.45h-4.11zM458.82 196.71h4.11v4.45h-4.11zM458.82 201.16h4.11v4.45h-4.11zM458.82 205.61h4.11v4.45h-4.11zM458.82 210.06h4.11v4.45h-4.11zM458.82 214.51h4.11v4.45h-4.11zM499.91 223.41h4.11v4.45h-4.11z"/>
<path fill="#4367fd" d="M499.91 18.75h4.11v4.45h-4.11zM495.80 36.55h4.11v4.45h-4.11zM491.69 54.34h4.11v4.45h-4.11zM487.58 72.14h4.11v4.45h-4.11zM483.47 81.04h4.11v4.45h-4.11zM471.15 125.53h4.11v4.45h-4.11zM462.93 156.67h4.11v4.45h-4.11zM499.91 214.51h4.11v4.45h-4.11zM495.80 245.65h4.11v4.45h-4.11z"/>
<path fill="#4660fb" d="M504.02 18.75h4.11v4.45h-4.11zM499.91 36.55h4.11v4.45h-4.11zM483.47 85.49h4.11v4.45h-4.11zM495.80 232.31h4.11v4.45h-4.11zM462.93 241.20h4.11v4.45h-4.11zM462.93 245.65h4.11v4.45h-4.11z"/>
<path fill="#4759f8" d="M508.13 18.75h4.11v4.45h-4.11zM504.02 36.55h4.11v4.45h-4.11zM499.91 49.89h4.11v4.45h-4.11zM467.04 152.22h4.11v4.45h-4.11zM462.93 192.26h4.11v4.45h-4.11zM462.93 196.71h4.11v4.45h-4.11zM462.93 201.16h4.11v4.45h-4.11zM499.91 201.16h4.11v4.45h-4.11zM462.93 205.61h4.11v4.45h-4.11zM462.93 210.06h4.11v4.45h-4.11zM462.93 214.51h4.11v4.45h-4.11z"/>
<path fill="#4853f5" d="M512.24 18.75h4.11v4.45h-4.11zM499.91 58.79h4.11v4.45h-4.11zM483.47 98.83h4.11v4.45h-4.11zM499.91 196.71h4.11v4.45h-4.11zM491.69 241.20h4.11v4.45h-4.11z"/>
<path fill="#484cf0" d="M516.35 18.75h4.11v4.45h-4.11zM512.24 36.55h4.11v4.45h-4.11zM495.80 76.59h4.11v4.45h-4.11zM491.69 85.49h4.11v4.45h-4.11zM483.47 112.18h4.11v4.45h-4.11zM512.24 170.02h4.11v4.45h-4.11zM499.91 192.26h4.11v4.45h-4.11zM467.04 236.75h4.11v4.45h-4.11zM467.04 241.20h4.11v4.45h-4.11z"/>
<path fill="#4746eb" d="M520.45 18.75h4.11v4.45h-4.11zM516.35 36.55h4.11v4.45h-4.11zM504.02 63.24h4.11v4.45h-4.11zM499.91 72.14h4.11v4.45h-4.11zM491.69 89.93h4.11v4.45h-4.11zM487.58 103.28h4.11v4.45h-4.11zM536.89 138.87h4.11v4.45h-4.11zM471.15 156.67h4.11v4.45h-4.11zM512.24 165.57h4.11v4.45h-4.11zM499.91 187.81h4.11v4.45h-4.11zM467.04 192.26h4.11v4.45h-4.11zM495.80 196.71h4.11v4.45h-4.11zM467.04 201.16h4.11v4.45h-4.11zM467.04 205.61h4.11v4.45h-4.11zM467.04 214.51h4.11v4.45h-4.11zM487.58 245.65h4.11v4.45h-4.11z"/>
<path fill="#4742e6" d="M524.56 18.75h4.11v4.45h-4.11zM520.45 32.10h4.11v4.45h-4.11zM504.02 67.69h4.11v4.45h-4.11zM491.69 94.38h4.11v4.45h-4.11zM475.25 147.77h4.11v4.45h-4.11zM508.13 170.02h4.11v4.45h-4.11zM495.80 192.26h4.11v4.45h-4.11zM487.58 232.31h4.11v4.45h-4.11z"/>
<path fill="#473ee1" d="M528.67 18.75h4.11v4.45h-4.11zM524.56 32.10h4.11v4.45h-4.11zM520.45 40.99h4.11v4.45h-4.11zM516.35 49.89h4.11v4.45h-4.11zM504.02 72.14h4.11v4.45h-4.11zM499.91 85.49h4.11v4.45h-4.11zM495.80 94.38h4.11v4.45h-4.11zM491.69 103.28h4.11v4.45h-4.11zM487.58 116.63h4.11v4.45h-4.11zM536.89 134.43h4.11v4.45h-4.11zM524.56 143.32h4.11v4.45h-4.11zM520.45 147.77h4.11v4.45h-4.11zM508.13 165.57h4.11v4.45h-4.11zM471.15 170.02h4.11v4.45h-4.11zM504.02 174.47h4.11v4.45h-4.11zM487.58 223.41h4.11v4.45h-4.11zM471.15 236.75h4.11v4.45h-4.11zM471.15 241.20h4.11v4.45h-4.11zM471.15 245.65h4.11v4.45h-4.11zM483.47 254.55h4.11v4.45h-4.11z"/>
<path fill="#463adc" d="M532.78 18.75h4.11v4.45h-4.11zM528.67 32.10h4.11v4.45h-4.11zM524.56 40.99h4.11v4.45h-4.11zM520.45 49.89h4.11v4.45h-4.11zM512.24 63.24h4.11v4.45h-4.11zM504.02 81.04h4.11v4.45h-4.11zM491.69 112.18h4.11v4.45h-4.11zM483.47 129.98h4.11v4.45h-4.11zM532.78 134.43h4.11v4.45h-4.11zM479.36 143.32h4.11v4.45h-4.11zM508.13 161.12h4.11v4.45h-4.11zM504.02 170.02h4.11v4.45h-4.11zM499.91 178.92h4.11v4.45h-4.11zM471.15 187.81h4.11v4.45h-4.11zM487.58 214.51h4.11v4.45h-4.11zM471.15 218.96h4.11v4.45h-4.11zM471.15 223.41h4.11v4.45h-4.11zM483.47 236.75h4.11v4.45h-4.11z"/>
<path fill="#4538d7" d="M536.89 18.75h4.11v4.45h-4.11zM532.78 27.65h4.11v4.45h-4.11zM520.45 54.34h4.11v4.45h-4.11zM516.35 58.79h4.11v4.45h-4.11zM504.02 89.93h4.11v4.45h-4.11zM499.91 98.83h4.11v4.45h-4.11zM495.80 107.73h4.11v4.45h-4.11zM491.69 116.63h4.11v4.45h-4.11zM487.58 125.53h4.11v4.45h-4.11zM536.89 129.98h4.11v4.45h-4.11zM483.47 134.43h4.11v4.45h-4.11zM524.56 138.87h4.11v4.45h-4.11zM512.24 152.22h4.11v4.45h-4.11zM475.25 161.12h4.11v4.45h-4.11zM495.80 183.37h4.11v4.45h-4.11zM487.58 205.61h4.11v4.45h-4.11zM475.25 245.65h4.11v4.45h-4.11zM475.25 250.10h4.11v4.45h-4.11zM479.36 254.55h4.11v4.45h-4.11z"/>
<path fill="#f5e825" d="M388.96 23.20h4.11v4.45h-4.11zM388.96 27.65h4.11v4.45h-4.11zM315.00 36.55h4.11v4.45h-4.11zM315.00 40.99h4.11v4.45h-4.11zM319.11 45.44h4.11v4.45h-4.11zM319.11 49.89h4.11v4.45h-4.11zM393.07 49.89h4.11v4.45h-4.11zM323.22 54.34h4.11v4.45h-4.11zM323.22 58.79h4.11v4.45h-4.11zM327.33 67.69h4.11v4.45h-4.11zM331.44 72.14h4.11v4.45h-4.11zM397.18 85.49h4.11v4.45h-4.11zM343.76 89.93h4.11v4.45h-4.11zM356.09 112.18h4.11v4.45h-4.11zM401.29 116.63h4.11v4.45h-4.11zM405.40 125.53h4.11v4.45h-4.11zM409.51 138.87h4.11v4.45h-4.11zM409.51 152.22h4.11v4.45h-4.11zM368.42 156.67h4.11v4.45h-4.11zM413.62 156.67h4.11v4.45h-4.11zM372.53 165.57h4.11v4.45h-4.11zM376.64 174.47h4.11v4.45h-4.11zM380.75 187.81h4.11v4.45h-4.11zM413.62 196.71h4.11v4.45h-4.11zM384.85 232.31h4.11v4.45h-4.11zM384.85 236.75h4.11v4.45h-4.11zM384.85 241.20h4.11v4.45h-4.11zM384.85 245.65h4.11v4.45h-4.11zM388.96 254.55h4.11v4.45h-4.11z"/>
<path fill="#f5e128" d="M393.07 23.20h4.11v4.45h-4.11zM393.07 27.65h4.11v4.45h-4.11zM397.18 58.79h4.11v4.45h-4.11zM397.18 63.24h4.11v4.45h-4.11zM315.00 67.69h4.11v4.45h-4.11zM397.18 67.69h4.11v4.45h-4.11zM319.11 72.14h4.11v4.45h-4.11zM401.29 94.38h4.11v4.45h-4.11zM343.76 98.83h4.11v4.45h-4.11zM347.87 107.73h4.11v4.45h-4.11zM405.40 116.63h4.11v4.45h-4.11zM360.20 125.53h4.11v4.45h-4.11zM413.62 129.98h4.11v4.45h-4.11zM364.31 147.77h4.11v4.45h-4.11zM417.73 156.67h4.11v4.45h-4.11zM376.64 183.37h4.11v4.45h-4.11zM380.75 201.16h4.11v4.45h-4.11zM413.62 210.06h4.11v4.45h-4.11zM413.62 214.51h4.11v4.45h-4.11z"/>
<path fill="#fbd22f" d="M401.29 23.20h4.11v4.45h-4.11zM401.29 27.65h4.11v4.45h-4.11zM401.29 32.10h4.11v4.45h-4.11zM401.29 36.55h4.11v4.45h-4.11zM405.40 76.59h4.11v4.45h-4.11zM327.33 94.38h4.11v4.45h-4.11zM409.51 98.83h4.11v4.45h-4.11zM339.65 112.18h4.11v4.45h-4.11zM413.62 112.18h4.11v4.45h-4.11zM351.98 125.53h4.11v4.45h-4.11zM421.84 152.22h4.11v4.45h-4.11zM421.84 156.67h4.11v4.45h-4.11zM372.53 187.81h4.11v4.45h-4.11zM417.73 205.61h4.11v4.45h-4.11zM376.64 218.96h4.11v4.45h-4.11zM376.64 223.41h4.11v4.45h-4.11zM376.64 227.86h4.11v4.45h-4.11zM376.64 232.31h4.11v4.45h-4.11zM376.64 236.75h4.11v4.45h-4.11zM376.64 241.20h4.11v4.45h-4.11z"/>
<path fill="#d9be28" d="M421.84 23.20h4.11v4.45h-4.11zM421.84 27.65h4.11v4.45h-4.11zM421.84 49.89h4.11v4.45h-4.11zM421.84 54.34h4.11v4.45h-4.11zM425.95 94.38h4.11v4.45h-4.11zM339.65 152.22h4.11v4.45h-4.11zM425.95 183.37h4.11v4.45h-4.11zM360.20 187.81h4.11v4.45h-4.11z"/>
<path fill="#abc739" d="M430.05 23.20h4.11v4.45h-4.11zM430.05 94.38h4.11v4.45h-4.11zM315.00 134.43h4.11v4.45h-4.11zM430.05 134.43h4.11v4.45h-4.11z"/>
<path fill="#8bcb51" d="M434.16 23.20h4.11v4.45h-4.11zM434.16 27.65h4.11v4.45h-4.11zM430.05 178.92h4.11v4.45h-4.11zM351.98 183.37h4.11v4.45h-4.11zM360.20 236.75h4.11v4.45h-4.11z"/>
<path fill="#6ecd66" d="M438.27 23.20h4.11v4.45h-4.11zM434.16 76.59h4.11v4.45h-4.11zM434.16 81.04h4.11v4.45h-4.11zM434.16 85.49h4.11v4.45h-4.11zM434.16 89.93h4.11v4.45h-4.11zM434.16 121.08h4.11v4.45h-4.11zM430.05 205.61h4.11v4.45h-4.11zM430.05 210.06h4.11v4.45h-4.11zM430.05 218.96h4.11v4.45h-4.11z"/>
<path fill="#4ecc81" d="M442.38 23.20h4.11v4.45h-4.11zM315.00 152.22h4.11v4.45h-4.11zM351.98 201.16h4.11v4.45h-4.11zM536.89 218.96h4.11v4.45h-4.11zM536.89 236.75h4.11v4.45h-4.11z"/>
<path fill="#38c896" d="M446.49 23.20h4.11v4.45h-4.11zM434.16 161.12h4.11v4.45h-4.11zM434.16 170.02h4.11v4.45h-4.11zM339.65 174.47h4.11v4.45h-4.11zM524.56 214.51h4.11v4.45h-4.11zM520.45 245.65h4.11v4.45h-4.11z"/>
<path fill="#2bc3a8" d="M450.60 23.20h4.11v4.45h-4.11zM442.38 81.04h4.11v4.45h-4.11zM442.38 98.83h4.11v4.45h-4.11zM516.35 241.20h4.11v4.45h-4.11zM520.45 254.55h4.11v4.45h-4.11z"/>
<path fill="#10beba" d="M454.71 23.20h4.11v4.45h-4.11zM450.60 63.24h4.11v4.45h-4.11zM446.49 103.28h4.11v4.45h-4.11zM446.49 107.73h4.11v4.45h-4.11zM347.87 214.51h4.11v4.45h-4.11z"/>
<path fill="#00b8c9" d="M458.82 23.20h4.11v4.45h-4.11zM450.60 81.04h4.11v4.45h-4.11zM450.60 98.83h4.11v4.45h-4.11zM450.60 107.73h4.11v4.45h-4.11zM323.22 178.92h4.11v4.45h-4.11zM331.44 183.37h4.11v4.45h-4.11zM438.27 187.81h4.11v4.45h-4.11zM339.65 201.16h4.11v4.45h-4.11zM343.76 214.51h4.11v4.45h-4.11zM512.24 250.10h4.11v4.45h-4.11z"/>
<path fill="#12b1d6" d="M462.93 23.20h4.11v4.45h-4.11zM458.82 72.14h4.11v4.45h-4.11zM319.11 183.37h4.11v4.45h-4.11zM331.44 192.26h4.11v4.45h-4.11zM536.89 196.71h4.11v4.45h-4.11z"/>
<path fill="#1da9e0" d="M467.04 23.20h4.11v4.45h-4.11zM462.93 76.59h4.11v4.45h-4.11zM446.49 134.43h4.11v4.45h-4.11zM442.38 174.47h4.11v4.45h-4.11zM442.38 187.81h4.11v4.45h-4.11zM442.38 192.26h4.11v4.45h-4.11zM442.38 196.71h4.11v4.45h-4.11zM442.38 201.16h4.11v4.45h-4.11zM442.38 210.06h4.11v4.45h-4.11zM335.55 218.96h4.11v4.45h-4.11zM339.65 236.75h4.11v4.45h-4.11zM508.13 236.75h4.11v4.45h-4.11zM508.13 241.20h4.11v4.45h-4.11zM508.13 245.65h4.11v4.45h-4.11zM508.13 250.10h4.11v4.45h-4.11zM339.65 254.55h4.11v4.45h-4.11z"/>
<path fill="#23a0e5" d="M471.15 23.20h4.11v4.45h-4.11zM467.04 76.59h4.11v4.45h-4.11zM450.60 134.43h4.11v4.45h-4.11zM446.49 156.67h4.11v4.45h-4.11zM446.49 223.41h4.11v4.45h-4.11z"/>
<path fill="#2797eb" d="M475.25 23.20h4.11v4.45h-4.11zM467.04 112.18h4.11v4.45h-4.11zM450.60 156.67h4.11v4.45h-4.11zM327.33 223.41h4.11v4.45h-4.11zM450.60 227.86h4.11v4.45h-4.11zM450.60 232.31h4.11v4.45h-4.11z"/>
<path fill="#2d8ef2" d="M479.36 23.20h4.11v4.45h-4.11zM458.82 129.98h4.11v4.45h-4.11zM454.71 152.22h4.11v4.45h-4.11zM319.11 214.51h4.11v4.45h-4.11zM331.44 254.55h4.11v4.45h-4.11zM454.71 254.55h4.11v4.45h-4.11z"/>
<path fill="#2e86f8" d="M483.47 23.20h4.11v4.45h-4.11zM479.36 49.89h4.11v4.45h-4.11zM479.36 54.34h4.11v4.45h-4.11zM467.04 121.08h4.11v4.45h-4.11zM516.35 192.26h4.11v4.45h-4.11zM504.02 218.96h4.11v4.45h-4.11zM454.71 223.41h4.11v4.45h-4.11zM323.22 236.75h4.11v4.45h-4.11z"/>
<path fill="#317dfc" d="M487.58 23.20h4.11v4.45h-4.11zM483.47 45.44h4.11v4.45h-4.11zM471.15 116.63h4.11v4.45h-4.11zM458.82 152.22h4.11v4.45h-4.11zM528.67 178.92h4.11v4.45h-4.11zM508.13 201.16h4.11v4.45h-4.11zM319.11 241.20h4.11v4.45h-4.11zM323.22 250.10h4.11v4.45h-4.11z"/>
<path fill="#3974ff" d="M491.69 23.20h4.11v4.45h-4.11zM487.58 45.44h4.11v4.45h-4.11zM483.47 72.14h4.11v4.45h-4.11zM475.25 103.28h4.11v4.45h-4.11zM462.93 134.43h4.11v4.45h-4.11zM458.82 165.57h4.11v4.45h-4.11zM458.82 232.31h4.11v4.45h-4.11zM458.82 236.75h4.11v4.45h-4.11z"/>
<path fill="#406dfe" d="M495.80 23.20h4.11v4.45h-4.11zM491.69 40.99h4.11v4.45h-4.11zM487.58 63.24h4.11v4.45h-4.11zM462.93 147.77h4.11v4.45h-4.11zM524.56 174.47h4.11v4.45h-4.11zM520.45 178.92h4.11v4.45h-4.11zM516.35 183.37h4.11v4.45h-4.11zM512.24 187.81h4.11v4.45h-4.11z"/>
<path fill="#4465fd" d="M499.91 23.20h4.11v4.45h-4.11zM495.80 40.99h4.11v4.45h-4.11z"/>
<path fill="#465efb" d="M504.02 23.20h4.11v4.45h-4.11zM499.91 40.99h4.11v4.45h-4.11zM495.80 54.34h4.11v4.45h-4.11zM491.69 67.69h4.11v4.45h-4.11zM479.36 107.73h4.11v4.45h-4.11zM467.04 138.87h4.11v4.45h-4.11zM532.78 156.67h4.11v4.45h-4.11zM528.67 161.12h4.11v4.45h-4.11zM524.56 165.57h4.11v4.45h-4.11zM462.93 170.02h4.11v4.45h-4.11zM508.13 187.81h4.11v4.45h-4.11zM499.91 205.61h4.11v4.45h-4.11zM462.93 232.31h4.11v4.45h-4.11zM462.93 236.75h4.11v4.45h-4.11z"/>
<path fill="#4757f7" d="M508.13 23.20h4.11v4.45h-4.11zM504.02 40.99h4.11v4.45h-4.11zM495.80 63.24h4.11v4.45h-4.11zM475.25 125.53h4.11v4.45h-4.11zM532.78 152.22h4.11v4.45h-4.11zM528.67 156.67h4.11v4.45h-4.11zM524.56 161.12h4.11v4.45h-4.11zM495.80 218.96h4.11v4.45h-4.11zM491.69 250.10h4.11v4.45h-4.11z"/>
<path fill="#4850f3" d="M512.24 23.20h4.11v4.45h-4.11zM508.13 40.99h4.11v4.45h-4.11zM495.80 72.14h4.11v4.45h-4.11zM491.69 81.04h4.11v4.45h-4.11zM479.36 121.08h4.11v4.45h-4.11zM471.15 138.87h4.11v4.45h-4.11zM532.78 147.77h4.11v4.45h-4.11zM520.45 161.12h4.11v4.45h-4.11z"/>
<path fill="#484bee" d="M516.35 23.20h4.11v4.45h-4.11zM508.13 49.89h4.11v4.45h-4.11zM504.02 58.79h4.11v4.45h-4.11zM499.91 67.69h4.11v4.45h-4.11zM487.58 94.38h4.11v4.45h-4.11zM479.36 125.53h4.11v4.45h-4.11zM528.67 147.77h4.11v4.45h-4.11zM471.15 152.22h4.11v4.45h-4.11zM524.56 152.22h4.11v4.45h-4.11zM520.45 156.67h4.11v4.45h-4.11zM467.04 174.47h4.11v4.45h-4.11zM495.80 201.16h4.11v4.45h-4.11zM491.69 223.41h4.11v4.45h-4.11zM467.04 232.31h4.11v4.45h-4.11zM487.58 254.55h4.11v4.45h-4.11z"/>
<path fill="#4745e9" d="M520.45 23.20h4.11v4.45h-4.11zM475.25 138.87h4.11v4.45h-4.11zM467.04 196.71h4.11v4.45h-4.11zM467.04 210.06h4.11v4.45h-4.11zM491.69 214.51h4.11v4.45h-4.11zM487.58 241.20h4.11v4.45h-4.11z"/>
<path fill="#4741e5" d="M524.56 23.20h4.11v4.45h-4.11zM520.45 36.55h4.11v4.45h-4.11zM516.35 45.44h4.11v4.45h-4.11zM512.24 54.34h4.11v4.45h-4.11zM495.80 89.93h4.11v4.45h-4.11zM491.69 98.83h4.11v4.45h-4.11zM487.58 112.18h4.11v4.45h-4.11zM532.78 138.87h4.11v4.45h-4.11zM512.24 161.12h4.11v4.45h-4.11zM471.15 165.57h4.11v4.45h-4.11zM491.69 205.61h4.11v4.45h-4.11zM471.15 254.55h4.11v4.45h-4.11z"/>
<path fill="#4537d5" d="M536.89 23.20h4.11v4.45h-4.11zM532.78 32.10h4.11v4.45h-4.11zM528.67 40.99h4.11v4.45h-4.11zM524.56 49.89h4.11v4.45h-4.11zM512.24 67.69h4.11v4.45h-4.11zM508.13 76.59h4.11v4.45h-4.11zM504.02 94.38h4.11v4.45h-4.11zM499.91 103.28h4.11v4.45h-4.11zM495.80 112.18h4.11v4.45h-4.11zM479.36 152.22h4.11v4.45h-4.11zM508.13 156.67h4.11v4.45h-4.11zM475.25 165.57h4.11v4.45h-4.11zM504.02 165.57h4.11v4.45h-4.11zM499.91 174.47h4.11v4.45h-4.11zM491.69 187.81h4.11v4.45h-4.11zM487.58 201.16h4.11v4.45h-4.11zM483.47 227.86h4.11v4.45h-4.11zM475.25 232.31h4.11v4.45h-4.11zM475.25 236.75h4.11v4.45h-4.11zM475.25 241.20h4.11v4.45h-4.11zM479.36 241.20h4.11v4.45h-4.11zM479.36 245.65h4.11v4.45h-4.11zM479.36 250.10h4.11v4.45h-4.11z"/>
<path fill="#f8f818" d="M356.09 27.65h4.11v4.45h-4.11zM360.20 27.65h4.11v4.45h-4.11zM364.31 27.65h4.11v4.45h-4.11zM351.98 32.10h4.11v4.45h-4.11zM356.09 32.10h4.11v4.45h-4.11zM360.20 32.10h4.11v4.45h-4.11zM364.31 32.10h4.11v4.45h-4.11zM368.42 32.10h4.11v4.45h-4.11zM351.98 36.55h4.11v4.45h-4.11zM356.09 36.55h4.11v4.45h-4.11zM360.20 36.55h4.11v4.45h-4.11zM364.31 36.55h4.11v4.45h-4.11zM368.42 36.55h4.11v4.45h-4.11zM351.98 40.99h4.11v4.45h-4.11zM356.09 40.99h4.11v4.45h-4.11zM360.20 40.99h4.11v4.45h-4.11zM364.31 40.99h4.11v4.45h-4.11zM368.42 40.99h4.11v4.45h-4.11zM351.98 45.44h4.11v4.45h-4.11zM356.09 45.44h4.11v4.45h-4.11zM360.20 45.44h4.11v4.45h-4.11zM364.31 45.44h4.11v4.45h-4.11zM368.42 45.44h4.11v4.45h-4.11zM351.98 49.89h4.11v4.45h-4.11zM356.09 49.89h4.11v4.45h-4.11zM360.20 49.89h4.11v4.45h-4.11zM364.31 49.89h4.11v4.45h-4.11zM368.42 49.89h4.11v4.45h-4.11zM351.98 54.34h4.11v4.45h-4.11zM356.09 54.34h4.11v4.45h-4.11zM360.20 54.34h4.11v4.45h-4.11zM364.31 54.34h4.11v4.45h-4.11zM368.42 54.34h4.11v4.45h-4.11zM356.09 58.79h4.11v4.45h-4.11zM360.20 58.79h4.11v4.45h-4.11zM364.31 58.79h4.11v4.45h-4.11zM368.42 58.79h4.11v4.45h-4.11zM372.53 58.79h4.11v4.45h-4.11zM360.20 63.24h4.11v4.45h-4.11zM364.31 63.24h4.11v4.45h-4.11zM368.42 63.24h4.11v4.45h-4.11zM372.53 63.24h4.11v4.45h-4.11zM368.42 67.69h4.11v4.45h-4.11zM372.53 67.69h4.11v4.45h-4.11zM372.53 72.14h4.11v4.45h-4.11zM376.64 72.14h4.11v4.45h-4.11zM372.53 76.59h4.11v4.45h-4.11zM376.64 76.59h4.11v4.45h-4.11zM380.75 76.59h4.11v4.45h-4.11zM368.42 81.04h4.11v4.45h-4.11zM372.53 81.04h4.11v4.45h-4.11zM376.64 81.04h4.11v4.45h-4.11zM380.75 81.04h4.11v4.45h-4.11zM368.42 85.49h4.11v4.45h-4.11zM372.53 85.49h4.11v4.45h-4.11zM384.85 85.49h4.11v4.45h-4.11zM372.53 89.93h4.11v4.45h-4.11zM372.53 94.38h4.11v4.45h-4.11zM372.53 98.83h4.11v4.45h-4.11zM372.53 103.28h4.11v4.45h-4.11zM376.64 112.18h4.11v4.45h-4.11zM376.64 116.63h4.11v4.45h-4.11zM376.64 121.08h4.11v4.45h-4.11zM384.85 121.08h4.11v4.45h-4.11zM380.75 125.53h4.11v4.45h-4.11zM384.85 125.53h4.11v4.45h-4.11zM380.75 129.98h4.11v4.45h-4.11zM384.85 129.98h4.11v4.45h-4.11zM380.75 134.43h4.11v4.45h-4.11zM384.85 134.43h4.11v4.45h-4.11zM380.75 138.87h4.11v4.45h-4.11zM384.85 138.87h4.11v4.45h-4.11zM380.75 143.32h4.11v4.45h-4.11zM384.85 143.32h4.11v4.45h-4.11zM380.75 147.77h4.11v4.45h-4.11zM384.85 147.77h4.11v4.45h-4.11zM380.75 152.22h4.11v4.45h-4.11zM384.85 152.22h4.11v4.45h-4.11zM384.85 156.67h4.11v4.45h-4.11zM397.18 174.47h4.11v4.45h-4.11zM393.07 178.92h4.11v4.45h-4.11zM397.18 178.92h4.11v4.45h-4.11zM401.29 178.92h4.11v4.45h-4.11zM393.07 183.37h4.11v4.45h-4.11zM405.40 183.37h4.11v4.45h-4.11zM393.07 187.81h4.11v4.45h-4.11zM393.07 192.26h4.11v4.45h-4.11zM393.07 196.71h4.11v4.45h-4.11zM405.40 196.71h4.11v4.45h-4.11zM405.40 201.16h4.11v4.45h-4.11zM401.29 205.61h4.11v4.45h-4.11zM397.18 236.75h4.11v4.45h-4.11zM401.29 236.75h4.11v4.45h-4.11zM397.18 241.20h4.11v4.45h-4.11zM401.29 241.20h4.11v4.45h-4.11zM397.18 245.65h4.11v4.45h-4.11zM401.29 245.65h4.11v4.45h-4.11z"/>
<path fill="#e8bb2e" d="M417.73 27.65h4.11v4.45h-4.11zM417.73 32.10h4.11v4.45h-4.11zM417.73 36.55h4.11v4.45h-4.11zM417.73 40.99h4.11v4.45h-4.11zM421.84 85.49h4.11v4.45h-4.11zM425.95 112.18h4.11v4.45h-4.11zM315.00 116.63h4.11v4.45h-4.11zM319.11 121.08h4.11v4.45h-4.11zM327.33 134.43h4.11v4.45h-4.11zM339.65 147.77h4.11v4.45h-4.11zM425.95 165.57h4.11v4.45h-4.11zM425.95 170.02h4.11v4.45h-4.11zM364.31 214.51h4.11v4.45h-4.11zM364.31 218.96h4.11v4.45h-4.11z"/>
<path fill="#c2c32c" d="M425.95 27.65h4.11v4.45h-4.11zM425.95 32.10h4.11v4.45h-4.11zM425.95 49.89h4.11v4.45h-4.11zM425.95 54.34h4.11v4.45h-4.11zM425.95 58.79h4.11v4.45h-4.11zM425.95 63.24h4.11v4.45h-4.11zM319.11 134.43h4.11v4.45h-4.11zM360.20 196.71h4.11v4.45h-4.11zM425.95 236.75h4.11v4.45h-4.11zM364.31 241.20h4.11v4.45h-4.11zM364.31 245.65h4.11v4.45h-4.11zM364.31 250.10h4.11v4.45h-4.11z"/>
<path fill="#a7c73b" d="M430.05 27.65h4.11v4.45h-4.11zM430.05 32.10h4.11v4.45h-4.11zM430.05 89.93h4.11v4.45h-4.11zM430.05 152.22h4.11v4.45h-4.11zM430.05 156.67h4.11v4.45h-4.11z"/>
<path fill="#6bcd69" d="M438.27 27.65h4.11v4.45h-4.11zM323.22 156.67h4.11v4.45h-4.11zM356.09 210.06h4.11v4.45h-4.11zM430.05 223.41h4.11v4.45h-4.11zM430.05 227.86h4.11v4.45h-4.11zM430.05 232.31h4.11v4.45h-4.11zM430.05 236.75h4.11v4.45h-4.11z"/>
<path fill="#4bcb84" d="M442.38 27.65h4.11v4.45h-4.11zM438.27 67.69h4.11v4.45h-4.11zM323.22 161.12h4.11v4.45h-4.11zM356.09 241.20h4.11v4.45h-4.11zM528.67 245.65h4.11v4.45h-4.11z"/>
<path fill="#36c899" d="M446.49 27.65h4.11v4.45h-4.11zM442.38 63.24h4.11v4.45h-4.11zM438.27 121.08h4.11v4.45h-4.11zM323.22 165.57h4.11v4.45h-4.11zM434.16 165.57h4.11v4.45h-4.11zM434.16 174.47h4.11v4.45h-4.11zM347.87 196.71h4.11v4.45h-4.11zM351.98 210.06h4.11v4.45h-4.11zM356.09 254.55h4.11v4.45h-4.11z"/>
<path fill="#29c3aa" d="M450.60 27.65h4.11v4.45h-4.11zM442.38 85.49h4.11v4.45h-4.11zM442.38 112.18h4.11v4.45h-4.11zM343.76 192.26h4.11v4.45h-4.11zM347.87 205.61h4.11v4.45h-4.11zM524.56 210.06h4.11v4.45h-4.11zM520.45 214.51h4.11v4.45h-4.11zM351.98 218.96h4.11v4.45h-4.11z"/>
<path fill="#0dbdbc" d="M454.71 27.65h4.11v4.45h-4.11zM446.49 81.04h4.11v4.45h-4.11zM323.22 174.47h4.11v4.45h-4.11zM520.45 210.06h4.11v4.45h-4.11zM351.98 254.55h4.11v4.45h-4.11z"/>
<path fill="#01b7ca" d="M458.82 27.65h4.11v4.45h-4.11zM454.71 67.69h4.11v4.45h-4.11zM450.60 85.49h4.11v4.45h-4.11zM446.49 121.08h4.11v4.45h-4.11zM438.27 192.26h4.11v4.45h-4.11zM438.27 201.16h4.11v4.45h-4.11zM438.27 205.61h4.11v4.45h-4.11zM438.27 214.51h4.11v4.45h-4.11zM347.87 254.55h4.11v4.45h-4.11z"/>
<path fill="#14b0d8" d="M462.93 27.65h4.11v4.45h-4.11zM450.60 121.08h4.11v4.45h-4.11zM327.33 187.81h4.11v4.45h-4.11zM339.65 218.96h4.11v4.45h-4.11z"/>
<path fill="#1da8e1" d="M467.04 27.65h4.11v4.45h-4.11zM458.82 116.63h4.11v4.45h-4.11zM454.71 121.08h4.11v4.45h-4.11zM442.38 178.92h4.11v4.45h-4.11zM442.38 183.37h4.11v4.45h-4.11zM315.00 187.81h4.11v4.45h-4.11zM323.22 192.26h4.11v4.45h-4.11zM327.33 196.71h4.11v4.45h-4.11zM331.44 205.61h4.11v4.45h-4.11zM508.13 232.31h4.11v4.45h-4.11zM339.65 241.20h4.11v4.45h-4.11zM339.65 245.65h4.11v4.45h-4.11zM339.65 250.10h4.11v4.45h-4.11zM508.13 254.55h4.11v4.45h-4.11z"/>
<path fill="#249fe5" d="M471.15 27.65h4.11v4.45h-4.11zM462.93 116.63h4.11v4.45h-4.11zM458.82 121.08h4.11v4.45h-4.11zM446.49 161.12h4.11v4.45h-4.11zM319.11 196.71h4.11v4.45h-4.11zM323.22 201.16h4.11v4.45h-4.11zM516.35 201.16h4.11v4.45h-4.11zM327.33 210.06h4.11v4.45h-4.11zM446.49 214.51h4.11v4.45h-4.11zM446.49 218.96h4.11v4.45h-4.11zM335.55 236.75h4.11v4.45h-4.11z"/>
<path fill="#2895ec" d="M475.25 27.65h4.11v4.45h-4.11zM471.15 76.59h4.11v4.45h-4.11zM458.82 125.53h4.11v4.45h-4.11zM454.71 134.43h4.11v4.45h-4.11zM450.60 161.12h4.11v4.45h-4.11zM315.00 201.16h4.11v4.45h-4.11zM319.11 205.61h4.11v4.45h-4.11zM323.22 214.51h4.11v4.45h-4.11zM450.60 223.41h4.11v4.45h-4.11zM331.44 236.75h4.11v4.45h-4.11zM504.02 254.55h4.11v4.45h-4.11z"/>
<path fill="#2d8cf3" d="M479.36 27.65h4.11v4.45h-4.11zM475.25 72.14h4.11v4.45h-4.11zM471.15 89.93h4.11v4.45h-4.11zM532.78 183.37h4.11v4.45h-4.11zM524.56 187.81h4.11v4.45h-4.11zM504.02 227.86h4.11v4.45h-4.11zM327.33 236.75h4.11v4.45h-4.11z"/>
<path fill="#2e84f8" d="M483.47 27.65h4.11v4.45h-4.11zM479.36 58.79h4.11v4.45h-4.11zM479.36 63.24h4.11v4.45h-4.11zM475.25 81.04h4.11v4.45h-4.11zM471.15 112.18h4.11v4.45h-4.11zM454.71 170.02h4.11v4.45h-4.11zM454.71 174.47h4.11v4.45h-4.11zM454.71 178.92h4.11v4.45h-4.11zM454.71 183.37h4.11v4.45h-4.11zM454.71 196.71h4.11v4.45h-4.11zM512.24 196.71h4.11v4.45h-4.11zM454.71 210.06h4.11v4.45h-4.11zM454.71 214.51h4.11v4.45h-4.11zM454.71 218.96h4.11v4.45h-4.11zM319.11 227.86h4.11v4.45h-4.11zM327.33 250.10h4.11v4.45h-4.11z"/>
<path fill="#327cfc" d="M487.58 27.65h4.11v4.45h-4.11zM483.47 49.89h4.11v4.45h-4.11zM479.36 76.59h4.11v4.45h-4.11zM462.93 129.98h4.11v4.45h-4.11zM315.00 232.31h4.11v4.45h-4.11zM499.91 245.65h4.11v4.45h-4.11z"/>
<path fill="#3b73ff" d="M491.69 27.65h4.11v4.45h-4.11zM487.58 49.89h4.11v4.45h-4.11zM475.25 107.73h4.11v4.45h-4.11zM471.15 121.08h4.11v4.45h-4.11zM458.82 170.02h4.11v4.45h-4.11zM528.67 174.47h4.11v4.45h-4.11zM508.13 196.71h4.11v4.45h-4.11zM458.82 227.86h4.11v4.45h-4.11z"/>
<path fill="#416bfe" d="M495.80 27.65h4.11v4.45h-4.11zM491.69 45.44h4.11v4.45h-4.11zM467.04 129.98h4.11v4.45h-4.11zM532.78 165.57h4.11v4.45h-4.11zM528.67 170.02h4.11v4.45h-4.11zM499.91 218.96h4.11v4.45h-4.11zM495.80 254.55h4.11v4.45h-4.11z"/>
<path fill="#4564fd" d="M499.91 27.65h4.11v4.45h-4.11zM491.69 58.79h4.11v4.45h-4.11zM479.36 94.38h4.11v4.45h-4.11zM462.93 161.12h4.11v4.45h-4.11zM532.78 161.12h4.11v4.45h-4.11zM528.67 165.57h4.11v4.45h-4.11zM524.56 170.02h4.11v4.45h-4.11zM520.45 174.47h4.11v4.45h-4.11zM516.35 178.92h4.11v4.45h-4.11zM495.80 241.20h4.11v4.45h-4.11z"/>
<path fill="#475dfa" d="M504.02 27.65h4.11v4.45h-4.11zM471.15 129.98h4.11v4.45h-4.11zM467.04 143.32h4.11v4.45h-4.11zM536.89 152.22h4.11v4.45h-4.11zM520.45 170.02h4.11v4.45h-4.11zM462.93 174.47h4.11v4.45h-4.11zM462.93 227.86h4.11v4.45h-4.11zM495.80 227.86h4.11v4.45h-4.11z"/>
<path fill="#4756f7" d="M508.13 27.65h4.11v4.45h-4.11zM499.91 54.34h4.11v4.45h-4.11zM491.69 76.59h4.11v4.45h-4.11zM479.36 116.63h4.11v4.45h-4.11zM536.89 147.77h4.11v4.45h-4.11zM467.04 156.67h4.11v4.45h-4.11zM520.45 165.57h4.11v4.45h-4.11zM508.13 183.37h4.11v4.45h-4.11zM491.69 245.65h4.11v4.45h-4.11z"/>
<path fill="#484ff2" d="M512.24 27.65h4.11v4.45h-4.11zM504.02 54.34h4.11v4.45h-4.11zM499.91 63.24h4.11v4.45h-4.11zM487.58 89.93h4.11v4.45h-4.11zM483.47 107.73h4.11v4.45h-4.11zM475.25 129.98h4.11v4.45h-4.11zM471.15 143.32h4.11v4.45h-4.11zM467.04 165.57h4.11v4.45h-4.11zM516.35 165.57h4.11v4.45h-4.11zM508.13 178.92h4.11v4.45h-4.11zM491.69 232.31h4.11v4.45h-4.11zM467.04 254.55h4.11v4.45h-4.11z"/>
<path fill="#463bde" d="M528.67 27.65h4.11v4.45h-4.11zM516.35 54.34h4.11v4.45h-4.11zM508.13 67.69h4.11v4.45h-4.11zM504.02 76.59h4.11v4.45h-4.11zM499.91 89.93h4.11v4.45h-4.11zM495.80 98.83h4.11v4.45h-4.11zM487.58 121.08h4.11v4.45h-4.11zM479.36 138.87h4.11v4.45h-4.11zM528.67 138.87h4.11v4.45h-4.11zM475.25 156.67h4.11v4.45h-4.11zM471.15 178.92h4.11v4.45h-4.11zM471.15 183.37h4.11v4.45h-4.11zM487.58 218.96h4.11v4.45h-4.11zM471.15 227.86h4.11v4.45h-4.11zM483.47 241.20h4.11v4.45h-4.11zM483.47 245.65h4.11v4.45h-4.11z"/>
<path fill="#4535d2" d="M536.89 27.65h4.11v4.45h-4.11zM532.78 36.55h4.11v4.45h-4.11zM528.67 45.44h4.11v4.45h-4.11zM516.35 63.24h4.11v4.45h-4.11zM508.13 81.04h4.11v4.45h-4.11zM504.02 98.83h4.11v4.45h-4.11zM499.91 107.73h4.11v4.45h-4.11zM491.69 121.08h4.11v4.45h-4.11zM528.67 134.43h4.11v4.45h-4.11zM483.47 138.87h4.11v4.45h-4.11zM475.25 170.02h4.11v4.45h-4.11zM487.58 196.71h4.11v4.45h-4.11zM483.47 223.41h4.11v4.45h-4.11zM479.36 236.75h4.11v4.45h-4.11z"/>
<path fill="#f5e327" d="M393.07 32.10h4.11v4.45h-4.11zM393.07 36.55h4.11v4.45h-4.11zM315.00 58.79h4.11v4.45h-4.11zM315.00 63.24h4.11v4.45h-4.11zM319.11 67.69h4.11v4.45h-4.11zM323.22 72.14h4.11v4.45h-4.11zM397.18 72.14h4.11v4.45h-4.11zM327.33 76.59h4.11v4.45h-4.11zM331.44 81.04h4.11v4.45h-4.11zM335.55 85.49h4.11v4.45h-4.11zM339.65 89.93h4.11v4.45h-4.11zM401.29 98.83h4.11v4.45h-4.11zM401.29 103.28h4.11v4.45h-4.11zM351.98 112.18h4.11v4.45h-4.11zM409.51 125.53h4.11v4.45h-4.11zM413.62 134.43h4.11v4.45h-4.11zM364.31 143.32h4.11v4.45h-4.11zM376.64 178.92h4.11v4.45h-4.11z"/>
<path fill="#f7db2a" d="M397.18 32.10h4.11v4.45h-4.11zM397.18 36.55h4.11v4.45h-4.11zM315.00 76.59h4.11v4.45h-4.11zM401.29 76.59h4.11v4.45h-4.11zM327.33 85.49h4.11v4.45h-4.11zM331.44 89.93h4.11v4.45h-4.11zM335.55 94.38h4.11v4.45h-4.11zM343.76 107.73h4.11v4.45h-4.11zM409.51 116.63h4.11v4.45h-4.11zM360.20 134.43h4.11v4.45h-4.11zM417.73 134.43h4.11v4.45h-4.11zM368.42 170.02h4.11v4.45h-4.11zM417.73 183.37h4.11v4.45h-4.11zM376.64 192.26h4.11v4.45h-4.11zM380.75 218.96h4.11v4.45h-4.11zM380.75 250.10h4.11v4.45h-4.11zM413.62 250.10h4.11v4.45h-4.11z"/>
<path fill="#d6be27" d="M421.84 32.10h4.11v4.45h-4.11zM421.84 36.55h4.11v4.45h-4.11zM421.84 40.99h4.11v4.45h-4.11zM421.84 45.44h4.11v4.45h-4.11zM323.22 134.43h4.11v4.45h-4.11zM425.95 187.81h4.11v4.45h-4.11zM425.95 192.26h4.11v4.45h-4.11zM425.95 196.71h4.11v4.45h-4.11z"/>
<path fill="#88cb53" d="M434.16 32.10h4.11v4.45h-4.11zM323.22 152.22h4.11v4.45h-4.11zM360.20 241.20h4.11v4.45h-4.11z"/>
<path fill="#67cd6c" d="M438.27 32.10h4.11v4.45h-4.11zM315.00 147.77h4.11v4.45h-4.11zM319.11 152.22h4.11v4.45h-4.11zM347.87 178.92h4.11v4.45h-4.11zM351.98 192.26h4.11v4.45h-4.11zM528.67 227.86h4.11v4.45h-4.11zM532.78 227.86h4.11v4.45h-4.11zM528.67 232.31h4.11v4.45h-4.11zM430.05 241.20h4.11v4.45h-4.11zM430.05 254.55h4.11v4.45h-4.11z"/>
<path fill="#48cb86" d="M442.38 32.10h4.11v4.45h-4.11zM442.38 36.55h4.11v4.45h-4.11zM442.38 40.99h4.11v4.45h-4.11zM438.27 103.28h4.11v4.45h-4.11zM438.27 107.73h4.11v4.45h-4.11zM347.87 187.81h4.11v4.45h-4.11zM524.56 245.65h4.11v4.45h-4.11z"/>
<path fill="#35c79b" d="M446.49 32.10h4.11v4.45h-4.11zM331.44 170.02h4.11v4.45h-4.11zM528.67 254.55h4.11v4.45h-4.11z"/>
<path fill="#27c2ac" d="M450.60 32.10h4.11v4.45h-4.11zM446.49 63.24h4.11v4.45h-4.11zM442.38 89.93h4.11v4.45h-4.11zM442.38 94.38h4.11v4.45h-4.11zM323.22 170.02h4.11v4.45h-4.11zM351.98 245.65h4.11v4.45h-4.11zM516.35 245.65h4.11v4.45h-4.11z"/>
<path fill="#09bdbd" d="M454.71 32.10h4.11v4.45h-4.11zM454.71 36.55h4.11v4.45h-4.11zM446.49 85.49h4.11v4.45h-4.11zM446.49 98.83h4.11v4.45h-4.11zM438.27 134.43h4.11v4.45h-4.11zM339.65 192.26h4.11v4.45h-4.11zM343.76 205.61h4.11v4.45h-4.11zM347.87 227.86h4.11v4.45h-4.11zM347.87 232.31h4.11v4.45h-4.11zM347.87 236.75h4.11v4.45h-4.11z"/>
<path fill="#02b7cc" d="M458.82 32.10h4.11v4.45h-4.11zM458.82 36.55h4.11v4.45h-4.11zM450.60 89.93h4.11v4.45h-4.11zM450.60 94.38h4.11v4.45h-4.11zM450.60 112.18h4.11v4.45h-4.11zM442.38 129.98h4.11v4.45h-4.11zM319.11 178.92h4.11v4.45h-4.11zM438.27 178.92h4.11v4.45h-4.11zM438.27 183.37h4.11v4.45h-4.11zM335.55 192.26h4.11v4.45h-4.11zM438.27 196.71h4.11v4.45h-4.11zM528.67 201.16h4.11v4.45h-4.11zM438.27 210.06h4.11v4.45h-4.11zM343.76 218.96h4.11v4.45h-4.11zM512.24 223.41h4.11v4.45h-4.11zM512.24 254.55h4.11v4.45h-4.11z"/>
<path fill="#16afd9" d="M462.93 32.10h4.11v4.45h-4.11zM462.93 36.55h4.11v4.45h-4.11zM458.82 76.59h4.11v4.45h-4.11zM442.38 138.87h4.11v4.45h-4.11zM315.00 183.37h4.11v4.45h-4.11zM335.55 205.61h4.11v4.45h-4.11z"/>
<path fill="#1ea7e1" d="M467.04 32.10h4.11v4.45h-4.11zM462.93 81.04h4.11v4.45h-4.11z"/>
<path fill="#249ee6" d="M471.15 32.10h4.11v4.45h-4.11zM467.04 81.04h4.11v4.45h-4.11zM446.49 165.57h4.11v4.45h-4.11zM528.67 192.26h4.11v4.45h-4.11zM446.49 196.71h4.11v4.45h-4.11zM520.45 196.71h4.11v4.45h-4.11zM446.49 201.16h4.11v4.45h-4.11zM446.49 205.61h4.11v4.45h-4.11zM446.49 210.06h4.11v4.45h-4.11zM508.13 218.96h4.11v4.45h-4.11zM331.44 223.41h4.11v4.45h-4.11zM335.55 241.20h4.11v4.45h-4.11z"/>
<path fill="#2994ed" d="M475.25 32.10h4.11v4.45h-4.11zM475.25 36.55h4.11v4.45h-4.11zM462.93 121.08h4.11v4.45h-4.11zM450.60 165.57h4.11v4.45h-4.11zM450.60 218.96h4.11v4.45h-4.11zM504.02 250.10h4.11v4.45h-4.11z"/>
<path fill="#2d8bf4" d="M479.36 32.10h4.11v4.45h-4.11zM471.15 94.38h4.11v4.45h-4.11zM454.71 156.67h4.11v4.45h-4.11zM315.00 210.06h4.11v4.45h-4.11zM319.11 218.96h4.11v4.45h-4.11zM323.22 227.86h4.11v4.45h-4.11zM454.71 241.20h4.11v4.45h-4.11zM454.71 245.65h4.11v4.45h-4.11zM454.71 250.10h4.11v4.45h-4.11z"/>
<path fill="#2e83f9" d="M483.47 32.10h4.11v4.45h-4.11zM479.36 67.69h4.11v4.45h-4.11zM458.82 138.87h4.11v4.45h-4.11zM532.78 178.92h4.11v4.45h-4.11zM454.71 187.81h4.11v4.45h-4.11zM520.45 187.81h4.11v4.45h-4.11zM454.71 192.26h4.11v4.45h-4.11zM454.71 201.16h4.11v4.45h-4.11zM454.71 205.61h4.11v4.45h-4.11zM315.00 218.96h4.11v4.45h-4.11zM323.22 241.20h4.11v4.45h-4.11zM327.33 254.55h4.11v4.45h-4.11z"/>
<path fill="#337afd" d="M487.58 32.10h4.11v4.45h-4.11zM483.47 54.34h4.11v4.45h-4.11zM483.47 58.79h4.11v4.45h-4.11zM475.25 89.93h4.11v4.45h-4.11zM458.82 156.67h4.11v4.45h-4.11zM532.78 174.47h4.11v4.45h-4.11zM315.00 236.75h4.11v4.45h-4.11zM319.11 245.65h4.11v4.45h-4.11zM323.22 254.55h4.11v4.45h-4.11z"/>
<path fill="#3c71ff" d="M491.69 32.10h4.11v4.45h-4.11zM532.78 170.02h4.11v4.45h-4.11zM458.82 174.47h4.11v4.45h-4.11zM458.82 178.92h4.11v4.45h-4.11zM504.02 205.61h4.11v4.45h-4.11zM458.82 223.41h4.11v4.45h-4.11zM499.91 227.86h4.11v4.45h-4.11z"/>
<path fill="#426afe" d="M495.80 32.10h4.11v4.45h-4.11zM487.58 67.69h4.11v4.45h-4.11zM462.93 152.22h4.11v4.45h-4.11zM536.89 161.12h4.11v4.45h-4.11zM504.02 201.16h4.11v4.45h-4.11z"/>
<path fill="#4562fc" d="M499.91 32.10h4.11v4.45h-4.11zM495.80 45.44h4.11v4.45h-4.11zM479.36 98.83h4.11v4.45h-4.11zM467.04 134.43h4.11v4.45h-4.11zM536.89 156.67h4.11v4.45h-4.11zM512.24 183.37h4.11v4.45h-4.11zM499.91 210.06h4.11v4.45h-4.11zM495.80 236.75h4.11v4.45h-4.11zM462.93 254.55h4.11v4.45h-4.11z"/>
<path fill="#475bfa" d="M504.02 32.10h4.11v4.45h-4.11zM499.91 45.44h4.11v4.45h-4.11zM495.80 58.79h4.11v4.45h-4.11zM487.58 81.04h4.11v4.45h-4.11zM479.36 112.18h4.11v4.45h-4.11zM467.04 147.77h4.11v4.45h-4.11zM516.35 174.47h4.11v4.45h-4.11zM462.93 178.92h4.11v4.45h-4.11zM462.93 183.37h4.11v4.45h-4.11zM462.93 223.41h4.11v4.45h-4.11z"/>
<path fill="#4848ec" d="M516.35 32.10h4.11v4.45h-4.11zM512.24 45.44h4.11v4.45h-4.11zM508.13 54.34h4.11v4.45h-4.11zM495.80 81.04h4.11v4.45h-4.11zM487.58 98.83h4.11v4.45h-4.11zM483.47 116.63h4.11v4.45h-4.11zM508.13 174.47h4.11v4.45h-4.11zM467.04 187.81h4.11v4.45h-4.11zM467.04 218.96h4.11v4.45h-4.11zM491.69 218.96h4.11v4.45h-4.11zM467.04 223.41h4.11v4.45h-4.11zM487.58 250.10h4.11v4.45h-4.11z"/>
<path fill="#4434d0" d="M536.89 32.10h4.11v4.45h-4.11zM532.78 40.99h4.11v4.45h-4.11zM524.56 54.34h4.11v4.45h-4.11zM520.45 58.79h4.11v4.45h-4.11zM512.24 72.14h4.11v4.45h-4.11zM508.13 85.49h4.11v4.45h-4.11zM508.13 89.93h4.11v4.45h-4.11zM504.02 103.28h4.11v4.45h-4.11zM499.91 112.18h4.11v4.45h-4.11zM495.80 116.63h4.11v4.45h-4.11zM487.58 129.98h4.11v4.45h-4.11zM532.78 129.98h4.11v4.45h-4.11zM483.47 143.32h4.11v4.45h-4.11zM516.35 143.32h4.11v4.45h-4.11zM512.24 147.77h4.11v4.45h-4.11zM479.36 156.67h4.11v4.45h-4.11zM504.02 161.12h4.11v4.45h-4.11zM499.91 170.02h4.11v4.45h-4.11zM475.25 174.47h4.11v4.45h-4.11zM495.80 178.92h4.11v4.45h-4.11zM483.47 218.96h4.11v4.45h-4.11zM475.25 223.41h4.11v4.45h-4.11zM475.25 227.86h4.11v4.45h-4.11zM479.36 232.31h4.11v4.45h-4.11z"/>
<path fill="#bec32d" d="M425.95 36.55h4.11v4.45h-4.11zM425.95 40.99h4.11v4.45h-4.11zM425.95 45.44h4.11v4.45h-4.11zM430.05 112.18h4.11v4.45h-4.11zM315.00 129.98h4.11v4.45h-4.11zM356.09 183.37h4.11v4.45h-4.11zM425.95 223.41h4.11v4.45h-4.11zM425.95 232.31h4.11v4.45h-4.11z"/>
<path fill="#a4c83e" d="M430.05 36.55h4.11v4.45h-4.11zM430.05 40.99h4.11v4.45h-4.11zM430.05 45.44h4.11v4.45h-4.11zM430.05 49.89h4.11v4.45h-4.11zM430.05 54.34h4.11v4.45h-4.11zM430.05 85.49h4.11v4.45h-4.11zM327.33 152.22h4.11v4.45h-4.11zM339.65 161.12h4.11v4.45h-4.11zM360.20 223.41h4.11v4.45h-4.11z"/>
<path fill="#84cc56" d="M434.16 36.55h4.11v4.45h-4.11zM434.16 40.99h4.11v4.45h-4.11zM434.16 45.44h4.11v4.45h-4.11zM434.16 49.89h4.11v4.45h-4.11zM319.11 147.77h4.11v4.45h-4.11zM327.33 156.67h4.11v4.45h-4.11zM360.20 245.65h4.11v4.45h-4.11z"/>
<path fill="#64cd6f" d="M438.27 36.55h4.11v4.45h-4.11zM438.27 40.99h4.11v4.45h-4.11zM438.27 45.44h4.11v4.45h-4.11zM335.55 165.57h4.11v4.45h-4.11zM532.78 232.31h4.11v4.45h-4.11zM528.67 236.75h4.11v4.45h-4.11zM430.05 245.65h4.11v4.45h-4.11zM430.05 250.10h4.11v4.45h-4.11z"/>
<path fill="#33c79d" d="M446.49 36.55h4.11v4.45h-4.11zM446.49 40.99h4.11v4.45h-4.11zM446.49 45.44h4.11v4.45h-4.11zM343.76 183.37h4.11v4.45h-4.11zM520.45 218.96h4.11v4.45h-4.11zM536.89 250.10h4.11v4.45h-4.11z"/>
<path fill="#25c2ae" d="M450.60 36.55h4.11v4.45h-4.11zM450.60 40.99h4.11v4.45h-4.11zM315.00 165.57h4.11v4.45h-4.11zM516.35 223.41h4.11v4.45h-4.11z"/>
<path fill="#1fa6e2" d="M467.04 36.55h4.11v4.45h-4.11zM467.04 40.99h4.11v4.45h-4.11zM462.93 85.49h4.11v4.45h-4.11zM462.93 89.93h4.11v4.45h-4.11zM462.93 94.38h4.11v4.45h-4.11zM462.93 98.83h4.11v4.45h-4.11zM462.93 103.28h4.11v4.45h-4.11zM462.93 107.73h4.11v4.45h-4.11zM446.49 138.87h4.11v4.45h-4.11zM536.89 192.26h4.11v4.45h-4.11zM524.56 196.71h4.11v4.45h-4.11zM331.44 210.06h4.11v4.45h-4.11zM335.55 223.41h4.11v4.45h-4.11zM508.13 227.86h4.11v4.45h-4.11z"/>
<path fill="#259ce7" d="M471.15 36.55h4.11v4.45h-4.11zM450.60 138.87h4.11v4.45h-4.11zM446.49 170.02h4.11v4.45h-4.11zM446.49 174.47h4.11v4.45h-4.11zM446.49 178.92h4.11v4.45h-4.11zM446.49 183.37h4.11v4.45h-4.11zM446.49 187.81h4.11v4.45h-4.11zM446.49 192.26h4.11v4.45h-4.11zM327.33 214.51h4.11v4.45h-4.11zM335.55 245.65h4.11v4.45h-4.11z"/>
<path fill="#2d8af5" d="M479.36 36.55h4.11v4.45h-4.11zM471.15 98.83h4.11v4.45h-4.11zM454.71 161.12h4.11v4.45h-4.11zM504.02 223.41h4.11v4.45h-4.11zM454.71 236.75h4.11v4.45h-4.11zM327.33 241.20h4.11v4.45h-4.11z"/>
<path fill="#2f82fa" d="M483.47 36.55h4.11v4.45h-4.11zM458.82 143.32h4.11v4.45h-4.11zM319.11 232.31h4.11v4.45h-4.11zM499.91 254.55h4.11v4.45h-4.11z"/>
<path fill="#3579fd" d="M487.58 36.55h4.11v4.45h-4.11zM483.47 63.24h4.11v4.45h-4.11zM516.35 187.81h4.11v4.45h-4.11zM512.24 192.26h4.11v4.45h-4.11zM504.02 210.06h4.11v4.45h-4.11zM315.00 241.20h4.11v4.45h-4.11zM499.91 241.20h4.11v4.45h-4.11zM315.00 250.10h4.11v4.45h-4.11zM319.11 250.10h4.11v4.45h-4.11zM315.00 254.55h4.11v4.45h-4.11zM319.11 254.55h4.11v4.45h-4.11zM458.82 254.55h4.11v4.45h-4.11z"/>
<path fill="#4852f4" d="M508.13 36.55h4.11v4.45h-4.11zM504.02 49.89h4.11v4.45h-4.11zM483.47 103.28h4.11v4.45h-4.11zM528.67 152.22h4.11v4.45h-4.11zM524.56 156.67h4.11v4.45h-4.11zM467.04 161.12h4.11v4.45h-4.11zM512.24 174.47h4.11v4.45h-4.11zM504.02 187.81h4.11v4.45h-4.11zM495.80 210.06h4.11v4.45h-4.11zM491.69 236.75h4.11v4.45h-4.11z"/>
<path fill="#4433cd" d="M536.89 36.55h4.11v4.45h-4.11zM528.67 49.89h4.11v4.45h-4.11zM508.13 94.38h4.11v4.45h-4.11zM504.02 107.73h4.11v4.45h-4.11zM491.69 125.53h4.11v4.45h-4.11zM536.89 125.53h4.11v4.45h-4.11zM520.45 138.87h4.11v4.45h-4.11zM483.47 147.77h4.11v4.45h-4.11zM508.13 152.22h4.11v4.45h-4.11zM475.25 178.92h4.11v4.45h-4.11zM475.25 183.37h4.11v4.45h-4.11zM491.69 183.37h4.11v4.45h-4.11zM475.25 187.81h4.11v4.45h-4.11zM487.58 192.26h4.11v4.45h-4.11zM483.47 210.06h4.11v4.45h-4.11zM483.47 214.51h4.11v4.45h-4.11zM475.25 218.96h4.11v4.45h-4.11zM479.36 227.86h4.11v4.45h-4.11z"/>
<path fill="#f5e526" d="M393.07 40.99h4.11v4.45h-4.11zM315.00 54.34h4.11v4.45h-4.11zM319.11 63.24h4.11v4.45h-4.11zM397.18 76.59h4.11v4.45h-4.11zM343.76 94.38h4.11v4.45h-4.11zM347.87 103.28h4.11v4.45h-4.11zM401.29 107.73h4.11v4.45h-4.11zM356.09 116.63h4.11v4.45h-4.11zM360.20 121.08h4.11v4.45h-4.11zM405.40 121.08h4.11v4.45h-4.11zM409.51 129.98h4.11v4.45h-4.11zM364.31 134.43h4.11v4.45h-4.11zM364.31 138.87h4.11v4.45h-4.11zM413.62 138.87h4.11v4.45h-4.11zM368.42 161.12h4.11v4.45h-4.11zM372.53 170.02h4.11v4.45h-4.11zM380.75 196.71h4.11v4.45h-4.11zM413.62 205.61h4.11v4.45h-4.11zM384.85 214.51h4.11v4.45h-4.11zM384.85 218.96h4.11v4.45h-4.11zM384.85 223.41h4.11v4.45h-4.11zM384.85 250.10h4.11v4.45h-4.11z"/>
<path fill="#f7dd2a" d="M397.18 40.99h4.11v4.45h-4.11zM319.11 76.59h4.11v4.45h-4.11zM323.22 81.04h4.11v4.45h-4.11zM401.29 81.04h4.11v4.45h-4.11zM339.65 98.83h4.11v4.45h-4.11zM405.40 103.28h4.11v4.45h-4.11zM405.40 107.73h4.11v4.45h-4.11zM413.62 125.53h4.11v4.45h-4.11zM417.73 138.87h4.11v4.45h-4.11zM417.73 143.32h4.11v4.45h-4.11zM364.31 156.67h4.11v4.45h-4.11zM380.75 214.51h4.11v4.45h-4.11zM380.75 223.41h4.11v4.45h-4.11zM380.75 227.86h4.11v4.45h-4.11zM380.75 245.65h4.11v4.45h-4.11zM413.62 245.65h4.11v4.45h-4.11z"/>
<path fill="#fbd32e" d="M401.29 40.99h4.11v4.45h-4.11zM405.40 81.04h4.11v4.45h-4.11zM319.11 85.49h4.11v4.45h-4.11zM323.22 89.93h4.11v4.45h-4.11zM331.44 98.83h4.11v4.45h-4.11zM335.55 103.28h4.11v4.45h-4.11zM343.76 116.63h4.11v4.45h-4.11zM347.87 121.08h4.11v4.45h-4.11zM364.31 165.57h4.11v4.45h-4.11zM376.64 214.51h4.11v4.45h-4.11z"/>
<path fill="#feca33" d="M405.40 40.99h4.11v4.45h-4.11zM409.51 81.04h4.11v4.45h-4.11zM315.00 89.93h4.11v4.45h-4.11zM319.11 94.38h4.11v4.45h-4.11zM323.22 98.83h4.11v4.45h-4.11zM413.62 98.83h4.11v4.45h-4.11zM327.33 103.28h4.11v4.45h-4.11zM331.44 107.73h4.11v4.45h-4.11zM417.73 112.18h4.11v4.45h-4.11zM421.84 129.98h4.11v4.45h-4.11zM364.31 174.47h4.11v4.45h-4.11zM368.42 183.37h4.11v4.45h-4.11zM372.53 201.16h4.11v4.45h-4.11zM372.53 205.61h4.11v4.45h-4.11zM417.73 241.20h4.11v4.45h-4.11zM417.73 245.65h4.11v4.45h-4.11z"/>
<path fill="#fec13a" d="M409.51 40.99h4.11v4.45h-4.11zM409.51 45.44h4.11v4.45h-4.11zM413.62 81.04h4.11v4.45h-4.11zM315.00 98.83h4.11v4.45h-4.11zM417.73 98.83h4.11v4.45h-4.11zM319.11 103.28h4.11v4.45h-4.11zM323.22 107.73h4.11v4.45h-4.11zM327.33 112.18h4.11v4.45h-4.11zM421.84 116.63h4.11v4.45h-4.11zM335.55 125.53h4.11v4.45h-4.11zM339.65 129.98h4.11v4.45h-4.11zM347.87 134.43h4.11v4.45h-4.11zM351.98 147.77h4.11v4.45h-4.11zM368.42 192.26h4.11v4.45h-4.11zM421.84 192.26h4.11v4.45h-4.11zM372.53 241.20h4.11v4.45h-4.11zM372.53 245.65h4.11v4.45h-4.11zM372.53 250.10h4.11v4.45h-4.11zM372.53 254.55h4.11v4.45h-4.11z"/>
<path fill="#06bcbf" d="M454.71 40.99h4.11v4.45h-4.11zM454.71 45.44h4.11v4.45h-4.11zM450.60 67.69h4.11v4.45h-4.11zM446.49 89.93h4.11v4.45h-4.11zM446.49 94.38h4.11v4.45h-4.11zM446.49 112.18h4.11v4.45h-4.11zM438.27 138.87h4.11v4.45h-4.11zM319.11 174.47h4.11v4.45h-4.11zM331.44 178.92h4.11v4.45h-4.11zM335.55 183.37h4.11v4.45h-4.11zM524.56 205.61h4.11v4.45h-4.11zM347.87 218.96h4.11v4.45h-4.11zM347.87 223.41h4.11v4.45h-4.11z"/>
<path fill="#04b6ce" d="M458.82 40.99h4.11v4.45h-4.11zM454.71 72.14h4.11v4.45h-4.11zM339.65 205.61h4.11v4.45h-4.11zM520.45 205.61h4.11v4.45h-4.11z"/>
<path fill="#17aeda" d="M462.93 40.99h4.11v4.45h-4.11zM462.93 45.44h4.11v4.45h-4.11zM458.82 81.04h4.11v4.45h-4.11zM458.82 103.28h4.11v4.45h-4.11zM458.82 107.73h4.11v4.45h-4.11zM454.71 116.63h4.11v4.45h-4.11zM442.38 143.32h4.11v4.45h-4.11zM331.44 196.71h4.11v4.45h-4.11zM532.78 196.71h4.11v4.45h-4.11zM339.65 223.41h4.11v4.45h-4.11zM442.38 232.31h4.11v4.45h-4.11zM442.38 236.75h4.11v4.45h-4.11zM442.38 245.65h4.11v4.45h-4.11zM442.38 250.10h4.11v4.45h-4.11zM442.38 254.55h4.11v4.45h-4.11z"/>
<path fill="#259be8" d="M471.15 40.99h4.11v4.45h-4.11zM471.15 45.44h4.11v4.45h-4.11zM467.04 85.49h4.11v4.45h-4.11zM450.60 143.32h4.11v4.45h-4.11zM536.89 187.81h4.11v4.45h-4.11zM315.00 196.71h4.11v4.45h-4.11zM323.22 205.61h4.11v4.45h-4.11zM512.24 205.61h4.11v4.45h-4.11zM331.44 227.86h4.11v4.45h-4.11zM335.55 250.10h4.11v4.45h-4.11zM335.55 254.55h4.11v4.45h-4.11zM450.60 254.55h4.11v4.45h-4.11z"/>
<path fill="#2a93ee" d="M475.25 40.99h4.11v4.45h-4.11zM450.60 178.92h4.11v4.45h-4.11zM528.67 187.81h4.11v4.45h-4.11zM450.60 196.71h4.11v4.45h-4.11zM516.35 196.71h4.11v4.45h-4.11zM450.60 210.06h4.11v4.45h-4.11zM450.60 214.51h4.11v4.45h-4.11zM327.33 227.86h4.11v4.45h-4.11zM331.44 241.20h4.11v4.45h-4.11zM504.02 245.65h4.11v4.45h-4.11z"/>
<path fill="#4332ca" d="M536.89 40.99h4.11v4.45h-4.11zM532.78 45.44h4.11v4.45h-4.11zM524.56 58.79h4.11v4.45h-4.11zM520.45 63.24h4.11v4.45h-4.11zM516.35 67.69h4.11v4.45h-4.11zM512.24 76.59h4.11v4.45h-4.11zM508.13 98.83h4.11v4.45h-4.11zM508.13 103.28h4.11v4.45h-4.11zM504.02 112.18h4.11v4.45h-4.11zM499.91 116.63h4.11v4.45h-4.11zM495.80 121.08h4.11v4.45h-4.11zM528.67 129.98h4.11v4.45h-4.11zM487.58 134.43h4.11v4.45h-4.11zM524.56 134.43h4.11v4.45h-4.11zM483.47 152.22h4.11v4.45h-4.11zM504.02 156.67h4.11v4.45h-4.11zM479.36 161.12h4.11v4.45h-4.11zM499.91 165.57h4.11v4.45h-4.11zM495.80 174.47h4.11v4.45h-4.11zM487.58 187.81h4.11v4.45h-4.11zM475.25 192.26h4.11v4.45h-4.11zM475.25 196.71h4.11v4.45h-4.11zM475.25 201.16h4.11v4.45h-4.11zM483.47 201.16h4.11v4.45h-4.11zM475.25 205.61h4.11v4.45h-4.11zM483.47 205.61h4.11v4.45h-4.11zM475.25 210.06h4.11v4.45h-4.11zM475.25 214.51h4.11v4.45h-4.11zM479.36 223.41h4.11v4.45h-4.11z"/>
<path fill="#f6de29" d="M397.18 45.44h4.11v4.45h-4.11zM315.00 72.14h4.11v4.45h-4.11zM331.44 85.49h4.11v4.45h-4.11zM401.29 85.49h4.11v4.45h-4.11zM343.76 103.28h4.11v4.45h-4.11zM347.87 112.18h4.11v4.45h-4.11zM405.40 112.18h4.11v4.45h-4.11zM351.98 116.63h4.11v4.45h-4.11zM356.09 121.08h4.11v4.45h-4.11zM360.20 129.98h4.11v4.45h-4.11zM417.73 147.77h4.11v4.45h-4.11zM372.53 174.47h4.11v4.45h-4.11zM417.73 178.92h4.11v4.45h-4.11zM376.64 187.81h4.11v4.45h-4.11zM380.75 210.06h4.11v4.45h-4.11zM413.62 223.41h4.11v4.45h-4.11zM413.62 227.86h4.11v4.45h-4.11zM380.75 232.31h4.11v4.45h-4.11zM413.62 232.31h4.11v4.45h-4.11zM380.75 236.75h4.11v4.45h-4.11zM413.62 236.75h4.11v4.45h-4.11zM380.75 241.20h4.11v4.45h-4.11zM413.62 241.20h4.11v4.45h-4.11z"/>
<path fill="#fad52e" d="M401.29 45.44h4.11v4.45h-4.11zM315.00 81.04h4.11v4.45h-4.11zM405.40 85.49h4.11v4.45h-4.11zM409.51 103.28h4.11v4.45h-4.11zM339.65 107.73h4.11v4.45h-4.11zM413.62 116.63h4.11v4.45h-4.11zM417.73 125.53h4.11v4.45h-4.11zM356.09 129.98h4.11v4.45h-4.11zM360.20 152.22h4.11v4.45h-4.11zM368.42 174.47h4.11v4.45h-4.11zM417.73 201.16h4.11v4.45h-4.11zM376.64 210.06h4.11v4.45h-4.11z"/>
<path fill="#fdcb32" d="M405.40 45.44h4.11v4.45h-4.11zM405.40 49.89h4.11v4.45h-4.11zM335.55 112.18h4.11v4.45h-4.11zM351.98 129.98h4.11v4.45h-4.11zM421.84 143.32h4.11v4.45h-4.11zM356.09 147.77h4.11v4.45h-4.11zM360.20 161.12h4.11v4.45h-4.11zM421.84 165.57h4.11v4.45h-4.11zM421.84 170.02h4.11v4.45h-4.11zM421.84 174.47h4.11v4.45h-4.11zM372.53 196.71h4.11v4.45h-4.11zM417.73 223.41h4.11v4.45h-4.11zM417.73 227.86h4.11v4.45h-4.11zM417.73 232.31h4.11v4.45h-4.11zM417.73 236.75h4.11v4.45h-4.11z"/>
<path fill="#f9ba3e" d="M413.62 45.44h4.11v4.45h-4.11zM413.62 49.89h4.11v4.45h-4.11zM315.00 107.73h4.11v4.45h-4.11zM319.11 112.18h4.11v4.45h-4.11zM323.22 116.63h4.11v4.45h-4.11zM331.44 129.98h4.11v4.45h-4.11zM339.65 138.87h4.11v4.45h-4.11zM347.87 147.77h4.11v4.45h-4.11zM421.84 210.06h4.11v4.45h-4.11zM421.84 214.51h4.11v4.45h-4.11z"/>
<path fill="#45cb89" d="M442.38 45.44h4.11v4.45h-4.11zM442.38 49.89h4.11v4.45h-4.11zM438.27 72.14h4.11v4.45h-4.11zM438.27 112.18h4.11v4.45h-4.11zM434.16 134.43h4.11v4.45h-4.11zM524.56 218.96h4.11v4.45h-4.11zM520.45 232.31h4.11v4.45h-4.11zM356.09 245.65h4.11v4.45h-4.11zM532.78 245.65h4.11v4.45h-4.11z"/>
<path fill="#23c1af" d="M450.60 45.44h4.11v4.45h-4.11zM442.38 116.63h4.11v4.45h-4.11zM331.44 174.47h4.11v4.45h-4.11z"/>
<path fill="#06b5cf" d="M458.82 45.44h4.11v4.45h-4.11zM458.82 49.89h4.11v4.45h-4.11zM315.00 178.92h4.11v4.45h-4.11zM327.33 183.37h4.11v4.45h-4.11zM343.76 223.41h4.11v4.45h-4.11z"/>
<path fill="#20a5e3" d="M467.04 45.44h4.11v4.45h-4.11zM467.04 49.89h4.11v4.45h-4.11zM462.93 112.18h4.11v4.45h-4.11zM450.60 129.98h4.11v4.45h-4.11zM319.11 192.26h4.11v4.45h-4.11zM327.33 201.16h4.11v4.45h-4.11zM512.24 210.06h4.11v4.45h-4.11zM446.49 254.55h4.11v4.45h-4.11z"/>
<path fill="#4330c5" d="M536.89 45.44h4.11v4.45h-4.11zM532.78 54.34h4.11v4.45h-4.11zM528.67 58.79h4.11v4.45h-4.11zM524.56 63.24h4.11v4.45h-4.11zM520.45 67.69h4.11v4.45h-4.11zM516.35 72.14h4.11v4.45h-4.11zM512.24 103.28h4.11v4.45h-4.11zM512.24 107.73h4.11v4.45h-4.11zM508.13 116.63h4.11v4.45h-4.11zM504.02 121.08h4.11v4.45h-4.11zM524.56 129.98h4.11v4.45h-4.11zM520.45 134.43h4.11v4.45h-4.11zM487.58 143.32h4.11v4.45h-4.11zM504.02 152.22h4.11v4.45h-4.11zM483.47 156.67h4.11v4.45h-4.11zM479.36 170.02h4.11v4.45h-4.11zM487.58 183.37h4.11v4.45h-4.11zM479.36 187.81h4.11v4.45h-4.11zM479.36 192.26h4.11v4.45h-4.11zM483.47 192.26h4.11v4.45h-4.11zM479.36 196.71h4.11v4.45h-4.11zM479.36 201.16h4.11v4.45h-4.11zM479.36 205.61h4.11v4.45h-4.11zM479.36 210.06h4.11v4.45h-4.11z"/>
<path fill="#f9d62d" d="M401.29 49.89h4.11v4.45h-4.11zM401.29 54.34h4.11v4.45h-4.11zM327.33 89.93h4.11v4.45h-4.11zM405.40 89.93h4.11v4.45h-4.11zM331.44 94.38h4.11v4.45h-4.11zM409.51 107.73h4.11v4.45h-4.11zM360.20 147.77h4.11v4.45h-4.11zM372.53 183.37h4.11v4.45h-4.11zM376.64 205.61h4.11v4.45h-4.11zM380.75 254.55h4.11v4.45h-4.11z"/>
<path fill="#fec239" d="M409.51 49.89h4.11v4.45h-4.11zM409.51 54.34h4.11v4.45h-4.11zM331.44 116.63h4.11v4.45h-4.11zM421.84 121.08h4.11v4.45h-4.11zM343.76 129.98h4.11v4.45h-4.11zM356.09 156.67h4.11v4.45h-4.11zM421.84 187.81h4.11v4.45h-4.11zM372.53 232.31h4.11v4.45h-4.11zM372.53 236.75h4.11v4.45h-4.11z"/>
<path fill="#61cd72" d="M438.27 49.89h4.11v4.45h-4.11zM434.16 125.53h4.11v4.45h-4.11zM327.33 161.12h4.11v4.45h-4.11zM528.67 223.41h4.11v4.45h-4.11zM532.78 223.41h4.11v4.45h-4.11z"/>
<path fill="#32c69f" d="M446.49 49.89h4.11v4.45h-4.11zM442.38 67.69h4.11v4.45h-4.11zM434.16 178.92h4.11v4.45h-4.11zM532.78 210.06h4.11v4.45h-4.11zM520.45 250.10h4.11v4.45h-4.11zM524.56 254.55h4.11v4.45h-4.11zM532.78 254.55h4.11v4.45h-4.11z"/>
<path fill="#20c1b1" d="M450.60 49.89h4.11v4.45h-4.11zM446.49 67.69h4.11v4.45h-4.11zM438.27 129.98h4.11v4.45h-4.11zM339.65 183.37h4.11v4.45h-4.11zM343.76 196.71h4.11v4.45h-4.11zM516.35 250.10h4.11v4.45h-4.11z"/>
<path fill="#04bbc1" d="M454.71 49.89h4.11v4.45h-4.11zM442.38 125.53h4.11v4.45h-4.11zM347.87 241.20h4.11v4.45h-4.11z"/>
<path fill="#19addc" d="M462.93 49.89h4.11v4.45h-4.11zM462.93 54.34h4.11v4.45h-4.11zM458.82 85.49h4.11v4.45h-4.11zM458.82 89.93h4.11v4.45h-4.11zM458.82 94.38h4.11v4.45h-4.11zM458.82 98.83h4.11v4.45h-4.11zM446.49 129.98h4.11v4.45h-4.11zM442.38 147.77h4.11v4.45h-4.11zM442.38 152.22h4.11v4.45h-4.11zM323.22 187.81h4.11v4.45h-4.11zM335.55 210.06h4.11v4.45h-4.11zM442.38 227.86h4.11v4.45h-4.11zM442.38 241.20h4.11v4.45h-4.11z"/>
<path fill="#2c90f0" d="M475.25 49.89h4.11v4.45h-4.11zM475.25 54.34h4.11v4.45h-4.11zM467.04 116.63h4.11v4.45h-4.11zM454.71 143.32h4.11v4.45h-4.11zM454.71 147.77h4.11v4.45h-4.11zM520.45 192.26h4.11v4.45h-4.11zM512.24 201.16h4.11v4.45h-4.11zM315.00 205.61h4.11v4.45h-4.11zM508.13 210.06h4.11v4.45h-4.11zM327.33 232.31h4.11v4.45h-4.11zM504.02 236.75h4.11v4.45h-4.11z"/>
<path fill="#4331c8" d="M532.78 49.89h4.11v4.45h-4.11zM528.67 54.34h4.11v4.45h-4.11zM512.24 81.04h4.11v4.45h-4.11zM512.24 85.49h4.11v4.45h-4.11zM512.24 89.93h4.11v4.45h-4.11zM512.24 94.38h4.11v4.45h-4.11zM512.24 98.83h4.11v4.45h-4.11zM508.13 107.73h4.11v4.45h-4.11zM508.13 112.18h4.11v4.45h-4.11zM504.02 116.63h4.11v4.45h-4.11zM499.91 121.08h4.11v4.45h-4.11zM495.80 125.53h4.11v4.45h-4.11zM532.78 125.53h4.11v4.45h-4.11zM491.69 129.98h4.11v4.45h-4.11zM487.58 138.87h4.11v4.45h-4.11zM516.35 138.87h4.11v4.45h-4.11zM512.24 143.32h4.11v4.45h-4.11zM508.13 147.77h4.11v4.45h-4.11zM499.91 161.12h4.11v4.45h-4.11zM479.36 165.57h4.11v4.45h-4.11zM495.80 170.02h4.11v4.45h-4.11zM491.69 178.92h4.11v4.45h-4.11zM483.47 196.71h4.11v4.45h-4.11zM479.36 214.51h4.11v4.45h-4.11zM479.36 218.96h4.11v4.45h-4.11z"/>
<path fill="#422fc2" d="M536.89 49.89h4.11v4.45h-4.11zM516.35 76.59h4.11v4.45h-4.11zM516.35 81.04h4.11v4.45h-4.11zM516.35 85.49h4.11v4.45h-4.11zM516.35 89.93h4.11v4.45h-4.11zM516.35 94.38h4.11v4.45h-4.11zM516.35 98.83h4.11v4.45h-4.11zM516.35 103.28h4.11v4.45h-4.11zM516.35 107.73h4.11v4.45h-4.11zM512.24 112.18h4.11v4.45h-4.11zM512.24 116.63h4.11v4.45h-4.11zM508.13 121.08h4.11v4.45h-4.11zM536.89 121.08h4.11v4.45h-4.11zM499.91 125.53h4.11v4.45h-4.11zM528.67 125.53h4.11v4.45h-4.11zM495.80 129.98h4.11v4.45h-4.11zM491.69 134.43h4.11v4.45h-4.11zM516.35 134.43h4.11v4.45h-4.11zM512.24 138.87h4.11v4.45h-4.11zM508.13 143.32h4.11v4.45h-4.11zM487.58 147.77h4.11v4.45h-4.11zM504.02 147.77h4.11v4.45h-4.11zM487.58 152.22h4.11v4.45h-4.11zM499.91 156.67h4.11v4.45h-4.11zM483.47 161.12h4.11v4.45h-4.11zM495.80 165.57h4.11v4.45h-4.11zM479.36 174.47h4.11v4.45h-4.11zM491.69 174.47h4.11v4.45h-4.11zM479.36 178.92h4.11v4.45h-4.11zM487.58 178.92h4.11v4.45h-4.11zM479.36 183.37h4.11v4.45h-4.11zM483.47 183.37h4.11v4.45h-4.11zM483.47 187.81h4.11v4.45h-4.11z"/>
<path fill="#fdcd31" d="M405.40 54.34h4.11v4.45h-4.11zM405.40 58.79h4.11v4.45h-4.11zM409.51 85.49h4.11v4.45h-4.11zM413.62 103.28h4.11v4.45h-4.11zM339.65 116.63h4.11v4.45h-4.11zM417.73 116.63h4.11v4.45h-4.11zM347.87 125.53h4.11v4.45h-4.11zM421.84 134.43h4.11v4.45h-4.11zM421.84 138.87h4.11v4.45h-4.11zM356.09 143.32h4.11v4.45h-4.11zM421.84 147.77h4.11v4.45h-4.11zM376.64 254.55h4.11v4.45h-4.11z"/>
<path fill="#fbbb3e" d="M413.62 54.34h4.11v4.45h-4.11zM413.62 58.79h4.11v4.45h-4.11zM417.73 85.49h4.11v4.45h-4.11zM421.84 107.73h4.11v4.45h-4.11zM327.33 121.08h4.11v4.45h-4.11zM335.55 134.43h4.11v4.45h-4.11zM360.20 174.47h4.11v4.45h-4.11zM421.84 205.61h4.11v4.45h-4.11zM368.42 223.41h4.11v4.45h-4.11z"/>
<path fill="#ecba32" d="M417.73 54.34h4.11v4.45h-4.11zM417.73 58.79h4.11v4.45h-4.11zM421.84 89.93h4.11v4.45h-4.11zM425.95 125.53h4.11v4.45h-4.11zM425.95 143.32h4.11v4.45h-4.11zM364.31 192.26h4.11v4.45h-4.11zM368.42 236.75h4.11v4.45h-4.11zM368.42 245.65h4.11v4.45h-4.11zM368.42 250.10h4.11v4.45h-4.11zM368.42 254.55h4.11v4.45h-4.11zM421.84 254.55h4.11v4.45h-4.11z"/>
<path fill="#81cc59" d="M434.16 54.34h4.11v4.45h-4.11zM434.16 107.73h4.11v4.45h-4.11zM434.16 112.18h4.11v4.45h-4.11zM315.00 143.32h4.11v4.45h-4.11zM347.87 174.47h4.11v4.45h-4.11zM430.05 183.37h4.11v4.45h-4.11zM356.09 201.16h4.11v4.45h-4.11z"/>
<path fill="#5ecd74" d="M438.27 54.34h4.11v4.45h-4.11zM356.09 214.51h4.11v4.45h-4.11zM536.89 227.86h4.11v4.45h-4.11zM524.56 232.31h4.11v4.45h-4.11zM532.78 236.75h4.11v4.45h-4.11z"/>
<path fill="#40ca8d" d="M442.38 54.34h4.11v4.45h-4.11zM438.27 81.04h4.11v4.45h-4.11zM438.27 85.49h4.11v4.45h-4.11zM438.27 89.93h4.11v4.45h-4.11zM438.27 94.38h4.11v4.45h-4.11zM434.16 138.87h4.11v4.45h-4.11zM327.33 165.57h4.11v4.45h-4.11zM335.55 170.02h4.11v4.45h-4.11z"/>
<path fill="#31c5a1" d="M446.49 54.34h4.11v4.45h-4.11zM315.00 161.12h4.11v4.45h-4.11zM434.16 183.37h4.11v4.45h-4.11zM434.16 187.81h4.11v4.45h-4.11zM434.16 192.26h4.11v4.45h-4.11zM347.87 201.16h4.11v4.45h-4.11zM528.67 210.06h4.11v4.45h-4.11zM536.89 210.06h4.11v4.45h-4.11z"/>
<path fill="#1dc0b3" d="M450.60 54.34h4.11v4.45h-4.11zM319.11 170.02h4.11v4.45h-4.11zM532.78 205.61h4.11v4.45h-4.11zM536.89 205.61h4.11v4.45h-4.11zM347.87 210.06h4.11v4.45h-4.11zM351.98 250.10h4.11v4.45h-4.11z"/>
<path fill="#02bbc2" d="M454.71 54.34h4.11v4.45h-4.11zM438.27 143.32h4.11v4.45h-4.11zM438.27 152.22h4.11v4.45h-4.11zM438.27 156.67h4.11v4.45h-4.11zM339.65 196.71h4.11v4.45h-4.11zM516.35 214.51h4.11v4.45h-4.11z"/>
<path fill="#08b4d1" d="M458.82 54.34h4.11v4.45h-4.11zM454.71 76.59h4.11v4.45h-4.11zM450.60 116.63h4.11v4.45h-4.11zM331.44 187.81h4.11v4.45h-4.11zM335.55 196.71h4.11v4.45h-4.11zM516.35 210.06h4.11v4.45h-4.11zM343.76 227.86h4.11v4.45h-4.11zM343.76 232.31h4.11v4.45h-4.11z"/>
<path fill="#21a3e3" d="M467.04 54.34h4.11v4.45h-4.11zM467.04 58.79h4.11v4.45h-4.11zM467.04 63.24h4.11v4.45h-4.11zM446.49 143.32h4.11v4.45h-4.11zM323.22 196.71h4.11v4.45h-4.11zM331.44 214.51h4.11v4.45h-4.11zM508.13 223.41h4.11v4.45h-4.11zM335.55 227.86h4.11v4.45h-4.11zM446.49 241.20h4.11v4.45h-4.11zM446.49 245.65h4.11v4.45h-4.11zM446.49 250.10h4.11v4.45h-4.11z"/>
<path fill="#422ebf" d="M536.89 54.34h4.11v4.45h-4.11zM532.78 58.79h4.11v4.45h-4.11zM528.67 63.24h4.11v4.45h-4.11zM524.56 67.69h4.11v4.45h-4.11zM520.45 72.14h4.11v4.45h-4.11zM520.45 94.38h4.11v4.45h-4.11zM520.45 98.83h4.11v4.45h-4.11zM520.45 107.73h4.11v4.45h-4.11zM516.35 112.18h4.11v4.45h-4.11zM520.45 112.18h4.11v4.45h-4.11zM516.35 116.63h4.11v4.45h-4.11zM512.24 121.08h4.11v4.45h-4.11zM532.78 121.08h4.11v4.45h-4.11zM504.02 125.53h4.11v4.45h-4.11zM508.13 125.53h4.11v4.45h-4.11zM524.56 125.53h4.11v4.45h-4.11zM499.91 129.98h4.11v4.45h-4.11zM504.02 129.98h4.11v4.45h-4.11zM520.45 129.98h4.11v4.45h-4.11zM495.80 134.43h4.11v4.45h-4.11zM499.91 134.43h4.11v4.45h-4.11zM512.24 134.43h4.11v4.45h-4.11zM491.69 138.87h4.11v4.45h-4.11zM508.13 138.87h4.11v4.45h-4.11zM504.02 143.32h4.11v4.45h-4.11zM499.91 152.22h4.11v4.45h-4.11zM487.58 156.67h4.11v4.45h-4.11zM495.80 156.67h4.11v4.45h-4.11zM487.58 161.12h4.11v4.45h-4.11zM491.69 161.12h4.11v4.45h-4.11zM495.80 161.12h4.11v4.45h-4.11zM483.47 165.57h4.11v4.45h-4.11zM491.69 165.57h4.11v4.45h-4.11zM483.47 170.02h4.11v4.45h-4.11zM491.69 170.02h4.11v4.45h-4.11zM483.47 174.47h4.11v4.45h-4.11zM487.58 174.47h4.11v4.45h-4.11zM483.47 178.92h4.11v4.45h-4.11z"/>
<path fill="#fec438" d="M409.51 58.79h4.11v4.45h-4.11zM413.62 85.49h4.11v4.45h-4.11zM417.73 103.28h4.11v4.45h-4.11zM335.55 121.08h4.11v4.45h-4.11zM339.65 125.53h4.11v4.45h-4.11zM351.98 143.32h4.11v4.45h-4.11zM364.31 178.92h4.11v4.45h-4.11zM421.84 183.37h4.11v4.45h-4.11zM372.53 227.86h4.11v4.45h-4.11z"/>
<path fill="#a1c840" d="M430.05 58.79h4.11v4.45h-4.11zM430.05 63.24h4.11v4.45h-4.11zM430.05 67.69h4.11v4.45h-4.11zM430.05 72.14h4.11v4.45h-4.11zM430.05 76.59h4.11v4.45h-4.11zM430.05 81.04h4.11v4.45h-4.11zM430.05 138.87h4.11v4.45h-4.11zM323.22 147.77h4.11v4.45h-4.11zM430.05 147.77h4.11v4.45h-4.11zM331.44 156.67h4.11v4.45h-4.11zM347.87 170.02h4.11v4.45h-4.11z"/>
<path fill="#7dcc5b" d="M434.16 58.79h4.11v4.45h-4.11zM434.16 103.28h4.11v4.45h-4.11zM339.65 165.57h4.11v4.45h-4.11zM430.05 187.81h4.11v4.45h-4.11zM430.05 192.26h4.11v4.45h-4.11zM360.20 250.10h4.11v4.45h-4.11zM360.20 254.55h4.11v4.45h-4.11z"/>
<path fill="#5acc77" d="M438.27 58.79h4.11v4.45h-4.11zM351.98 196.71h4.11v4.45h-4.11zM536.89 223.41h4.11v4.45h-4.11zM524.56 227.86h4.11v4.45h-4.11zM536.89 232.31h4.11v4.45h-4.11zM524.56 236.75h4.11v4.45h-4.11zM528.67 241.20h4.11v4.45h-4.11z"/>
<path fill="#3bc992" d="M442.38 58.79h4.11v4.45h-4.11zM434.16 143.32h4.11v4.45h-4.11zM434.16 147.77h4.11v4.45h-4.11zM315.00 156.67h4.11v4.45h-4.11zM319.11 161.12h4.11v4.45h-4.11zM520.45 223.41h4.11v4.45h-4.11zM356.09 250.10h4.11v4.45h-4.11zM524.56 250.10h4.11v4.45h-4.11z"/>
<path fill="#00bac6" d="M454.71 58.79h4.11v4.45h-4.11zM450.60 76.59h4.11v4.45h-4.11zM438.27 170.02h4.11v4.45h-4.11zM327.33 178.92h4.11v4.45h-4.11zM536.89 201.16h4.11v4.45h-4.11zM512.24 227.86h4.11v4.45h-4.11zM438.27 232.31h4.11v4.45h-4.11zM438.27 236.75h4.11v4.45h-4.11zM512.24 241.20h4.11v4.45h-4.11z"/>
<path fill="#1aacdd" d="M462.93 58.79h4.11v4.45h-4.11zM458.82 112.18h4.11v4.45h-4.11zM442.38 156.67h4.11v4.45h-4.11zM327.33 192.26h4.11v4.45h-4.11zM512.24 214.51h4.11v4.45h-4.11zM442.38 223.41h4.11v4.45h-4.11zM339.65 227.86h4.11v4.45h-4.11z"/>
<path fill="#412dbd" d="M536.89 58.79h4.11v4.45h-4.11zM532.78 63.24h4.11v4.45h-4.11zM528.67 67.69h4.11v4.45h-4.11zM520.45 76.59h4.11v4.45h-4.11zM520.45 81.04h4.11v4.45h-4.11zM520.45 85.49h4.11v4.45h-4.11zM520.45 89.93h4.11v4.45h-4.11zM520.45 103.28h4.11v4.45h-4.11zM520.45 116.63h4.11v4.45h-4.11zM524.56 116.63h4.11v4.45h-4.11zM516.35 121.08h4.11v4.45h-4.11zM520.45 121.08h4.11v4.45h-4.11zM524.56 121.08h4.11v4.45h-4.11zM528.67 121.08h4.11v4.45h-4.11zM512.24 125.53h4.11v4.45h-4.11zM516.35 125.53h4.11v4.45h-4.11zM520.45 125.53h4.11v4.45h-4.11zM508.13 129.98h4.11v4.45h-4.11zM512.24 129.98h4.11v4.45h-4.11zM516.35 129.98h4.11v4.45h-4.11zM504.02 134.43h4.11v4.45h-4.11zM508.13 134.43h4.11v4.45h-4.11zM495.80 138.87h4.11v4.45h-4.11zM499.91 138.87h4.11v4.45h-4.11zM504.02 138.87h4.11v4.45h-4.11zM491.69 143.32h4.11v4.45h-4.11zM499.91 143.32h4.11v4.45h-4.11zM491.69 147.77h4.11v4.45h-4.11zM499.91 147.77h4.11v4.45h-4.11zM491.69 152.22h4.11v4.45h-4.11zM495.80 152.22h4.11v4.45h-4.11zM491.69 156.67h4.11v4.45h-4.11zM487.58 165.57h4.11v4.45h-4.11zM487.58 170.02h4.11v4.45h-4.11z"/>
<path fill="#fdce31" d="M405.40 63.24h4.11v4.45h-4.11zM405.40 67.69h4.11v4.45h-4.11zM319.11 89.93h4.11v4.45h-4.11zM409.51 89.93h4.11v4.45h-4.11zM323.22 94.38h4.11v4.45h-4.11zM327.33 98.83h4.11v4.45h-4.11zM331.44 103.28h4.11v4.45h-4.11zM413.62 107.73h4.11v4.45h-4.11zM343.76 121.08h4.11v4.45h-4.11zM356.09 138.87h4.11v4.45h-4.11zM421.84 161.12h4.11v4.45h-4.11zM364.31 170.02h4.11v4.45h-4.11zM372.53 192.26h4.11v4.45h-4.11zM417.73 214.51h4.11v4.45h-4.11zM417.73 218.96h4.11v4.45h-4.11z"/>
<path fill="#fec537" d="M409.51 63.24h4.11v4.45h-4.11zM409.51 67.69h4.11v4.45h-4.11zM413.62 89.93h4.11v4.45h-4.11zM315.00 94.38h4.11v4.45h-4.11zM319.11 98.83h4.11v4.45h-4.11zM323.22 103.28h4.11v4.45h-4.11zM327.33 107.73h4.11v4.45h-4.11zM331.44 112.18h4.11v4.45h-4.11zM421.84 125.53h4.11v4.45h-4.11zM351.98 138.87h4.11v4.45h-4.11zM360.20 165.57h4.11v4.45h-4.11zM368.42 187.81h4.11v4.45h-4.11zM417.73 254.55h4.11v4.45h-4.11z"/>
<path fill="#fcbc3e" d="M413.62 63.24h4.11v4.45h-4.11zM331.44 125.53h4.11v4.45h-4.11zM343.76 138.87h4.11v4.45h-4.11zM368.42 201.16h4.11v4.45h-4.11zM368.42 205.61h4.11v4.45h-4.11zM368.42 210.06h4.11v4.45h-4.11z"/>
<path fill="#efba35" d="M417.73 63.24h4.11v4.45h-4.11zM327.33 129.98h4.11v4.45h-4.11zM425.95 138.87h4.11v4.45h-4.11zM425.95 147.77h4.11v4.45h-4.11zM425.95 161.12h4.11v4.45h-4.11zM368.42 232.31h4.11v4.45h-4.11zM421.84 245.65h4.11v4.45h-4.11zM421.84 250.10h4.11v4.45h-4.11z"/>
<path fill="#79cc5e" d="M434.16 63.24h4.11v4.45h-4.11zM434.16 98.83h4.11v4.45h-4.11zM434.16 116.63h4.11v4.45h-4.11zM331.44 161.12h4.11v4.45h-4.11zM351.98 187.81h4.11v4.45h-4.11zM430.05 196.71h4.11v4.45h-4.11z"/>
<path fill="#51cc7f" d="M438.27 63.24h4.11v4.45h-4.11zM434.16 129.98h4.11v4.45h-4.11zM319.11 156.67h4.11v4.45h-4.11zM331.44 165.57h4.11v4.45h-4.11zM356.09 236.75h4.11v4.45h-4.11zM532.78 241.20h4.11v4.45h-4.11z"/>
<path fill="#0eb3d4" d="M458.82 63.24h4.11v4.45h-4.11zM454.71 85.49h4.11v4.45h-4.11zM454.71 89.93h4.11v4.45h-4.11zM454.71 94.38h4.11v4.45h-4.11zM454.71 98.83h4.11v4.45h-4.11zM446.49 125.53h4.11v4.45h-4.11zM323.22 183.37h4.11v4.45h-4.11zM512.24 218.96h4.11v4.45h-4.11zM343.76 241.20h4.11v4.45h-4.11zM343.76 254.55h4.11v4.45h-4.11z"/>
<path fill="#412cba" d="M536.89 63.24h4.11v4.45h-4.11zM532.78 67.69h4.11v4.45h-4.11zM536.89 67.69h4.11v4.45h-4.11zM524.56 72.14h4.11v4.45h-4.11zM528.67 72.14h4.11v4.45h-4.11zM524.56 76.59h4.11v4.45h-4.11zM524.56 81.04h4.11v4.45h-4.11zM524.56 85.49h4.11v4.45h-4.11zM524.56 89.93h4.11v4.45h-4.11zM524.56 94.38h4.11v4.45h-4.11zM528.67 94.38h4.11v4.45h-4.11zM524.56 98.83h4.11v4.45h-4.11zM524.56 103.28h4.11v4.45h-4.11zM524.56 107.73h4.11v4.45h-4.11zM524.56 112.18h4.11v4.45h-4.11zM528.67 116.63h4.11v4.45h-4.11zM532.78 116.63h4.11v4.45h-4.11zM536.89 116.63h4.11v4.45h-4.11zM495.80 143.32h4.11v4.45h-4.11zM495.80 147.77h4.11v4.45h-4.11z"/>
<path fill="#febd3d" d="M413.62 67.69h4.11v4.45h-4.11zM417.73 89.93h4.11v4.45h-4.11zM315.00 103.28h4.11v4.45h-4.11zM319.11 107.73h4.11v4.45h-4.11zM323.22 112.18h4.11v4.45h-4.11zM327.33 116.63h4.11v4.45h-4.11zM339.65 134.43h4.11v4.45h-4.11zM347.87 143.32h4.11v4.45h-4.11zM351.98 152.22h4.11v4.45h-4.11zM356.09 161.12h4.11v4.45h-4.11zM364.31 183.37h4.11v4.45h-4.11zM368.42 196.71h4.11v4.45h-4.11zM421.84 201.16h4.11v4.45h-4.11zM368.42 214.51h4.11v4.45h-4.11zM368.42 218.96h4.11v4.45h-4.11z"/>
<path fill="#f1ba37" d="M417.73 67.69h4.11v4.45h-4.11zM421.84 94.38h4.11v4.45h-4.11zM315.00 112.18h4.11v4.45h-4.11zM319.11 116.63h4.11v4.45h-4.11zM425.95 129.98h4.11v4.45h-4.11zM339.65 143.32h4.11v4.45h-4.11zM343.76 147.77h4.11v4.45h-4.11zM347.87 152.22h4.11v4.45h-4.11zM421.84 241.20h4.11v4.45h-4.11z"/>
<path fill="#debc29" d="M421.84 67.69h4.11v4.45h-4.11zM425.95 103.28h4.11v4.45h-4.11zM319.11 125.53h4.11v4.45h-4.11zM331.44 143.32h4.11v4.45h-4.11zM335.55 147.77h4.11v4.45h-4.11zM356.09 174.47h4.11v4.45h-4.11zM364.31 223.41h4.11v4.45h-4.11z"/>
<path fill="#fec735" d="M409.51 72.14h4.11v4.45h-4.11zM413.62 94.38h4.11v4.45h-4.11zM417.73 107.73h4.11v4.45h-4.11zM335.55 116.63h4.11v4.45h-4.11zM347.87 129.98h4.11v4.45h-4.11zM351.98 134.43h4.11v4.45h-4.11zM372.53 218.96h4.11v4.45h-4.11zM372.53 223.41h4.11v4.45h-4.11z"/>
<path fill="#febe3c" d="M413.62 72.14h4.11v4.45h-4.11zM417.73 94.38h4.11v4.45h-4.11zM421.84 112.18h4.11v4.45h-4.11zM331.44 121.08h4.11v4.45h-4.11zM335.55 129.98h4.11v4.45h-4.11zM343.76 134.43h4.11v4.45h-4.11zM347.87 138.87h4.11v4.45h-4.11z"/>
<path fill="#f3ba39" d="M417.73 72.14h4.11v4.45h-4.11zM323.22 121.08h4.11v4.45h-4.11zM335.55 138.87h4.11v4.45h-4.11zM360.20 178.92h4.11v4.45h-4.11zM421.84 227.86h4.11v4.45h-4.11zM421.84 232.31h4.11v4.45h-4.11zM421.84 236.75h4.11v4.45h-4.11z"/>
<path fill="#e3bc2b" d="M421.84 72.14h4.11v4.45h-4.11zM421.84 76.59h4.11v4.45h-4.11zM425.95 107.73h4.11v4.45h-4.11zM425.95 178.92h4.11v4.45h-4.11zM364.31 201.16h4.11v4.45h-4.11zM364.31 210.06h4.11v4.45h-4.11z"/>
<path fill="#2fc5a3" d="M442.38 72.14h4.11v4.45h-4.11zM438.27 125.53h4.11v4.45h-4.11zM434.16 196.71h4.11v4.45h-4.11zM434.16 201.16h4.11v4.45h-4.11zM351.98 214.51h4.11v4.45h-4.11zM434.16 218.96h4.11v4.45h-4.11zM434.16 223.41h4.11v4.45h-4.11zM351.98 227.86h4.11v4.45h-4.11zM434.16 227.86h4.11v4.45h-4.11zM351.98 232.31h4.11v4.45h-4.11zM434.16 232.31h4.11v4.45h-4.11zM434.16 236.75h4.11v4.45h-4.11z"/>
<path fill="#2798ea" d="M471.15 72.14h4.11v4.45h-4.11zM532.78 187.81h4.11v4.45h-4.11zM524.56 192.26h4.11v4.45h-4.11zM323.22 210.06h4.11v4.45h-4.11zM508.13 214.51h4.11v4.45h-4.11zM331.44 232.31h4.11v4.45h-4.11zM450.60 236.75h4.11v4.45h-4.11z"/>
<path fill="#402bb7" d="M532.78 72.14h4.11v4.45h-4.11zM536.89 72.14h4.11v4.45h-4.11zM528.67 76.59h4.11v4.45h-4.11zM532.78 76.59h4.11v4.45h-4.11zM536.89 76.59h4.11v4.45h-4.11zM528.67 81.04h4.11v4.45h-4.11zM532.78 81.04h4.11v4.45h-4.11zM536.89 81.04h4.11v4.45h-4.11zM528.67 85.49h4.11v4.45h-4.11zM532.78 85.49h4.11v4.45h-4.11zM536.89 85.49h4.11v4.45h-4.11zM528.67 89.93h4.11v4.45h-4.11zM532.78 89.93h4.11v4.45h-4.11zM536.89 89.93h4.11v4.45h-4.11zM532.78 94.38h4.11v4.45h-4.11zM536.89 94.38h4.11v4.45h-4.11zM528.67 98.83h4.11v4.45h-4.11zM532.78 98.83h4.11v4.45h-4.11zM536.89 98.83h4.11v4.45h-4.11zM528.67 103.28h4.11v4.45h-4.11zM532.78 103.28h4.11v4.45h-4.11zM528.67 107.73h4.11v4.45h-4.11zM528.67 112.18h4.11v4.45h-4.11zM532.78 112.18h4.11v4.45h-4.11z"/>
<path fill="#f5ba3b" d="M417.73 76.59h4.11v4.45h-4.11zM421.84 98.83h4.11v4.45h-4.11zM327.33 125.53h4.11v4.45h-4.11zM331.44 134.43h4.11v4.45h-4.11zM425.95 134.43h4.11v4.45h-4.11zM356.09 165.57h4.11v4.45h-4.11zM364.31 187.81h4.11v4.45h-4.11zM421.84 223.41h4.11v4.45h-4.11zM368.42 227.86h4.11v4.45h-4.11z"/>
<path fill="#42ca8b" d="M438.27 76.59h4.11v4.45h-4.11zM438.27 98.83h4.11v4.45h-4.11zM351.98 205.61h4.11v4.45h-4.11zM528.67 214.51h4.11v4.45h-4.11zM532.78 214.51h4.11v4.45h-4.11zM520.45 227.86h4.11v4.45h-4.11zM520.45 236.75h4.11v4.45h-4.11zM536.89 241.20h4.11v4.45h-4.11z"/>
<path fill="#14beb8" d="M446.49 76.59h4.11v4.45h-4.11zM315.00 170.02h4.11v4.45h-4.11zM339.65 187.81h4.11v4.45h-4.11zM516.35 254.55h4.11v4.45h-4.11z"/>
<path fill="#e6bb2d" d="M421.84 81.04h4.11v4.45h-4.11zM343.76 152.22h4.11v4.45h-4.11zM347.87 156.67h4.11v4.45h-4.11zM360.20 183.37h4.11v4.45h-4.11zM364.31 196.71h4.11v4.45h-4.11z"/>
<path fill="#cbc128" d="M425.95 81.04h4.11v4.45h-4.11zM360.20 192.26h4.11v4.45h-4.11zM364.31 232.31h4.11v4.45h-4.11z"/>
<path fill="#f9f916" d="M376.64 85.49h4.11v4.45h-4.11zM380.75 85.49h4.11v4.45h-4.11zM376.64 89.93h4.11v4.45h-4.11zM380.75 89.93h4.11v4.45h-4.11zM384.85 89.93h4.11v4.45h-4.11zM376.64 94.38h4.11v4.45h-4.11zM384.85 94.38h4.11v4.45h-4.11zM376.64 98.83h4.11v4.45h-4.11zM384.85 98.83h4.11v4.45h-4.11zM376.64 103.28h4.11v4.45h-4.11zM380.75 103.28h4.11v4.45h-4.11zM384.85 103.28h4.11v4.45h-4.11zM376.64 107.73h4.11v4.45h-4.11zM380.75 107.73h4.11v4.45h-4.11zM384.85 107.73h4.11v4.45h-4.11zM380.75 112.18h4.11v4.45h-4.11zM384.85 112.18h4.11v4.45h-4.11zM380.75 116.63h4.11v4.45h-4.11zM384.85 116.63h4.11v4.45h-4.11zM380.75 121.08h4.11v4.45h-4.11zM397.18 183.37h4.11v4.45h-4.11zM401.29 183.37h4.11v4.45h-4.11zM405.40 187.81h4.11v4.45h-4.11zM405.40 192.26h4.11v4.45h-4.11zM397.18 196.71h4.11v4.45h-4.11zM397.18 201.16h4.11v4.45h-4.11zM401.29 201.16h4.11v4.45h-4.11z"/>
<path fill="#cec027" d="M425.95 85.49h4.11v4.45h-4.11zM315.00 125.53h4.11v4.45h-4.11zM327.33 143.32h4.11v4.45h-4.11zM335.55 152.22h4.11v4.45h-4.11zM425.95 201.16h4.11v4.45h-4.11z"/>
<path fill="#d3bf27" d="M425.95 89.93h4.11v4.45h-4.11zM343.76 156.67h4.11v4.45h-4.11zM347.87 161.12h4.11v4.45h-4.11zM364.31 227.86h4.11v4.45h-4.11z"/>
<path fill="#f9fb15" d="M380.75 94.38h4.11v4.45h-4.11zM380.75 98.83h4.11v4.45h-4.11zM397.18 187.81h4.11v4.45h-4.11zM401.29 187.81h4.11v4.45h-4.11zM397.18 192.26h4.11v4.45h-4.11zM401.29 192.26h4.11v4.45h-4.11zM401.29 196.71h4.11v4.45h-4.11z"/>
<path fill="#b2c635" d="M430.05 98.83h4.11v4.45h-4.11zM430.05 125.53h4.11v4.45h-4.11zM335.55 156.67h4.11v4.45h-4.11zM360.20 205.61h4.11v4.45h-4.11zM360.20 210.06h4.11v4.45h-4.11zM360.20 214.51h4.11v4.45h-4.11z"/>
<path fill="#b5c533" d="M430.05 103.28h4.11v4.45h-4.11zM323.22 143.32h4.11v4.45h-4.11zM351.98 174.47h4.11v4.45h-4.11z"/>
<path fill="#402ab4" d="M536.89 103.28h4.11v4.45h-4.11zM532.78 107.73h4.11v4.45h-4.11zM536.89 107.73h4.11v4.45h-4.11zM536.89 112.18h4.11v4.45h-4.11z"/>
<path fill="#b8c431" d="M430.05 107.73h4.11v4.45h-4.11zM430.05 121.08h4.11v4.45h-4.11zM360.20 201.16h4.11v4.45h-4.11zM425.95 245.65h4.11v4.45h-4.11zM425.95 250.10h4.11v4.45h-4.11zM425.95 254.55h4.11v4.45h-4.11z"/>
<path fill="#bbc42f" d="M430.05 116.63h4.11v4.45h-4.11zM327.33 147.77h4.11v4.45h-4.11zM331.44 152.22h4.11v4.45h-4.11zM343.76 161.12h4.11v4.45h-4.11zM347.87 165.57h4.11v4.45h-4.11zM425.95 227.86h4.11v4.45h-4.11zM425.95 241.20h4.11v4.45h-4.11z"/>
<path fill="#d0bf27" d="M319.11 129.98h4.11v4.45h-4.11zM331.44 147.77h4.11v4.45h-4.11zM356.09 178.92h4.11v4.45h-4.11z"/>
<path fill="#e1bc2a" d="M323.22 129.98h4.11v4.45h-4.11zM364.31 205.61h4.11v4.45h-4.11z"/>
<path fill="#96ca48" d="M315.00 138.87h4.11v4.45h-4.11zM430.05 165.57h4.11v4.45h-4.11zM430.05 170.02h4.11v4.45h-4.11z"/>
<path fill="#9ac946" d="M319.11 143.32h4.11v4.45h-4.11zM343.76 165.57h4.11v4.45h-4.11zM360.20 227.86h4.11v4.45h-4.11z"/>
<path fill="#9dc943" d="M430.05 143.32h4.11v4.45h-4.11zM430.05 161.12h4.11v4.45h-4.11zM351.98 178.92h4.11v4.45h-4.11zM356.09 192.26h4.11v4.45h-4.11z"/>
</g>
<path d="M315.00 14.30V259.00M319.11 14.30V259.00M323.22 14.30V259.00M327.33 14.30V259.00M331.44 14.30V259.00M335.55 14.30V259.00M339.65 14.30V259.00M343.76 14.30V259.00M347.87 14.30V259.00M351.98 14.30V259.00M356.09 14.30V259.00M360.20 14.30V259.00M364.31 14.30V259.00M368.42 14.30V259.00M372.53 14.30V259.00M376.64 14.30V259.00M380.75 14.30V259.00M384.85 14.30V259.00M388.96 14.30V259.00M393.07 14.30V259.00M397.18 14.30V259.00M401.29 14.30V259.00M405.40 14.30V259.00M409.51 14.30V259.00M413.62 14.30V259.00M417.73 14.30V259.00M421.84 14.30V259.00M425.95 14.30V259.00M430.05 14.30V259.00M434.16 14.30V259.00M438.27 14.30V259.00M442.38 14.30V259.00M446.49 14.30V259.00M450.60 14.30V259.00M454.71 14.30V259.00M458.82 14.30V259.00M462.93 14.30V259.00M467.04 14.30V259.00M471.15 14.30V259.00M475.25 14.30V259.00M479.36 14.30V259.00M483.47 14.30V259.00M487.58 14.30V259.00M491.69 14.30V259.00M495.80 14.30V259.00M499.91 14.30V259.00M504.02 14.30V259.00M508.13 14.30V259.00M512.24 14.30V259.00M516.35 14.30V259.00M520.45 14.30V259.00M524.56 14.30V259.00M528.67 14.30V259.00M532.78 14.30V259.00M536.89 14.30V259.00M541.00 14.30V259.00M315.00 14.30H541.00M315.00 18.75H541.00M315.00 23.20H541.00M315.00 27.65H541.00M315.00 32.10H541.00M315.00 36.55H541.00M315.00 40.99H541.00M315.00 45.44H541.00M315.00 49.89H541.00M315.00 54.34H541.00M315.00 58.79H541.00M315.00 63.24H541.00M315.00 67.69H541.00M315.00 72.14H541.00M315.00 76.59H541.00M315.00 81.04H541.00M315.00 85.49H541.00M315.00 89.93H541.00M315.00 94.38H541.00M315.00 98.83H541.00M315.00 103.28H541.00M315.00 107.73H541.00M315.00 112.18H541.00M315.00 116.63H541.00M315.00 121.08H541.00M315.00 125.53H541.00M315.00 129.98H541.00M315.00 134.43H541.00M315.00 138.87H541.00M315.00 143.32H541.00M315.00 147.77H541.00M315.00 152.22H541.00M315.00 156.67H541.00M315.00 161.12H541.00M315.00 165.57H541.00M315.00 170.02H541.00M315.00 174.47H541.00M315.00 178.92H541.00M315.00 183.37H541.00M315.00 187.81H541.00M315.00 192.26H541.00M315.00 196.71H541.00M315.00 201.16H541.00M315.00 205.61H541.00M315.00 210.06H541.00M315.00 214.51H541.00M315.00 218.96H541.00M315.00 223.41H541.00M315.00 227.86H541.00M315.00 232.31H541.00M315.00 236.75H541.00M315.00 241.20H541.00M315.00 245.65H541.00M315.00 250.10H541.00M315.00 254.55H541.00M315.00 259.00H541.00" stroke="#000" stroke-opacity="0.180" stroke-width="1.00" fill="none"/></g>
<g filter="url(#t)"><text transform="translate(133.00,11.00) scale(0.800,1)" font-size="8.00" fill="#000" stroke="#000" stroke-width="0.12" font-weight="bold" text-anchor="middle">Heatmap for DAS bemaformer</text>
<text transform="translate(22.35,268.00) scale(0.920,1)" font-size="6.60" fill="#262626" stroke="#262626" stroke-width="0.12" font-weight="normal" text-anchor="middle">0.40</text>
<text transform="translate(133.00,268.00) scale(0.920,1)" font-size="6.60" fill="#262626" stroke="#262626" stroke-width="0.12" font-weight="normal" text-anchor="middle">0.00</text>
<text transform="translate(243.60,268.00) scale(0.920,1)" font-size="6.60" fill="#262626" stroke="#262626" stroke-width="0.12" font-weight="normal" text-anchor="middle">0.40</text>
<text transform="translate(132.75,277.00) scale(0.850,1)" font-size="7.60" fill="#262626" stroke="#262626" stroke-width="0.12" font-weight="normal" text-anchor="middle">X coordinate [m]</text>
<text transform="translate(16.80,16.40) scale(0.880,1) rotate(-90)" font-size="6.90" fill="#262626" stroke="#262626" stroke-width="0.12" font-weight="normal" text-anchor="middle">0.40</text>
<text transform="translate(16.80,136.60) scale(0.880,1) rotate(-90)" font-size="6.90" fill="#262626" stroke="#262626" stroke-width="0.12" font-weight="normal" text-anchor="middle">0.00</text>
<text transform="translate(16.80,257.10) scale(0.880,1) rotate(-90)" font-size="6.90" fill="#262626" stroke="#262626" stroke-width="0.12" font-weight="normal" text-anchor="middle">0.40</text>
<text transform="translate(8.40,136.70) scale(0.900,1) rotate(-90)" font-size="7.90" fill="#262626" stroke="#262626" stroke-width="0.12" font-weight="normal" text-anchor="middle">Y coordinate [m]</text>
<text transform="translate(428.00,11.00) scale(0.800,1)" font-size="8.00" fill="#000" stroke="#000" stroke-width="0.12" font-weight="bold" text-anchor="middle">Heatmap for DAS bemaformer</text>
<text transform="translate(317.35,268.00) scale(0.920,1)" font-size="6.60" fill="#262626" stroke="#262626" stroke-width="0.12" font-weight="normal" text-anchor="middle">0.40</text>
<text transform="translate(428.00,268.00) scale(0.920,1)" font-size="6.60" fill="#262626" stroke="#262626" stroke-width="0.12" font-weight="normal" text-anchor="middle">0.00</text>
<text transform="translate(539.35,268.00) scale(0.920,1)" font-size="6.60" fill="#262626" stroke="#262626" stroke-width="0.12" font-weight="normal" text-anchor="middle">0.40</text>
<text transform="translate(427.75,277.00) scale(0.850,1)" font-size="7.60" fill="#262626" stroke="#262626" stroke-width="0.12" font-weight="normal" text-anchor="middle">X coordinate [m]</text>
<text transform="translate(311.80,16.40) scale(0.880,1) rotate(-90)" font-size="6.90" fill="#262626" stroke="#262626" stroke-width="0.12" font-weight="normal" text-anchor="middle">0.40</text>
<text transform="translate(311.80,136.60) scale(0.880,1) rotate(-90)" font-size="6.90" fill="#262626" stroke="#262626" stroke-width="0.12" font-weight="normal" text-anchor="middle">0.00</text>
<text transform="translate(311.80,257.10) scale(0.880,1) rotate(-90)" font-size="6.90" fill="#262626" stroke="#262626" stroke-width="0.12" font-weight="normal" text-anchor="middle">0.40</text>
<text transform="translate(303.40,136.70) scale(0.900,1) rotate(-90)" font-size="7.90" fill="#262626" stroke="#262626" stroke-width="0.12" font-weight="normal" text-anchor="middle">Y coordinate [m]</text></g>
</svg>
</body></html>
